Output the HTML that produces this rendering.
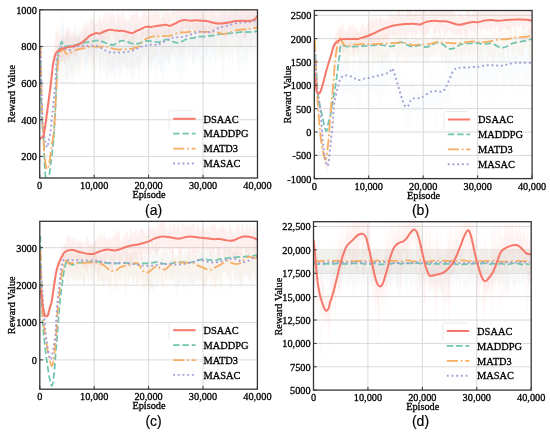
<!DOCTYPE html>
<html><head><meta charset="utf-8"><title>Reward curves</title>
<style>
html,body{margin:0;padding:0;background:#fff;}
body{width:550px;height:433px;overflow:hidden;}
svg{display:block;}
.t{font-family:'Liberation Serif','Times New Roman',serif;font-size:10.3px;fill:#000;stroke:#000;stroke-width:0.3px;}
.lg{font-family:'Liberation Serif','Times New Roman',serif;font-size:10.4px;fill:#000;stroke:#000;stroke-width:0.3px;}
.cap{font-family:'Liberation Sans',Arial,sans-serif;font-size:14px;fill:#000;stroke:#000;stroke-width:0.15px;}
</style></head>
<body>
<svg width="550" height="433" viewBox="0 0 550 433">
<rect width="550" height="433" fill="#fff"/>
<clipPath id="clipa"><rect x="39.7" y="9.8" width="217.8" height="168.2"/></clipPath>
<line x1="94.15" y1="9.8" x2="94.15" y2="178.0" stroke="#D9D9D9" stroke-width="1"/>
<line x1="148.60" y1="9.8" x2="148.60" y2="178.0" stroke="#D9D9D9" stroke-width="1"/>
<line x1="203.05" y1="9.8" x2="203.05" y2="178.0" stroke="#D9D9D9" stroke-width="1"/>
<line x1="39.7" y1="46.45" x2="257.5" y2="46.45" stroke="#D9D9D9" stroke-width="1"/>
<line x1="39.7" y1="83.10" x2="257.5" y2="83.10" stroke="#D9D9D9" stroke-width="1"/>
<line x1="39.7" y1="119.75" x2="257.5" y2="119.75" stroke="#D9D9D9" stroke-width="1"/>
<line x1="39.7" y1="156.40" x2="257.5" y2="156.40" stroke="#D9D9D9" stroke-width="1"/>
<path d="M46.1,106.9 L47.1,98.7 L48.1,97.3 L49.1,80.7 L50.1,73.7 L51.1,73.8 L52.1,62.7 L53.1,51.2 L54.1,49.5 L55.1,37.0 L56.1,28.7 L57.1,33.3 L58.1,31.4 L59.1,27.5 L60.1,43.1 L61.1,39.5 L62.1,37.1 L63.1,34.9 L64.1,38.7 L65.1,36.5 L66.1,29.9 L67.1,27.5 L68.1,36.2 L69.1,25.9 L70.1,28.6 L71.1,34.4 L72.1,32.6 L73.1,30.9 L74.1,39.5 L75.1,24.1 L76.1,31.2 L77.1,38.8 L78.1,35.2 L79.1,34.9 L80.1,27.2 L81.1,36.2 L82.1,29.1 L83.1,23.0 L84.1,29.8 L85.1,23.4 L86.1,21.1 L87.1,25.3 L88.1,30.2 L89.1,21.2 L90.1,18.9 L91.1,17.2 L92.1,20.9 L93.1,17.6 L94.1,22.6 L95.1,23.8 L96.1,17.5 L97.1,24.2 L98.1,22.7 L99.1,14.6 L100.1,13.2 L101.1,25.7 L102.1,14.4 L103.1,21.1 L104.1,7.0 L105.1,23.8 L106.1,9.7 L107.1,13.6 L108.1,23.0 L109.1,10.7 L110.1,12.7 L111.1,16.9 L112.1,10.2 L113.1,17.6 L114.1,11.9 L115.1,20.1 L116.1,24.0 L117.1,15.9 L118.1,5.1 L119.1,20.1 L120.1,13.3 L121.1,20.6 L122.1,10.9 L123.1,11.7 L124.1,15.9 L125.1,19.5 L126.1,22.3 L127.1,18.5 L128.1,18.3 L129.1,23.3 L130.1,13.8 L131.1,15.5 L132.1,14.4 L133.1,14.5 L134.1,9.4 L135.1,16.4 L136.1,13.2 L137.1,7.5 L138.1,12.1 L139.1,20.5 L140.1,15.8 L141.1,21.2 L142.1,15.3 L143.1,13.9 L144.1,9.2 L145.1,14.5 L146.1,2.5 L147.1,20.2 L148.1,15.2 L149.1,6.7 L150.1,9.3 L151.1,6.4 L152.1,16.3 L153.1,8.4 L154.1,15.1 L155.1,7.4 L156.1,7.2 L157.1,8.3 L158.1,6.3 L159.1,17.2 L160.1,6.6 L161.1,17.6 L162.1,19.2 L163.1,8.9 L164.1,13.9 L165.1,12.9 L166.1,4.3 L167.1,7.1 L168.1,13.7 L169.1,5.1 L170.1,16.7 L171.1,12.1 L172.1,12.2 L173.1,5.4 L174.1,12.9 L175.1,4.0 L176.1,2.9 L177.1,-1.2 L178.1,6.5 L179.1,9.7 L180.1,4.0 L181.1,4.8 L182.1,5.5 L183.1,-2.1 L184.1,1.3 L185.1,-0.8 L186.1,2.0 L187.1,4.1 L188.1,5.6 L189.1,4.7 L190.1,11.8 L191.1,9.0 L192.1,4.5 L193.1,0.5 L194.1,9.9 L195.1,2.4 L196.1,0.1 L197.1,5.7 L198.1,3.7 L199.1,0.6 L200.1,6.2 L201.1,9.8 L202.1,8.4 L203.1,12.7 L204.1,12.3 L205.1,12.0 L206.1,0.2 L207.1,11.0 L208.1,8.3 L209.1,3.7 L210.1,5.9 L211.1,2.6 L212.1,11.6 L213.1,5.7 L214.1,4.5 L215.1,15.8 L216.1,-0.2 L217.1,5.9 L218.1,16.2 L219.1,3.4 L220.1,1.8 L221.1,10.1 L222.1,7.8 L223.1,12.0 L224.1,9.2 L225.1,4.0 L226.1,8.7 L227.1,16.0 L228.1,3.9 L229.1,10.3 L230.1,4.2 L231.1,5.1 L232.1,5.6 L233.1,-0.3 L234.1,10.7 L235.1,-2.3 L236.1,5.6 L237.1,1.0 L238.1,3.5 L239.1,7.8 L240.1,9.9 L241.1,10.4 L242.1,6.8 L243.1,10.1 L244.1,2.2 L245.1,-2.5 L246.1,11.9 L247.1,1.5 L248.1,-0.0 L249.1,0.3 L250.1,3.9 L251.1,5.9 L252.1,6.9 L253.1,4.3 L254.1,-0.3 L255.1,12.0 L256.1,2.3 L257.1,-2.2 L257.1,27.9 L256.1,32.4 L255.1,33.2 L254.1,30.0 L253.1,24.7 L252.1,25.5 L251.1,25.0 L250.1,32.8 L249.1,26.3 L248.1,29.2 L247.1,32.0 L246.1,37.9 L245.1,37.2 L244.1,40.4 L243.1,32.9 L242.1,32.2 L241.1,31.0 L240.1,30.9 L239.1,29.5 L238.1,26.8 L237.1,35.6 L236.1,37.0 L235.1,30.5 L234.1,28.7 L233.1,29.0 L232.1,31.0 L231.1,26.7 L230.1,30.8 L229.1,32.7 L228.1,28.1 L227.1,34.9 L226.1,39.6 L225.1,36.8 L224.1,36.9 L223.1,34.5 L222.1,32.1 L221.1,33.1 L220.1,33.5 L219.1,33.9 L218.1,36.4 L217.1,29.7 L216.1,27.4 L215.1,29.0 L214.1,30.5 L213.1,33.4 L212.1,37.7 L211.1,38.3 L210.1,37.2 L209.1,30.8 L208.1,27.0 L207.1,26.6 L206.1,32.9 L205.1,35.6 L204.1,35.8 L203.1,29.1 L202.1,31.3 L201.1,31.2 L200.1,29.3 L199.1,35.8 L198.1,30.1 L197.1,31.8 L196.1,30.5 L195.1,33.6 L194.1,29.9 L193.1,28.7 L192.1,28.3 L191.1,29.7 L190.1,32.8 L189.1,32.5 L188.1,35.8 L187.1,28.5 L186.1,28.4 L185.1,29.0 L184.1,27.4 L183.1,35.6 L182.1,32.2 L181.1,32.7 L180.1,36.5 L179.1,34.3 L178.1,29.3 L177.1,29.3 L176.1,35.1 L175.1,36.1 L174.1,28.2 L173.1,35.1 L172.1,32.2 L171.1,34.0 L170.1,35.0 L169.1,43.9 L168.1,33.7 L167.1,32.6 L166.1,38.1 L165.1,40.2 L164.1,33.1 L163.1,36.7 L162.1,33.2 L161.1,35.0 L160.1,35.5 L159.1,36.8 L158.1,37.7 L157.1,40.3 L156.1,41.9 L155.1,38.8 L154.1,38.4 L153.1,34.8 L152.1,37.5 L151.1,32.6 L150.1,44.4 L149.1,37.0 L148.1,39.1 L147.1,40.9 L146.1,35.5 L145.1,36.2 L144.1,34.7 L143.1,38.6 L142.1,34.7 L141.1,41.0 L140.1,36.8 L139.1,40.4 L138.1,38.2 L137.1,41.0 L136.1,37.5 L135.1,39.6 L134.1,47.1 L133.1,45.5 L132.1,45.1 L131.1,38.9 L130.1,51.3 L129.1,43.6 L128.1,45.8 L127.1,38.7 L126.1,37.8 L125.1,42.2 L124.1,43.3 L123.1,37.9 L122.1,42.9 L121.1,35.8 L120.1,38.5 L119.1,45.0 L118.1,43.5 L117.1,37.5 L116.1,43.6 L115.1,37.5 L114.1,42.7 L113.1,41.2 L112.1,35.2 L111.1,34.4 L110.1,39.9 L109.1,40.3 L108.1,43.7 L107.1,39.8 L106.1,39.8 L105.1,41.0 L104.1,38.0 L103.1,45.5 L102.1,44.4 L101.1,45.2 L100.1,42.5 L99.1,48.1 L98.1,48.1 L97.1,49.9 L96.1,45.3 L95.1,41.2 L94.1,41.8 L93.1,41.9 L92.1,53.8 L91.1,53.6 L90.1,41.8 L89.1,49.8 L88.1,55.3 L87.1,47.0 L86.1,47.2 L85.1,53.3 L84.1,49.0 L83.1,45.8 L82.1,51.0 L81.1,50.8 L80.1,51.3 L79.1,49.9 L78.1,51.8 L77.1,56.0 L76.1,55.5 L75.1,61.3 L74.1,53.2 L73.1,56.4 L72.1,53.8 L71.1,55.7 L70.1,56.4 L69.1,62.1 L68.1,59.7 L67.1,57.3 L66.1,59.4 L65.1,63.9 L64.1,62.6 L63.1,56.8 L62.1,61.2 L61.1,62.0 L60.1,61.4 L59.1,60.5 L58.1,59.3 L57.1,65.0 L56.1,58.6 L55.1,65.5 L54.1,65.9 L53.1,70.2 L52.1,76.6 L51.1,94.3 L50.1,101.6 L49.1,108.0 L48.1,116.7 L47.1,125.9 L46.1,130.6Z" fill="#F6786A" fill-opacity="0.11" stroke="none" clip-path="url(#clipa)"/>
<path d="M53.6,105.3 L54.6,101.8 L55.6,89.9 L56.6,72.0 L57.6,46.5 L58.6,49.1 L59.6,22.6 L60.6,40.1 L61.6,7.1 L62.6,19.8 L63.6,22.7 L64.6,35.4 L65.6,35.5 L66.6,23.3 L67.6,33.7 L68.6,34.4 L69.6,37.5 L70.6,35.2 L71.6,34.9 L72.6,39.7 L73.6,37.5 L74.6,35.1 L75.6,36.3 L76.6,36.5 L77.6,20.4 L78.6,39.1 L79.6,15.5 L80.6,39.6 L81.6,29.4 L82.6,32.6 L83.6,23.7 L84.6,36.6 L85.6,20.6 L86.6,35.4 L87.6,35.7 L88.6,32.9 L89.6,31.3 L90.6,33.6 L91.6,38.1 L92.6,7.9 L93.6,33.8 L94.6,18.9 L95.6,30.4 L96.6,34.3 L97.6,36.6 L98.6,31.1 L99.6,15.4 L100.6,31.1 L101.6,31.0 L102.6,31.3 L103.6,33.7 L104.6,30.1 L105.6,25.0 L106.6,33.9 L107.6,39.2 L108.6,28.0 L109.6,35.3 L110.6,40.2 L111.6,12.1 L112.6,23.8 L113.6,36.0 L114.6,34.0 L115.6,17.3 L116.6,35.9 L117.6,27.2 L118.6,8.6 L119.6,38.0 L120.6,33.2 L121.6,23.8 L122.6,32.4 L123.6,33.2 L124.6,28.7 L125.6,17.5 L126.6,35.2 L127.6,33.7 L128.6,11.0 L129.6,31.5 L130.6,17.0 L131.6,28.9 L132.6,37.4 L133.6,20.7 L134.6,29.3 L135.6,24.7 L136.6,29.5 L137.6,32.9 L138.6,33.2 L139.6,39.4 L140.6,22.9 L141.6,36.4 L142.6,26.4 L143.6,31.1 L144.6,31.9 L145.6,33.8 L146.6,29.6 L147.6,16.2 L148.6,30.0 L149.6,31.2 L150.6,31.5 L151.6,31.8 L152.6,25.5 L153.6,34.7 L154.6,22.4 L155.6,36.4 L156.6,35.0 L157.6,28.5 L158.6,37.8 L159.6,34.8 L160.6,25.6 L161.6,17.0 L162.6,9.1 L163.6,8.4 L164.6,28.2 L165.6,33.6 L166.6,13.0 L167.6,35.7 L168.6,11.0 L169.6,32.8 L170.6,28.0 L171.6,31.0 L172.6,34.3 L173.6,36.4 L174.6,23.6 L175.6,31.0 L176.6,18.8 L177.6,33.2 L178.6,29.1 L179.6,29.1 L180.6,15.1 L181.6,34.6 L182.6,13.9 L183.6,36.0 L184.6,34.9 L185.6,31.7 L186.6,15.5 L187.6,31.8 L188.6,12.4 L189.6,11.6 L190.6,34.2 L191.6,34.4 L192.6,8.0 L193.6,28.0 L194.6,29.8 L195.6,29.0 L196.6,23.1 L197.6,1.2 L198.6,20.5 L199.6,31.8 L200.6,17.5 L201.6,20.3 L202.6,29.2 L203.6,24.4 L204.6,6.0 L205.6,16.1 L206.6,21.4 L207.6,25.1 L208.6,27.2 L209.6,26.0 L210.6,25.7 L211.6,24.3 L212.6,28.5 L213.6,27.9 L214.6,24.6 L215.6,19.4 L216.6,29.2 L217.6,12.9 L218.6,28.5 L219.6,25.8 L220.6,26.7 L221.6,28.2 L222.6,22.7 L223.6,28.9 L224.6,19.4 L225.6,21.5 L226.6,21.7 L227.6,25.2 L228.6,25.2 L229.6,10.9 L230.6,25.1 L231.6,26.1 L232.6,18.6 L233.6,28.1 L234.6,27.7 L235.6,1.4 L236.6,20.4 L237.6,19.0 L238.6,25.4 L239.6,14.7 L240.6,9.6 L241.6,21.6 L242.6,20.1 L243.6,22.5 L244.6,23.5 L245.6,22.6 L246.6,23.2 L247.6,13.3 L248.6,22.2 L249.6,26.8 L250.6,24.4 L251.6,20.8 L252.6,25.5 L253.6,16.2 L254.6,1.1 L255.6,21.2 L256.6,18.1 L256.6,66.7 L255.6,44.0 L254.6,63.8 L253.6,53.1 L252.6,51.1 L251.6,70.1 L250.6,53.6 L249.6,42.7 L248.6,52.6 L247.6,60.3 L246.6,58.7 L245.6,75.7 L244.6,56.5 L243.6,57.7 L242.6,70.7 L241.6,63.8 L240.6,62.2 L239.6,71.9 L238.6,65.6 L237.6,74.2 L236.6,50.2 L235.6,48.4 L234.6,58.8 L233.6,51.2 L232.6,66.8 L231.6,55.9 L230.6,57.7 L229.6,67.5 L228.6,46.7 L227.6,63.2 L226.6,51.9 L225.6,47.5 L224.6,65.8 L223.6,84.1 L222.6,80.2 L221.6,75.9 L220.6,52.2 L219.6,59.5 L218.6,58.7 L217.6,48.2 L216.6,61.0 L215.6,70.3 L214.6,61.4 L213.6,56.4 L212.6,51.1 L211.6,54.6 L210.6,69.2 L209.6,56.5 L208.6,63.1 L207.6,58.1 L206.6,55.3 L205.6,59.7 L204.6,55.2 L203.6,73.6 L202.6,49.4 L201.6,78.1 L200.6,62.4 L199.6,64.5 L198.6,50.8 L197.6,59.9 L196.6,55.9 L195.6,68.4 L194.6,54.8 L193.6,64.1 L192.6,64.7 L191.6,61.3 L190.6,49.6 L189.6,53.4 L188.6,67.8 L187.6,57.8 L186.6,56.1 L185.6,75.4 L184.6,52.4 L183.6,65.2 L182.6,84.8 L181.6,80.1 L180.6,61.9 L179.6,88.5 L178.6,73.9 L177.6,72.8 L176.6,70.8 L175.6,66.8 L174.6,52.2 L173.6,63.7 L172.6,56.2 L171.6,52.8 L170.6,53.2 L169.6,67.3 L168.6,66.3 L167.6,56.9 L166.6,76.9 L165.6,68.8 L164.6,63.7 L163.6,90.7 L162.6,76.6 L161.6,72.3 L160.6,74.1 L159.6,66.8 L158.6,63.3 L157.6,70.4 L156.6,90.5 L155.6,59.9 L154.6,59.4 L153.6,80.4 L152.6,56.6 L151.6,77.8 L150.6,66.6 L149.6,76.8 L148.6,68.0 L147.6,63.7 L146.6,62.1 L145.6,55.0 L144.6,55.0 L143.6,77.6 L142.6,66.2 L141.6,61.3 L140.6,69.9 L139.6,78.0 L138.6,81.5 L137.6,61.4 L136.6,70.8 L135.6,68.0 L134.6,90.1 L133.6,76.4 L132.6,85.7 L131.6,78.6 L130.6,63.0 L129.6,74.2 L128.6,68.0 L127.6,62.2 L126.6,81.4 L125.6,61.5 L124.6,65.7 L123.6,64.4 L122.6,80.5 L121.6,62.2 L120.6,56.2 L119.6,95.2 L118.6,55.9 L117.6,67.7 L116.6,69.2 L115.6,58.6 L114.6,86.3 L113.6,69.7 L112.6,71.5 L111.6,67.1 L110.6,71.9 L109.6,69.5 L108.6,61.7 L107.6,82.7 L106.6,61.9 L105.6,54.5 L104.6,54.0 L103.6,71.7 L102.6,82.6 L101.6,53.7 L100.6,61.4 L99.6,79.7 L98.6,63.2 L97.6,54.3 L96.6,64.1 L95.6,49.6 L94.6,64.2 L93.6,60.7 L92.6,96.2 L91.6,59.5 L90.6,53.4 L89.6,64.8 L88.6,61.1 L87.6,68.3 L86.6,65.0 L85.6,78.1 L84.6,77.9 L83.6,54.9 L82.6,53.6 L81.6,59.6 L80.6,68.4 L79.6,63.8 L78.6,64.6 L77.6,71.7 L76.6,70.6 L75.6,76.8 L74.6,68.6 L73.6,80.9 L72.6,87.1 L71.6,73.0 L70.6,83.4 L69.6,73.2 L68.6,60.2 L67.6,88.0 L66.6,81.3 L65.6,86.8 L64.6,79.6 L63.6,87.4 L62.6,87.8 L61.6,64.2 L60.6,60.3 L59.6,72.6 L58.6,71.4 L57.6,79.1 L56.6,130.7 L55.6,124.1 L54.6,145.0 L53.6,149.1Z" fill="#A8D0DC" fill-opacity="0.09" stroke="none" clip-path="url(#clipa)"/>
<path d="M54.1,121.9 L55.1,104.2 L56.1,87.3 L57.1,62.5 L58.1,41.1 L59.1,46.9 L60.1,47.1 L61.1,29.2 L62.1,34.0 L63.1,40.4 L64.1,38.8 L65.1,44.2 L66.1,31.0 L67.1,25.1 L68.1,26.6 L69.1,45.3 L70.1,48.1 L71.1,38.5 L72.1,37.5 L73.1,43.8 L74.1,22.5 L75.1,45.0 L76.1,44.0 L77.1,33.1 L78.1,38.7 L79.1,37.1 L80.1,36.3 L81.1,43.2 L82.1,41.4 L83.1,40.3 L84.1,38.4 L85.1,31.6 L86.1,21.8 L87.1,39.3 L88.1,37.2 L89.1,38.3 L90.1,41.3 L91.1,40.7 L92.1,40.5 L93.1,37.2 L94.1,35.3 L95.1,39.5 L96.1,41.7 L97.1,36.9 L98.1,37.4 L99.1,39.1 L100.1,26.7 L101.1,23.2 L102.1,26.4 L103.1,40.6 L104.1,38.8 L105.1,30.3 L106.1,33.2 L107.1,42.0 L108.1,24.6 L109.1,29.8 L110.1,42.1 L111.1,33.9 L112.1,39.4 L113.1,44.8 L114.1,40.6 L115.1,45.6 L116.1,26.6 L117.1,43.3 L118.1,41.1 L119.1,42.0 L120.1,45.6 L121.1,39.4 L122.1,42.0 L123.1,36.3 L124.1,35.4 L125.1,29.2 L126.1,29.5 L127.1,34.1 L128.1,34.0 L129.1,40.8 L130.1,40.0 L131.1,39.0 L132.1,32.5 L133.1,34.4 L134.1,36.6 L135.1,22.7 L136.1,28.7 L137.1,37.2 L138.1,39.4 L139.1,39.7 L140.1,36.8 L141.1,32.8 L142.1,32.1 L143.1,28.4 L144.1,35.3 L145.1,33.7 L146.1,26.3 L147.1,30.4 L148.1,30.1 L149.1,22.7 L150.1,26.3 L151.1,24.5 L152.1,26.2 L153.1,29.8 L154.1,10.7 L155.1,31.5 L156.1,12.4 L157.1,29.4 L158.1,20.8 L159.1,22.7 L160.1,27.6 L161.1,24.9 L162.1,25.1 L163.1,26.4 L164.1,18.7 L165.1,17.7 L166.1,19.8 L167.1,28.4 L168.1,28.5 L169.1,17.1 L170.1,25.6 L171.1,24.5 L172.1,29.5 L173.1,22.8 L174.1,28.0 L175.1,26.7 L176.1,26.6 L177.1,15.3 L178.1,29.0 L179.1,28.1 L180.1,15.0 L181.1,26.2 L182.1,27.4 L183.1,9.3 L184.1,21.3 L185.1,23.7 L186.1,17.0 L187.1,21.7 L188.1,24.4 L189.1,22.2 L190.1,22.1 L191.1,27.2 L192.1,8.5 L193.1,23.4 L194.1,14.4 L195.1,6.4 L196.1,20.8 L197.1,27.8 L198.1,20.5 L199.1,24.4 L200.1,12.7 L201.1,23.0 L202.1,28.4 L203.1,25.1 L204.1,25.6 L205.1,25.0 L206.1,24.0 L207.1,24.4 L208.1,27.0 L209.1,23.3 L210.1,22.9 L211.1,21.3 L212.1,17.8 L213.1,5.5 L214.1,28.4 L215.1,22.8 L216.1,19.8 L217.1,22.5 L218.1,22.7 L219.1,27.7 L220.1,23.2 L221.1,20.8 L222.1,27.1 L223.1,28.5 L224.1,24.5 L225.1,25.5 L226.1,25.4 L227.1,11.9 L228.1,15.5 L229.1,27.7 L230.1,25.0 L231.1,27.0 L232.1,24.2 L233.1,22.9 L234.1,13.6 L235.1,26.3 L236.1,9.1 L237.1,24.4 L238.1,17.2 L239.1,19.9 L240.1,16.4 L241.1,20.6 L242.1,21.6 L243.1,19.5 L244.1,23.8 L245.1,23.0 L246.1,11.6 L247.1,5.3 L248.1,4.2 L249.1,18.7 L250.1,7.0 L251.1,19.6 L252.1,16.6 L253.1,14.3 L254.1,23.5 L255.1,14.7 L256.1,3.9 L257.1,20.0 L257.1,46.4 L256.1,41.0 L255.1,65.0 L254.1,41.9 L253.1,48.0 L252.1,41.6 L251.1,49.3 L250.1,38.9 L249.1,67.7 L248.1,53.8 L247.1,46.4 L246.1,69.8 L245.1,40.1 L244.1,53.5 L243.1,51.6 L242.1,41.3 L241.1,48.7 L240.1,50.4 L239.1,44.4 L238.1,62.9 L237.1,52.5 L236.1,55.2 L235.1,51.4 L234.1,47.0 L233.1,54.8 L232.1,60.6 L231.1,47.0 L230.1,46.3 L229.1,55.4 L228.1,46.6 L227.1,56.4 L226.1,56.6 L225.1,57.3 L224.1,49.1 L223.1,57.1 L222.1,55.6 L221.1,56.5 L220.1,60.3 L219.1,51.8 L218.1,56.9 L217.1,49.1 L216.1,67.9 L215.1,53.9 L214.1,41.8 L213.1,48.6 L212.1,44.6 L211.1,43.4 L210.1,53.8 L209.1,41.0 L208.1,46.8 L207.1,57.4 L206.1,50.4 L205.1,40.0 L204.1,39.5 L203.1,42.5 L202.1,51.7 L201.1,48.9 L200.1,51.6 L199.1,52.6 L198.1,51.3 L197.1,44.0 L196.1,40.7 L195.1,54.5 L194.1,51.6 L193.1,57.1 L192.1,57.3 L191.1,42.7 L190.1,56.6 L189.1,65.8 L188.1,42.2 L187.1,49.7 L186.1,48.6 L185.1,55.7 L184.1,68.5 L183.1,56.1 L182.1,52.3 L181.1,51.8 L180.1,49.3 L179.1,54.9 L178.1,60.5 L177.1,42.6 L176.1,58.6 L175.1,54.4 L174.1,55.6 L173.1,54.8 L172.1,50.7 L171.1,55.0 L170.1,55.6 L169.1,53.6 L168.1,58.6 L167.1,61.1 L166.1,52.0 L165.1,56.2 L164.1,54.3 L163.1,59.6 L162.1,59.2 L161.1,52.3 L160.1,50.9 L159.1,44.3 L158.1,49.1 L157.1,55.3 L156.1,60.6 L155.1,53.6 L154.1,57.7 L153.1,55.0 L152.1,73.6 L151.1,59.5 L150.1,63.6 L149.1,66.5 L148.1,48.8 L147.1,48.9 L146.1,65.0 L145.1,75.2 L144.1,54.6 L143.1,62.7 L142.1,58.9 L141.1,64.0 L140.1,72.5 L139.1,70.4 L138.1,60.8 L137.1,67.5 L136.1,58.5 L135.1,56.5 L134.1,66.8 L133.1,68.5 L132.1,78.4 L131.1,68.2 L130.1,57.5 L129.1,56.2 L128.1,71.6 L127.1,80.9 L126.1,62.5 L125.1,72.5 L124.1,59.1 L123.1,64.2 L122.1,71.5 L121.1,74.4 L120.1,67.1 L119.1,69.4 L118.1,60.4 L117.1,67.7 L116.1,60.4 L115.1,58.4 L114.1,68.8 L113.1,63.2 L112.1,78.7 L111.1,80.9 L110.1,74.7 L109.1,72.2 L108.1,65.2 L107.1,67.8 L106.1,62.4 L105.1,83.3 L104.1,67.0 L103.1,57.6 L102.1,67.4 L101.1,69.1 L100.1,87.4 L99.1,68.9 L98.1,61.0 L97.1,56.5 L96.1,72.3 L95.1,78.8 L94.1,57.6 L93.1,64.9 L92.1,69.2 L91.1,65.4 L90.1,67.5 L89.1,71.4 L88.1,60.4 L87.1,61.2 L86.1,60.9 L85.1,55.5 L84.1,67.2 L83.1,65.8 L82.1,66.3 L81.1,74.6 L80.1,70.5 L79.1,70.2 L78.1,66.9 L77.1,79.6 L76.1,67.1 L75.1,67.4 L74.1,86.2 L73.1,71.0 L72.1,73.3 L71.1,66.6 L70.1,93.8 L69.1,78.2 L68.1,79.5 L67.1,72.1 L66.1,87.5 L65.1,69.1 L64.1,68.5 L63.1,59.6 L62.1,81.1 L61.1,85.6 L60.1,75.8 L59.1,78.6 L58.1,85.8 L57.1,91.5 L56.1,118.1 L55.1,131.1 L54.1,147.6Z" fill="#F7AD60" fill-opacity="0.06" stroke="none" clip-path="url(#clipa)"/>
<path d="M55.3,81.7 L56.3,61.0 L57.3,45.3 L58.3,43.9 L59.3,45.8 L60.3,42.7 L61.3,42.7 L62.3,26.6 L63.3,21.1 L64.3,34.0 L65.3,40.5 L66.3,45.4 L67.3,31.5 L68.3,31.0 L69.3,39.6 L70.3,30.9 L71.3,43.8 L72.3,37.6 L73.3,32.5 L74.3,26.3 L75.3,34.8 L76.3,31.0 L77.3,34.0 L78.3,35.1 L79.3,37.0 L80.3,40.2 L81.3,41.4 L82.3,38.1 L83.3,36.2 L84.3,35.0 L85.3,32.2 L86.3,39.2 L87.3,22.1 L88.3,30.1 L89.3,40.5 L90.3,34.4 L91.3,26.9 L92.3,35.7 L93.3,38.8 L94.3,41.0 L95.3,31.8 L96.3,36.3 L97.3,41.1 L98.3,39.6 L99.3,33.5 L100.3,39.2 L101.3,29.7 L102.3,41.4 L103.3,27.1 L104.3,39.9 L105.3,42.9 L106.3,39.6 L107.3,42.5 L108.3,47.7 L109.3,47.8 L110.3,43.5 L111.3,39.8 L112.3,40.1 L113.3,43.4 L114.3,43.1 L115.3,45.9 L116.3,33.7 L117.3,44.9 L118.3,35.5 L119.3,36.6 L120.3,33.1 L121.3,46.2 L122.3,45.5 L123.3,43.5 L124.3,33.6 L125.3,39.3 L126.3,45.5 L127.3,42.5 L128.3,44.8 L129.3,39.0 L130.3,38.6 L131.3,39.9 L132.3,34.6 L133.3,24.1 L134.3,42.1 L135.3,32.5 L136.3,42.5 L137.3,38.2 L138.3,38.2 L139.3,42.9 L140.3,31.5 L141.3,28.6 L142.3,38.3 L143.3,26.3 L144.3,41.0 L145.3,30.5 L146.3,38.5 L147.3,24.4 L148.3,34.7 L149.3,23.1 L150.3,24.0 L151.3,38.2 L152.3,34.3 L153.3,29.5 L154.3,38.3 L155.3,31.6 L156.3,31.6 L157.3,20.6 L158.3,29.5 L159.3,36.4 L160.3,32.9 L161.3,39.3 L162.3,32.1 L163.3,35.4 L164.3,17.6 L165.3,33.1 L166.3,27.9 L167.3,32.1 L168.3,27.6 L169.3,29.1 L170.3,30.3 L171.3,33.3 L172.3,31.0 L173.3,28.1 L174.3,30.3 L175.3,33.7 L176.3,27.8 L177.3,10.4 L178.3,13.4 L179.3,30.5 L180.3,20.1 L181.3,10.2 L182.3,32.1 L183.3,17.1 L184.3,29.0 L185.3,22.0 L186.3,29.1 L187.3,16.0 L188.3,26.4 L189.3,16.7 L190.3,25.3 L191.3,25.8 L192.3,24.9 L193.3,28.7 L194.3,21.4 L195.3,29.1 L196.3,19.0 L197.3,22.1 L198.3,24.4 L199.3,17.8 L200.3,10.4 L201.3,23.6 L202.3,25.2 L203.3,17.0 L204.3,15.5 L205.3,27.6 L206.3,25.3 L207.3,24.9 L208.3,19.5 L209.3,19.0 L210.3,21.5 L211.3,23.0 L212.3,23.2 L213.3,17.3 L214.3,17.6 L215.3,16.0 L216.3,19.3 L217.3,24.7 L218.3,17.5 L219.3,8.8 L220.3,21.3 L221.3,6.1 L222.3,2.2 L223.3,14.8 L224.3,1.8 L225.3,13.5 L226.3,9.5 L227.3,21.7 L228.3,16.2 L229.3,16.5 L230.3,4.6 L231.3,4.7 L232.3,18.6 L233.3,2.9 L234.3,19.4 L235.3,4.0 L236.3,1.6 L237.3,17.5 L238.3,5.6 L239.3,13.0 L240.3,11.2 L241.3,15.1 L242.3,1.4 L243.3,14.3 L244.3,10.5 L245.3,13.3 L246.3,9.2 L247.3,17.8 L248.3,14.5 L249.3,9.9 L250.3,8.3 L251.3,-1.0 L252.3,14.7 L253.3,-0.0 L254.3,10.6 L255.3,6.0 L256.3,8.4 L257.3,12.6 L257.3,30.1 L256.3,54.3 L255.3,31.6 L254.3,43.0 L253.3,33.2 L252.3,42.2 L251.3,51.9 L250.3,50.3 L249.3,43.8 L248.3,33.4 L247.3,35.4 L246.3,48.5 L245.3,37.3 L244.3,48.0 L243.3,31.6 L242.3,47.5 L241.3,47.8 L240.3,45.2 L239.3,56.1 L238.3,44.0 L237.3,57.2 L236.3,37.0 L235.3,35.6 L234.3,43.2 L233.3,45.1 L232.3,37.7 L231.3,35.2 L230.3,43.8 L229.3,41.7 L228.3,43.3 L227.3,33.1 L226.3,47.8 L225.3,50.0 L224.3,43.0 L223.3,37.7 L222.3,52.4 L221.3,49.5 L220.3,43.3 L219.3,40.5 L218.3,37.5 L217.3,35.6 L216.3,48.5 L215.3,48.5 L214.3,45.4 L213.3,56.3 L212.3,55.2 L211.3,41.4 L210.3,52.4 L209.3,50.1 L208.3,42.4 L207.3,53.2 L206.3,57.8 L205.3,64.6 L204.3,41.7 L203.3,50.4 L202.3,50.3 L201.3,43.0 L200.3,49.7 L199.3,56.7 L198.3,47.8 L197.3,57.6 L196.3,58.0 L195.3,51.7 L194.3,61.8 L193.3,64.2 L192.3,51.3 L191.3,45.2 L190.3,56.8 L189.3,53.8 L188.3,50.3 L187.3,47.7 L186.3,43.8 L185.3,52.3 L184.3,47.2 L183.3,54.1 L182.3,59.9 L181.3,52.5 L180.3,61.4 L179.3,53.7 L178.3,63.8 L177.3,44.5 L176.3,53.7 L175.3,46.8 L174.3,48.8 L173.3,56.6 L172.3,54.4 L171.3,56.5 L170.3,57.9 L169.3,65.9 L168.3,64.0 L167.3,56.0 L166.3,61.5 L165.3,62.8 L164.3,54.8 L163.3,58.1 L162.3,63.2 L161.3,76.1 L160.3,65.9 L159.3,64.5 L158.3,66.5 L157.3,53.7 L156.3,58.0 L155.3,81.1 L154.3,56.4 L153.3,58.6 L152.3,60.3 L151.3,67.6 L150.3,53.8 L149.3,57.7 L148.3,66.8 L147.3,70.4 L146.3,52.4 L145.3,54.3 L144.3,56.7 L143.3,57.8 L142.3,55.4 L141.3,67.2 L140.3,62.7 L139.3,66.3 L138.3,66.9 L137.3,73.6 L136.3,62.1 L135.3,68.4 L134.3,72.1 L133.3,60.3 L132.3,68.4 L131.3,68.6 L130.3,82.1 L129.3,68.8 L128.3,67.1 L127.3,69.1 L126.3,68.8 L125.3,70.7 L124.3,68.7 L123.3,61.5 L122.3,64.2 L121.3,79.6 L120.3,71.4 L119.3,65.5 L118.3,73.4 L117.3,77.8 L116.3,66.5 L115.3,80.1 L114.3,80.7 L113.3,61.3 L112.3,82.1 L111.3,67.2 L110.3,65.2 L109.3,62.9 L108.3,83.0 L107.3,80.9 L106.3,73.6 L105.3,72.7 L104.3,67.3 L103.3,67.8 L102.3,58.7 L101.3,63.0 L100.3,65.6 L99.3,71.7 L98.3,53.3 L97.3,55.3 L96.3,74.3 L95.3,53.5 L94.3,63.3 L93.3,65.0 L92.3,64.7 L91.3,56.7 L90.3,64.0 L89.3,57.9 L88.3,55.2 L87.3,65.6 L86.3,62.6 L85.3,65.5 L84.3,65.7 L83.3,56.5 L82.3,55.3 L81.3,65.7 L80.3,58.1 L79.3,80.7 L78.3,79.1 L77.3,53.2 L76.3,57.9 L75.3,67.6 L74.3,55.6 L73.3,62.2 L72.3,70.3 L71.3,73.3 L70.3,70.6 L69.3,66.4 L68.3,61.1 L67.3,86.9 L66.3,61.9 L65.3,64.9 L64.3,67.0 L63.3,61.7 L62.3,59.0 L61.3,65.4 L60.3,75.3 L59.3,70.8 L58.3,82.8 L57.3,72.9 L56.3,82.8 L55.3,102.8Z" fill="#A49ED8" fill-opacity="0.05" stroke="none" clip-path="url(#clipa)"/>
<path d="M40.50,60.00 C40.58,65.00 40.75,80.00 41.00,90.00 C41.25,100.00 41.63,112.83 42.00,120.00 C42.37,127.17 42.90,129.42 43.20,133.00 C43.50,136.58 43.62,137.18 43.80,141.50 C43.98,145.82 44.02,153.12 44.30,158.90 C44.58,164.68 45.05,172.35 45.50,176.20 C45.95,180.05 46.42,182.00 47.00,182.00 C47.58,182.00 48.38,179.10 49.00,176.20 C49.62,173.30 50.13,168.83 50.70,164.60 C51.27,160.37 51.92,155.03 52.40,150.80 C52.88,146.57 53.32,142.67 53.60,139.20 C53.88,135.73 53.90,133.37 54.10,130.00 C54.30,126.63 54.57,123.00 54.80,119.00 C55.03,115.00 55.27,110.83 55.50,106.00 C55.73,101.17 55.95,96.00 56.20,90.00 C56.45,84.00 56.70,75.83 57.00,70.00 C57.30,64.17 57.52,58.80 58.00,55.00 C58.48,51.20 59.28,49.43 59.90,47.20 C60.52,44.97 61.15,41.97 61.70,41.60 C62.25,41.23 62.50,44.22 63.20,45.00 C63.90,45.78 64.68,46.17 65.90,46.30 C67.12,46.43 68.97,46.03 70.50,45.80 C72.03,45.57 73.52,45.28 75.10,44.90 C76.68,44.52 78.27,43.92 80.00,43.50 C81.73,43.08 83.68,42.68 85.50,42.40 C87.32,42.12 89.08,42.12 90.90,41.80 C92.72,41.48 94.58,40.58 96.40,40.50 C98.22,40.42 99.98,40.80 101.80,41.30 C103.62,41.80 105.48,42.90 107.30,43.50 C109.12,44.10 111.07,45.00 112.70,44.90 C114.33,44.80 115.63,43.60 117.10,42.90 C118.57,42.20 120.05,40.97 121.50,40.70 C122.95,40.43 124.35,40.93 125.80,41.30 C127.25,41.67 128.75,42.45 130.20,42.90 C131.65,43.35 132.87,43.97 134.50,44.00 C136.13,44.03 138.17,43.58 140.00,43.10 C141.83,42.62 143.68,41.43 145.50,41.10 C147.32,40.77 148.90,40.92 150.90,41.10 C152.90,41.28 155.68,42.12 157.50,42.20 C159.32,42.28 160.35,42.05 161.80,41.60 C163.25,41.15 164.75,39.68 166.20,39.50 C167.65,39.32 168.87,39.97 170.50,40.50 C172.13,41.03 174.35,42.42 176.00,42.70 C177.65,42.98 178.95,42.65 180.40,42.20 C181.85,41.75 183.25,40.60 184.70,40.00 C186.15,39.40 187.47,38.97 189.10,38.60 C190.73,38.23 193.02,38.12 194.50,37.80 C195.98,37.48 196.50,36.88 198.00,36.70 C199.50,36.52 201.68,36.82 203.50,36.70 C205.32,36.58 207.08,36.23 208.90,36.00 C210.72,35.77 212.58,35.60 214.40,35.30 C216.22,35.00 217.98,34.45 219.80,34.20 C221.62,33.95 223.48,33.98 225.30,33.80 C227.12,33.62 228.88,33.28 230.70,33.10 C232.52,32.92 234.38,32.92 236.20,32.70 C238.02,32.48 239.78,31.92 241.60,31.80 C243.42,31.68 245.28,32.00 247.10,32.00 C248.92,32.00 250.77,31.93 252.50,31.80 C254.23,31.67 256.67,31.30 257.50,31.20" fill="none" stroke="#70C4B0" stroke-width="1.75" stroke-dasharray="6.5 2.8" clip-path="url(#clipa)"/>
<path d="M40.50,47.00 C40.58,50.83 40.78,61.17 41.00,70.00 C41.22,78.83 41.53,91.33 41.80,100.00 C42.07,108.67 42.37,116.42 42.60,122.00 C42.83,127.58 43.00,129.28 43.20,133.50 C43.40,137.72 43.52,143.07 43.80,147.30 C44.08,151.53 44.42,155.23 44.90,158.90 C45.38,162.57 46.02,168.35 46.70,169.30 C47.38,170.25 48.33,167.30 49.00,164.60 C49.67,161.90 50.13,156.95 50.70,153.10 C51.27,149.25 51.83,145.35 52.40,141.50 C52.97,137.65 53.72,133.65 54.10,130.00 C54.48,126.35 54.50,123.25 54.70,119.60 C54.90,115.95 55.10,111.95 55.30,108.10 C55.50,104.25 55.70,100.35 55.90,96.50 C56.10,92.65 56.28,89.08 56.50,85.00 C56.72,80.92 56.93,75.83 57.20,72.00 C57.47,68.17 57.82,64.75 58.10,62.00 C58.38,59.25 58.60,57.05 58.90,55.50 C59.20,53.95 59.43,53.55 59.90,52.70 C60.37,51.85 61.08,50.88 61.70,50.40 C62.32,49.92 62.98,49.42 63.60,49.80 C64.22,50.18 64.78,51.98 65.40,52.70 C66.02,53.42 66.60,53.93 67.30,54.10 C68.00,54.27 68.77,54.08 69.60,53.70 C70.43,53.32 71.23,52.42 72.30,51.80 C73.37,51.18 74.72,50.48 76.00,50.00 C77.28,49.52 78.60,49.22 80.00,48.90 C81.40,48.58 82.95,48.40 84.40,48.10 C85.85,47.80 87.25,47.33 88.70,47.10 C90.15,46.87 91.63,46.77 93.10,46.70 C94.57,46.63 96.05,46.70 97.50,46.70 C98.95,46.70 100.35,46.70 101.80,46.70 C103.25,46.70 104.75,46.47 106.20,46.70 C107.65,46.93 109.05,47.68 110.50,48.10 C111.95,48.52 113.43,48.97 114.90,49.20 C116.37,49.43 117.85,49.50 119.30,49.50 C120.75,49.50 122.15,49.30 123.60,49.20 C125.05,49.10 126.53,49.00 128.00,48.90 C129.47,48.80 130.95,48.90 132.40,48.60 C133.85,48.30 135.43,47.60 136.70,47.10 C137.97,46.60 139.08,46.52 140.00,45.60 C140.92,44.68 141.12,42.80 142.20,41.60 C143.28,40.40 145.23,39.12 146.50,38.40 C147.77,37.68 148.52,37.63 149.80,37.30 C151.08,36.97 152.20,36.58 154.20,36.40 C156.20,36.22 159.62,36.27 161.80,36.20 C163.98,36.13 165.67,36.15 167.30,36.00 C168.93,35.85 170.15,35.72 171.60,35.30 C173.05,34.88 174.53,33.98 176.00,33.50 C177.47,33.02 178.95,32.58 180.40,32.40 C181.85,32.22 183.25,32.50 184.70,32.40 C186.15,32.30 187.47,31.93 189.10,31.80 C190.73,31.67 193.02,31.60 194.50,31.60 C195.98,31.60 196.50,31.77 198.00,31.80 C199.50,31.83 201.68,31.80 203.50,31.80 C205.32,31.80 207.08,31.80 208.90,31.80 C210.72,31.80 212.58,31.58 214.40,31.80 C216.22,32.02 218.17,32.73 219.80,33.10 C221.43,33.47 222.75,34.03 224.20,34.00 C225.65,33.97 227.05,33.35 228.50,32.90 C229.95,32.45 231.43,31.75 232.90,31.30 C234.37,30.85 235.85,30.48 237.30,30.20 C238.75,29.92 239.97,29.78 241.60,29.60 C243.23,29.42 245.28,29.32 247.10,29.10 C248.92,28.88 250.77,28.58 252.50,28.30 C254.23,28.02 256.67,27.55 257.50,27.40" fill="none" stroke="#F7AD60" stroke-width="1.75" stroke-dasharray="11.2 2.8 1.75 2.8" clip-path="url(#clipa)"/>
<path d="M40.50,47.00 C40.58,50.83 40.78,61.17 41.00,70.00 C41.22,78.83 41.53,90.83 41.80,100.00 C42.07,109.17 42.37,120.00 42.60,125.00 C42.83,130.00 42.92,128.02 43.20,130.00 C43.48,131.98 43.92,134.78 44.30,136.90 C44.68,139.02 45.02,140.97 45.50,142.70 C45.98,144.43 46.72,147.30 47.20,147.30 C47.68,147.30 48.02,144.43 48.40,142.70 C48.78,140.97 49.12,139.02 49.50,136.90 C49.88,134.78 50.32,132.88 50.70,130.00 C51.08,127.12 51.42,123.25 51.80,119.60 C52.18,115.95 52.62,111.95 53.00,108.10 C53.38,104.25 53.72,100.35 54.10,96.50 C54.48,92.65 55.00,89.08 55.30,85.00 C55.60,80.92 55.68,76.15 55.90,72.00 C56.12,67.85 56.32,62.85 56.60,60.10 C56.88,57.35 57.28,56.88 57.60,55.50 C57.92,54.12 58.12,53.03 58.50,51.80 C58.88,50.57 59.22,48.87 59.90,48.10 C60.58,47.33 61.60,46.97 62.60,47.20 C63.60,47.43 64.82,48.97 65.90,49.50 C66.98,50.03 68.03,50.63 69.10,50.40 C70.17,50.17 70.98,48.78 72.30,48.10 C73.62,47.42 75.45,46.68 77.00,46.30 C78.55,45.92 80.07,45.88 81.60,45.80 C83.13,45.72 84.65,45.83 86.20,45.80 C87.75,45.77 89.20,45.57 90.90,45.60 C92.60,45.63 94.58,45.53 96.40,46.00 C98.22,46.47 100.17,47.60 101.80,48.40 C103.43,49.20 104.75,50.12 106.20,50.80 C107.65,51.48 109.05,52.22 110.50,52.50 C111.95,52.78 113.43,52.50 114.90,52.50 C116.37,52.50 117.85,52.55 119.30,52.50 C120.75,52.45 122.15,52.35 123.60,52.20 C125.05,52.05 126.53,51.88 128.00,51.60 C129.47,51.32 130.95,50.95 132.40,50.50 C133.85,50.05 135.43,49.47 136.70,48.90 C137.97,48.33 138.72,47.58 140.00,47.10 C141.28,46.62 142.95,46.37 144.40,46.00 C145.85,45.63 147.25,45.17 148.70,44.90 C150.15,44.63 151.63,44.40 153.10,44.40 C154.57,44.40 156.05,45.18 157.50,44.90 C158.95,44.62 159.98,43.60 161.80,42.70 C163.62,41.80 166.58,40.32 168.40,39.50 C170.22,38.68 171.25,38.17 172.70,37.80 C174.15,37.43 175.63,37.42 177.10,37.30 C178.57,37.18 180.05,37.32 181.50,37.10 C182.95,36.88 184.35,36.43 185.80,36.00 C187.25,35.57 188.75,34.92 190.20,34.50 C191.65,34.08 193.20,33.95 194.50,33.50 C195.80,33.05 196.68,32.08 198.00,31.80 C199.32,31.52 200.95,31.70 202.40,31.80 C203.85,31.90 205.25,32.40 206.70,32.40 C208.15,32.40 209.63,32.27 211.10,31.80 C212.57,31.33 214.05,30.32 215.50,29.60 C216.95,28.88 218.35,28.03 219.80,27.50 C221.25,26.97 222.75,26.77 224.20,26.40 C225.65,26.03 227.05,25.70 228.50,25.30 C229.95,24.90 231.43,24.40 232.90,24.00 C234.37,23.60 235.85,23.15 237.30,22.90 C238.75,22.65 240.15,22.62 241.60,22.50 C243.05,22.38 244.53,22.32 246.00,22.20 C247.47,22.08 248.95,22.02 250.40,21.80 C251.85,21.58 253.52,21.13 254.70,20.90 C255.88,20.67 257.03,20.48 257.50,20.40" fill="none" stroke="#A49ED8" stroke-width="1.9" stroke-dasharray="1.9 2.8" clip-path="url(#clipa)"/>
<path d="M39.70,139.50 C39.90,139.27 40.43,138.52 40.90,138.10 C41.37,137.68 42.02,137.52 42.50,137.00 C42.98,136.48 43.20,137.90 43.80,135.00 C44.40,132.10 45.33,125.05 46.10,119.60 C46.87,114.15 47.63,108.07 48.40,102.30 C49.17,96.53 50.13,89.55 50.70,85.00 C51.27,80.45 51.43,78.33 51.80,75.00 C52.17,71.67 52.48,67.78 52.90,65.00 C53.32,62.22 53.83,60.18 54.30,58.30 C54.77,56.42 55.15,54.87 55.70,53.70 C56.25,52.53 56.83,52.00 57.60,51.30 C58.37,50.60 59.23,50.03 60.30,49.50 C61.37,48.97 62.77,48.48 64.00,48.10 C65.23,47.72 66.47,47.48 67.70,47.20 C68.93,46.92 70.17,46.63 71.40,46.40 C72.63,46.17 73.87,46.13 75.10,45.80 C76.33,45.47 77.57,45.02 78.80,44.40 C80.03,43.78 81.27,43.02 82.50,42.10 C83.73,41.18 84.95,39.98 86.20,38.90 C87.45,37.82 88.85,36.38 90.00,35.60 C91.15,34.82 92.03,34.62 93.10,34.20 C94.17,33.78 95.32,33.20 96.40,33.10 C97.48,33.00 98.33,33.87 99.60,33.60 C100.87,33.33 102.35,32.13 104.00,31.50 C105.65,30.87 107.68,29.98 109.50,29.80 C111.32,29.62 113.27,30.22 114.90,30.40 C116.53,30.58 117.85,30.82 119.30,30.90 C120.75,30.98 122.15,30.68 123.60,30.90 C125.05,31.12 126.53,31.83 128.00,32.20 C129.47,32.57 130.95,33.32 132.40,33.10 C133.85,32.88 135.43,31.48 136.70,30.90 C137.97,30.32 138.53,30.27 140.00,29.60 C141.47,28.93 143.68,27.35 145.50,26.90 C147.32,26.45 149.08,27.03 150.90,26.90 C152.72,26.77 154.58,26.37 156.40,26.10 C158.22,25.83 160.17,25.53 161.80,25.30 C163.43,25.07 164.92,24.62 166.20,24.70 C167.48,24.78 168.42,25.80 169.50,25.80 C170.58,25.80 171.62,25.15 172.70,24.70 C173.78,24.25 174.72,23.73 176.00,23.10 C177.28,22.47 178.95,21.42 180.40,20.90 C181.85,20.38 183.07,20.03 184.70,20.00 C186.33,19.97 188.57,20.63 190.20,20.70 C191.83,20.77 193.20,20.45 194.50,20.40 C195.80,20.35 196.50,20.35 198.00,20.40 C199.50,20.45 201.68,20.52 203.50,20.70 C205.32,20.88 207.08,21.13 208.90,21.50 C210.72,21.87 212.58,22.55 214.40,22.90 C216.22,23.25 217.98,23.57 219.80,23.60 C221.62,23.63 223.48,23.37 225.30,23.10 C227.12,22.83 228.88,22.33 230.70,22.00 C232.52,21.67 234.38,21.32 236.20,21.10 C238.02,20.88 239.78,20.73 241.60,20.70 C243.42,20.67 245.28,20.95 247.10,20.90 C248.92,20.85 251.05,20.85 252.50,20.40 C253.95,19.95 254.97,18.93 255.80,18.20 C256.63,17.47 257.22,16.37 257.50,16.00" fill="none" stroke="#F6786A" stroke-width="2.0" clip-path="url(#clipa)"/>
<rect x="39.7" y="9.8" width="217.8" height="168.2" fill="none" stroke="#333333" stroke-width="1.3"/>
<line x1="39.70" y1="178.0" x2="39.70" y2="174.8" stroke="#333333" stroke-width="1"/>
<line x1="94.15" y1="178.0" x2="94.15" y2="174.8" stroke="#333333" stroke-width="1"/>
<line x1="148.60" y1="178.0" x2="148.60" y2="174.8" stroke="#333333" stroke-width="1"/>
<line x1="203.05" y1="178.0" x2="203.05" y2="174.8" stroke="#333333" stroke-width="1"/>
<line x1="257.50" y1="178.0" x2="257.50" y2="174.8" stroke="#333333" stroke-width="1"/>
<line x1="39.7" y1="9.80" x2="42.900000000000006" y2="9.80" stroke="#333333" stroke-width="1"/>
<text x="36.80" y="13.70" text-anchor="end" class="t">1000</text>
<line x1="39.7" y1="46.45" x2="42.900000000000006" y2="46.45" stroke="#333333" stroke-width="1"/>
<text x="36.80" y="50.35" text-anchor="end" class="t">800</text>
<line x1="39.7" y1="83.10" x2="42.900000000000006" y2="83.10" stroke="#333333" stroke-width="1"/>
<text x="36.80" y="87.00" text-anchor="end" class="t">600</text>
<line x1="39.7" y1="119.75" x2="42.900000000000006" y2="119.75" stroke="#333333" stroke-width="1"/>
<text x="36.80" y="123.65" text-anchor="end" class="t">400</text>
<line x1="39.7" y1="156.40" x2="42.900000000000006" y2="156.40" stroke="#333333" stroke-width="1"/>
<text x="36.80" y="160.30" text-anchor="end" class="t">200</text>
<text x="39.70" y="189.20" text-anchor="middle" class="t">0</text>
<text x="94.15" y="189.20" text-anchor="middle" class="t">10,000</text>
<text x="148.60" y="189.20" text-anchor="middle" class="t">20,000</text>
<text x="203.05" y="189.20" text-anchor="middle" class="t">30,000</text>
<text x="257.50" y="189.20" text-anchor="middle" class="t">40,000</text>
<text x="149.00" y="198.00" text-anchor="middle" class="t">Episode</text>
<text transform="translate(14.80,93.90) rotate(-90)" text-anchor="middle" class="t">Reward Value</text>
<text x="153.60" y="214.70" text-anchor="middle" class="cap">(a)</text>
<path d="M169.1,128.8 L169.1,112.8 Q169.1,110.8 171.1,110.8 L193.1,110.8" fill="none" stroke="#E4E4E4" stroke-width="0.8"/>
<line x1="173.1" y1="118.80" x2="195.6" y2="118.80" stroke="#F6786A" stroke-width="2.0"/>
<text x="203.40" y="122.50" class="lg">DSAAC</text>
<line x1="173.1" y1="133.70" x2="195.6" y2="133.70" stroke="#70C4B0" stroke-width="1.75" stroke-dasharray="6.5 2.8"/>
<text x="203.40" y="137.40" class="lg">MADDPG</text>
<line x1="173.1" y1="148.60" x2="195.6" y2="148.60" stroke="#F7AD60" stroke-width="1.75" stroke-dasharray="11.2 2.8 1.75 2.8"/>
<text x="203.40" y="152.30" class="lg">MATD3</text>
<line x1="173.1" y1="163.50" x2="195.6" y2="163.50" stroke="#A49ED8" stroke-width="1.9" stroke-dasharray="1.9 2.8"/>
<text x="203.40" y="167.20" class="lg">MASAC</text>
<clipPath id="clipb"><rect x="314.3" y="10.5" width="217.8" height="168.1"/></clipPath>
<line x1="368.75" y1="10.5" x2="368.75" y2="178.6" stroke="#D9D9D9" stroke-width="1"/>
<line x1="423.20" y1="10.5" x2="423.20" y2="178.6" stroke="#D9D9D9" stroke-width="1"/>
<line x1="477.65" y1="10.5" x2="477.65" y2="178.6" stroke="#D9D9D9" stroke-width="1"/>
<line x1="314.3" y1="15.30" x2="532.1" y2="15.30" stroke="#D9D9D9" stroke-width="1"/>
<line x1="314.3" y1="38.65" x2="532.1" y2="38.65" stroke="#D9D9D9" stroke-width="1"/>
<line x1="314.3" y1="61.99" x2="532.1" y2="61.99" stroke="#D9D9D9" stroke-width="1"/>
<line x1="314.3" y1="85.33" x2="532.1" y2="85.33" stroke="#D9D9D9" stroke-width="1"/>
<line x1="314.3" y1="108.68" x2="532.1" y2="108.68" stroke="#D9D9D9" stroke-width="1"/>
<line x1="314.3" y1="132.03" x2="532.1" y2="132.03" stroke="#D9D9D9" stroke-width="1"/>
<line x1="314.3" y1="155.37" x2="532.1" y2="155.37" stroke="#D9D9D9" stroke-width="1"/>
<path d="M334.0,38.1 L335.0,38.3 L336.0,29.7 L337.0,35.0 L338.0,24.1 L339.0,30.8 L340.0,25.6 L341.0,29.3 L342.0,20.5 L343.0,23.5 L344.0,28.4 L345.0,32.3 L346.0,32.2 L347.0,28.8 L348.0,29.7 L349.0,27.8 L350.0,24.5 L351.0,24.6 L352.0,31.8 L353.0,19.4 L354.0,33.9 L355.0,24.7 L356.0,31.0 L357.0,24.7 L358.0,33.6 L359.0,30.7 L360.0,31.3 L361.0,25.9 L362.0,24.3 L363.0,23.8 L364.0,29.3 L365.0,25.0 L366.0,31.2 L367.0,24.8 L368.0,19.8 L369.0,19.1 L370.0,24.9 L371.0,15.3 L372.0,19.1 L373.0,19.8 L374.0,18.1 L375.0,20.7 L376.0,15.2 L377.0,19.0 L378.0,24.1 L379.0,16.5 L380.0,15.0 L381.0,17.5 L382.0,18.5 L383.0,17.0 L384.0,22.0 L385.0,19.8 L386.0,16.9 L387.0,19.6 L388.0,19.8 L389.0,13.7 L390.0,12.3 L391.0,14.0 L392.0,19.4 L393.0,10.8 L394.0,16.5 L395.0,15.4 L396.0,13.9 L397.0,11.6 L398.0,10.5 L399.0,10.1 L400.0,11.2 L401.0,18.7 L402.0,9.5 L403.0,12.8 L404.0,15.8 L405.0,19.0 L406.0,7.4 L407.0,12.1 L408.0,5.4 L409.0,9.3 L410.0,11.0 L411.0,7.2 L412.0,13.9 L413.0,14.2 L414.0,14.6 L415.0,10.2 L416.0,12.5 L417.0,4.0 L418.0,18.3 L419.0,7.0 L420.0,11.3 L421.0,10.9 L422.0,13.1 L423.0,15.0 L424.0,10.7 L425.0,5.4 L426.0,9.2 L427.0,11.6 L428.0,16.1 L429.0,10.6 L430.0,11.9 L431.0,10.8 L432.0,3.6 L433.0,8.7 L434.0,3.1 L435.0,8.1 L436.0,13.4 L437.0,4.8 L438.0,9.4 L439.0,8.8 L440.0,3.2 L441.0,7.3 L442.0,5.6 L443.0,10.1 L444.0,14.3 L445.0,9.0 L446.0,11.1 L447.0,10.2 L448.0,11.9 L449.0,6.0 L450.0,11.1 L451.0,5.9 L452.0,7.5 L453.0,14.0 L454.0,10.1 L455.0,14.0 L456.0,18.7 L457.0,15.4 L458.0,17.9 L459.0,8.5 L460.0,15.6 L461.0,13.4 L462.0,15.1 L463.0,14.7 L464.0,16.0 L465.0,18.2 L466.0,11.7 L467.0,10.8 L468.0,7.6 L469.0,7.2 L470.0,15.7 L471.0,11.3 L472.0,17.1 L473.0,11.1 L474.0,11.3 L475.0,7.9 L476.0,11.9 L477.0,12.0 L478.0,13.1 L479.0,12.8 L480.0,6.1 L481.0,12.4 L482.0,5.0 L483.0,8.3 L484.0,8.0 L485.0,13.5 L486.0,8.7 L487.0,4.3 L488.0,10.9 L489.0,6.0 L490.0,4.5 L491.0,6.3 L492.0,5.8 L493.0,7.8 L494.0,6.4 L495.0,10.5 L496.0,12.1 L497.0,3.0 L498.0,14.6 L499.0,1.6 L500.0,1.2 L501.0,15.6 L502.0,13.1 L503.0,9.0 L504.0,10.7 L505.0,11.5 L506.0,12.3 L507.0,10.7 L508.0,11.5 L509.0,9.2 L510.0,8.1 L511.0,8.8 L512.0,1.9 L513.0,11.4 L514.0,11.9 L515.0,7.4 L516.0,7.7 L517.0,4.0 L518.0,13.0 L519.0,6.5 L520.0,7.5 L521.0,6.1 L522.0,3.5 L523.0,4.0 L524.0,14.5 L525.0,4.6 L526.0,10.6 L527.0,14.5 L528.0,4.6 L529.0,3.9 L530.0,9.7 L531.0,4.5 L532.0,5.2 L532.0,34.9 L531.0,30.6 L530.0,37.8 L529.0,32.2 L528.0,32.1 L527.0,25.5 L526.0,27.2 L525.0,29.9 L524.0,31.6 L523.0,28.6 L522.0,31.2 L521.0,24.0 L520.0,26.0 L519.0,27.1 L518.0,28.5 L517.0,27.5 L516.0,25.2 L515.0,34.4 L514.0,26.6 L513.0,26.6 L512.0,28.0 L511.0,34.3 L510.0,29.9 L509.0,29.5 L508.0,31.6 L507.0,29.3 L506.0,29.9 L505.0,27.8 L504.0,27.8 L503.0,30.5 L502.0,31.9 L501.0,29.7 L500.0,33.6 L499.0,32.2 L498.0,33.1 L497.0,25.7 L496.0,25.4 L495.0,37.2 L494.0,26.8 L493.0,26.5 L492.0,35.4 L491.0,27.8 L490.0,33.0 L489.0,28.4 L488.0,29.4 L487.0,32.8 L486.0,29.3 L485.0,28.5 L484.0,25.9 L483.0,31.4 L482.0,28.2 L481.0,34.1 L480.0,29.5 L479.0,27.2 L478.0,30.2 L477.0,31.2 L476.0,37.7 L475.0,28.1 L474.0,34.7 L473.0,32.0 L472.0,28.3 L471.0,36.6 L470.0,32.5 L469.0,27.8 L468.0,37.2 L467.0,37.6 L466.0,36.3 L465.0,36.2 L464.0,29.5 L463.0,31.8 L462.0,38.6 L461.0,34.9 L460.0,37.6 L459.0,33.2 L458.0,35.3 L457.0,34.8 L456.0,35.1 L455.0,30.8 L454.0,36.7 L453.0,35.7 L452.0,30.9 L451.0,31.3 L450.0,35.7 L449.0,29.2 L448.0,33.4 L447.0,32.3 L446.0,34.5 L445.0,37.5 L444.0,36.8 L443.0,30.8 L442.0,28.2 L441.0,31.6 L440.0,37.5 L439.0,31.1 L438.0,34.6 L437.0,30.4 L436.0,33.2 L435.0,33.4 L434.0,38.0 L433.0,29.9 L432.0,28.1 L431.0,26.5 L430.0,29.6 L429.0,33.4 L428.0,33.6 L427.0,34.1 L426.0,33.6 L425.0,36.6 L424.0,35.5 L423.0,33.6 L422.0,28.5 L421.0,36.7 L420.0,32.8 L419.0,29.7 L418.0,35.0 L417.0,33.7 L416.0,34.2 L415.0,36.4 L414.0,30.4 L413.0,35.2 L412.0,41.1 L411.0,30.6 L410.0,32.8 L409.0,36.9 L408.0,30.6 L407.0,38.1 L406.0,36.6 L405.0,40.1 L404.0,31.3 L403.0,36.8 L402.0,33.8 L401.0,35.8 L400.0,34.6 L399.0,32.7 L398.0,35.6 L397.0,36.5 L396.0,39.6 L395.0,35.3 L394.0,36.2 L393.0,36.3 L392.0,34.8 L391.0,35.9 L390.0,36.9 L389.0,38.0 L388.0,40.0 L387.0,40.3 L386.0,39.2 L385.0,39.7 L384.0,40.4 L383.0,42.1 L382.0,33.5 L381.0,44.6 L380.0,42.3 L379.0,45.0 L378.0,43.6 L377.0,47.3 L376.0,36.9 L375.0,44.8 L374.0,51.3 L373.0,44.8 L372.0,46.3 L371.0,43.3 L370.0,44.9 L369.0,48.9 L368.0,49.0 L367.0,41.3 L366.0,42.6 L365.0,49.0 L364.0,41.9 L363.0,50.9 L362.0,43.7 L361.0,43.1 L360.0,42.8 L359.0,51.9 L358.0,50.2 L357.0,45.9 L356.0,47.0 L355.0,51.9 L354.0,54.5 L353.0,55.0 L352.0,45.5 L351.0,45.4 L350.0,43.7 L349.0,46.9 L348.0,48.8 L347.0,51.9 L346.0,46.4 L345.0,50.3 L344.0,49.0 L343.0,54.8 L342.0,48.4 L341.0,47.9 L340.0,51.2 L339.0,54.7 L338.0,52.3 L337.0,52.4 L336.0,51.8 L335.0,59.5 L334.0,53.1Z" fill="#F6786A" fill-opacity="0.11" stroke="none" clip-path="url(#clipb)"/>
<path d="M339.4,30.2 L340.4,24.3 L341.4,30.4 L342.4,37.2 L343.4,41.1 L344.4,38.2 L345.4,39.3 L346.4,41.8 L347.4,32.9 L348.4,33.8 L349.4,38.0 L350.4,42.1 L351.4,39.6 L352.4,37.0 L353.4,38.6 L354.4,32.1 L355.4,38.2 L356.4,32.4 L357.4,28.7 L358.4,34.5 L359.4,31.3 L360.4,41.0 L361.4,32.1 L362.4,40.0 L363.4,28.1 L364.4,34.9 L365.4,32.9 L366.4,33.7 L367.4,37.2 L368.4,33.4 L369.4,34.9 L370.4,30.1 L371.4,35.2 L372.4,39.5 L373.4,34.0 L374.4,40.9 L375.4,34.7 L376.4,33.5 L377.4,38.8 L378.4,31.3 L379.4,39.6 L380.4,33.3 L381.4,36.7 L382.4,33.3 L383.4,27.1 L384.4,34.3 L385.4,33.6 L386.4,34.8 L387.4,32.9 L388.4,40.7 L389.4,36.4 L390.4,38.1 L391.4,39.0 L392.4,37.6 L393.4,32.0 L394.4,38.4 L395.4,38.5 L396.4,37.1 L397.4,35.2 L398.4,38.3 L399.4,26.0 L400.4,35.4 L401.4,36.8 L402.4,37.3 L403.4,34.5 L404.4,37.2 L405.4,38.3 L406.4,38.5 L407.4,38.7 L408.4,40.0 L409.4,37.5 L410.4,36.5 L411.4,36.7 L412.4,38.3 L413.4,39.5 L414.4,36.4 L415.4,32.3 L416.4,37.5 L417.4,35.9 L418.4,39.5 L419.4,34.7 L420.4,37.4 L421.4,37.1 L422.4,39.0 L423.4,37.6 L424.4,34.8 L425.4,26.8 L426.4,37.3 L427.4,37.9 L428.4,38.5 L429.4,38.1 L430.4,40.9 L431.4,36.3 L432.4,36.5 L433.4,36.9 L434.4,30.1 L435.4,37.1 L436.4,37.1 L437.4,35.7 L438.4,36.4 L439.4,36.5 L440.4,33.2 L441.4,39.7 L442.4,38.9 L443.4,35.8 L444.4,38.6 L445.4,38.2 L446.4,35.2 L447.4,35.3 L448.4,40.0 L449.4,34.6 L450.4,31.0 L451.4,38.2 L452.4,38.2 L453.4,39.2 L454.4,38.5 L455.4,30.6 L456.4,29.8 L457.4,36.1 L458.4,39.6 L459.4,29.2 L460.4,37.7 L461.4,39.3 L462.4,35.9 L463.4,35.0 L464.4,27.3 L465.4,39.3 L466.4,34.6 L467.4,37.4 L468.4,37.8 L469.4,37.0 L470.4,38.4 L471.4,31.9 L472.4,37.4 L473.4,34.6 L474.4,36.6 L475.4,38.4 L476.4,34.6 L477.4,38.1 L478.4,38.2 L479.4,38.2 L480.4,37.0 L481.4,32.0 L482.4,31.9 L483.4,32.4 L484.4,37.7 L485.4,35.2 L486.4,33.6 L487.4,38.1 L488.4,35.7 L489.4,37.1 L490.4,34.8 L491.4,33.8 L492.4,37.3 L493.4,34.9 L494.4,25.9 L495.4,32.6 L496.4,35.4 L497.4,35.1 L498.4,33.6 L499.4,34.9 L500.4,30.0 L501.4,31.3 L502.4,32.8 L503.4,32.4 L504.4,28.5 L505.4,32.2 L506.4,35.1 L507.4,30.6 L508.4,24.2 L509.4,28.3 L510.4,31.0 L511.4,34.9 L512.4,31.5 L513.4,31.6 L514.4,23.0 L515.4,28.9 L516.4,30.1 L517.4,32.8 L518.4,24.0 L519.4,32.5 L520.4,30.2 L521.4,32.7 L522.4,31.0 L523.4,32.2 L524.4,29.7 L525.4,29.1 L526.4,28.9 L527.4,28.9 L528.4,28.1 L529.4,32.4 L530.4,25.9 L531.4,29.1 L531.4,53.4 L530.4,57.9 L529.4,61.2 L528.4,54.6 L527.4,44.5 L526.4,42.6 L525.4,48.0 L524.4,49.2 L523.4,59.6 L522.4,52.2 L521.4,57.6 L520.4,53.8 L519.4,53.0 L518.4,56.6 L517.4,47.9 L516.4,57.0 L515.4,47.2 L514.4,57.9 L513.4,56.0 L512.4,55.6 L511.4,55.6 L510.4,47.6 L509.4,50.9 L508.4,56.2 L507.4,59.2 L506.4,49.4 L505.4,47.9 L504.4,49.7 L503.4,60.0 L502.4,56.4 L501.4,45.5 L500.4,50.1 L499.4,63.3 L498.4,54.7 L497.4,48.9 L496.4,58.4 L495.4,55.7 L494.4,53.4 L493.4,64.0 L492.4,58.8 L491.4,63.3 L490.4,53.4 L489.4,59.9 L488.4,53.0 L487.4,66.7 L486.4,47.8 L485.4,51.3 L484.4,48.7 L483.4,56.5 L482.4,64.7 L481.4,59.1 L480.4,58.8 L479.4,52.3 L478.4,56.3 L477.4,54.8 L476.4,49.0 L475.4,53.0 L474.4,57.7 L473.4,63.9 L472.4,55.0 L471.4,58.0 L470.4,50.1 L469.4,53.9 L468.4,57.1 L467.4,51.4 L466.4,50.7 L465.4,60.3 L464.4,54.9 L463.4,53.3 L462.4,60.5 L461.4,65.2 L460.4,61.4 L459.4,53.5 L458.4,51.5 L457.4,57.9 L456.4,53.2 L455.4,60.6 L454.4,57.2 L453.4,51.1 L452.4,59.9 L451.4,50.7 L450.4,57.2 L449.4,58.1 L448.4,51.0 L447.4,58.4 L446.4,60.5 L445.4,61.5 L444.4,56.4 L443.4,56.5 L442.4,63.3 L441.4,63.2 L440.4,52.1 L439.4,60.0 L438.4,49.0 L437.4,59.5 L436.4,51.4 L435.4,55.6 L434.4,57.8 L433.4,53.1 L432.4,61.2 L431.4,54.9 L430.4,60.6 L429.4,51.3 L428.4,54.8 L427.4,61.2 L426.4,66.7 L425.4,58.8 L424.4,54.1 L423.4,58.4 L422.4,53.9 L421.4,57.7 L420.4,58.4 L419.4,56.7 L418.4,61.0 L417.4,63.9 L416.4,57.6 L415.4,63.2 L414.4,51.1 L413.4,56.9 L412.4,57.8 L411.4,59.8 L410.4,58.9 L409.4,53.3 L408.4,61.2 L407.4,64.9 L406.4,53.0 L405.4,62.4 L404.4,62.2 L403.4,68.1 L402.4,51.2 L401.4,63.2 L400.4,51.4 L399.4,56.4 L398.4,57.6 L397.4,61.3 L396.4,64.6 L395.4,56.3 L394.4,55.8 L393.4,49.3 L392.4,58.5 L391.4,51.2 L390.4,49.5 L389.4,56.8 L388.4,57.2 L387.4,60.7 L386.4,58.1 L385.4,58.3 L384.4,62.0 L383.4,57.1 L382.4,63.4 L381.4,64.2 L380.4,62.5 L379.4,55.5 L378.4,59.5 L377.4,62.4 L376.4,57.6 L375.4,62.7 L374.4,66.0 L373.4,56.3 L372.4,64.1 L371.4,56.0 L370.4,62.9 L369.4,54.3 L368.4,51.9 L367.4,67.5 L366.4,51.3 L365.4,56.2 L364.4,54.9 L363.4,51.8 L362.4,50.8 L361.4,57.0 L360.4,65.3 L359.4,58.9 L358.4,55.5 L357.4,54.8 L356.4,56.9 L355.4,50.3 L354.4,55.3 L353.4,62.7 L352.4,55.6 L351.4,55.3 L350.4,56.9 L349.4,55.7 L348.4,69.0 L347.4,61.3 L346.4,70.0 L345.4,57.3 L344.4,60.4 L343.4,60.5 L342.4,56.6 L341.4,57.5 L340.4,45.5 L339.4,64.0Z" fill="#F7AD60" fill-opacity="0.07" stroke="none" clip-path="url(#clipb)"/>
<path d="M338.8,55.0 L339.8,47.4 L340.8,34.9 L341.8,38.6 L342.8,31.3 L343.8,35.3 L344.8,36.7 L345.8,38.3 L346.8,34.0 L347.8,34.2 L348.8,38.0 L349.8,41.9 L350.8,37.7 L351.8,41.8 L352.8,33.2 L353.8,36.5 L354.8,31.8 L355.8,43.2 L356.8,39.2 L357.8,38.1 L358.8,42.7 L359.8,37.0 L360.8,41.3 L361.8,39.6 L362.8,40.8 L363.8,39.4 L364.8,36.8 L365.8,38.8 L366.8,33.4 L367.8,41.0 L368.8,37.9 L369.8,39.2 L370.8,38.4 L371.8,38.6 L372.8,33.7 L373.8,41.5 L374.8,36.6 L375.8,35.9 L376.8,36.7 L377.8,37.2 L378.8,35.0 L379.8,37.1 L380.8,40.5 L381.8,40.2 L382.8,38.2 L383.8,38.2 L384.8,36.0 L385.8,42.6 L386.8,38.8 L387.8,38.9 L388.8,40.6 L389.8,41.9 L390.8,42.0 L391.8,39.5 L392.8,40.1 L393.8,37.8 L394.8,41.4 L395.8,39.4 L396.8,39.0 L397.8,31.4 L398.8,39.8 L399.8,34.4 L400.8,35.5 L401.8,36.2 L402.8,36.7 L403.8,36.7 L404.8,29.4 L405.8,31.8 L406.8,32.2 L407.8,40.8 L408.8,37.2 L409.8,42.1 L410.8,42.0 L411.8,39.8 L412.8,42.0 L413.8,38.2 L414.8,31.2 L415.8,42.1 L416.8,38.2 L417.8,38.7 L418.8,42.0 L419.8,41.5 L420.8,37.0 L421.8,38.2 L422.8,40.8 L423.8,41.5 L424.8,33.3 L425.8,40.4 L426.8,40.9 L427.8,39.9 L428.8,41.6 L429.8,38.0 L430.8,42.3 L431.8,30.9 L432.8,40.7 L433.8,35.8 L434.8,28.9 L435.8,37.6 L436.8,35.6 L437.8,38.1 L438.8,38.8 L439.8,26.7 L440.8,36.9 L441.8,36.5 L442.8,38.0 L443.8,37.2 L444.8,39.9 L445.8,41.0 L446.8,41.0 L447.8,43.6 L448.8,36.4 L449.8,44.6 L450.8,38.5 L451.8,36.9 L452.8,45.8 L453.8,43.9 L454.8,43.7 L455.8,43.4 L456.8,42.7 L457.8,35.7 L458.8,37.5 L459.8,40.8 L460.8,37.6 L461.8,36.6 L462.8,37.4 L463.8,38.4 L464.8,30.5 L465.8,37.5 L466.8,31.1 L467.8,38.1 L468.8,38.6 L469.8,32.9 L470.8,37.9 L471.8,40.1 L472.8,33.1 L473.8,39.1 L474.8,33.4 L475.8,39.1 L476.8,40.2 L477.8,36.9 L478.8,28.8 L479.8,31.8 L480.8,38.9 L481.8,39.5 L482.8,37.5 L483.8,37.4 L484.8,37.6 L485.8,35.8 L486.8,39.5 L487.8,34.6 L488.8,36.9 L489.8,37.1 L490.8,39.1 L491.8,37.8 L492.8,38.4 L493.8,39.2 L494.8,39.5 L495.8,38.9 L496.8,38.1 L497.8,43.4 L498.8,40.0 L499.8,42.0 L500.8,34.3 L501.8,44.7 L502.8,44.2 L503.8,42.2 L504.8,39.7 L505.8,41.2 L506.8,43.4 L507.8,39.9 L508.8,40.1 L509.8,30.9 L510.8,37.7 L511.8,29.1 L512.8,36.7 L513.8,38.7 L514.8,38.0 L515.8,37.3 L516.8,38.8 L517.8,37.3 L518.8,36.5 L519.8,38.4 L520.8,34.9 L521.8,36.4 L522.8,27.3 L523.8,31.1 L524.8,36.3 L525.8,37.6 L526.8,32.6 L527.8,34.3 L528.8,32.5 L529.8,32.3 L530.8,27.3 L531.8,32.3 L531.8,60.3 L530.8,45.6 L529.8,59.3 L528.8,53.1 L527.8,65.5 L526.8,53.0 L525.8,58.7 L524.8,47.9 L523.8,56.9 L522.8,59.4 L521.8,66.8 L520.8,58.5 L519.8,54.4 L518.8,51.9 L517.8,53.1 L516.8,63.5 L515.8,60.4 L514.8,66.8 L513.8,53.1 L512.8,50.0 L511.8,58.4 L510.8,55.5 L509.8,66.5 L508.8,57.4 L507.8,55.0 L506.8,52.6 L505.8,56.2 L504.8,63.6 L503.8,59.0 L502.8,63.9 L501.8,67.4 L500.8,63.2 L499.8,56.3 L498.8,62.7 L497.8,61.7 L496.8,64.9 L495.8,58.0 L494.8,60.1 L493.8,62.9 L492.8,62.9 L491.8,52.9 L490.8,57.8 L489.8,56.0 L488.8,52.3 L487.8,63.4 L486.8,57.8 L485.8,63.7 L484.8,49.7 L483.8,53.6 L482.8,68.1 L481.8,49.9 L480.8,58.3 L479.8,62.3 L478.8,59.6 L477.8,59.9 L476.8,60.0 L475.8,53.0 L474.8,58.6 L473.8,50.5 L472.8,65.1 L471.8,61.2 L470.8,49.1 L469.8,60.5 L468.8,61.2 L467.8,61.9 L466.8,54.6 L465.8,53.0 L464.8,57.6 L463.8,54.9 L462.8,53.3 L461.8,60.5 L460.8,53.6 L459.8,56.5 L458.8,55.6 L457.8,62.8 L456.8,67.7 L455.8,58.0 L454.8,55.1 L453.8,59.2 L452.8,63.5 L451.8,63.2 L450.8,62.5 L449.8,68.4 L448.8,70.0 L447.8,64.4 L446.8,69.5 L445.8,62.7 L444.8,63.3 L443.8,72.6 L442.8,51.8 L441.8,63.5 L440.8,61.6 L439.8,49.7 L438.8,56.1 L437.8,63.1 L436.8,48.5 L435.8,52.4 L434.8,56.2 L433.8,64.3 L432.8,52.4 L431.8,53.4 L430.8,63.8 L429.8,64.3 L428.8,60.2 L427.8,66.2 L426.8,59.7 L425.8,57.9 L424.8,66.0 L423.8,62.5 L422.8,70.6 L421.8,52.3 L420.8,62.2 L419.8,58.2 L418.8,58.8 L417.8,53.1 L416.8,62.7 L415.8,62.4 L414.8,59.0 L413.8,59.6 L412.8,58.0 L411.8,68.5 L410.8,51.9 L409.8,67.5 L408.8,51.5 L407.8,58.6 L406.8,65.9 L405.8,60.9 L404.8,51.7 L403.8,50.0 L402.8,63.1 L401.8,54.2 L400.8,56.8 L399.8,61.9 L398.8,55.1 L397.8,62.8 L396.8,61.3 L395.8,60.3 L394.8,52.9 L393.8,52.0 L392.8,53.3 L391.8,64.5 L390.8,55.0 L389.8,63.0 L388.8,57.4 L387.8,62.5 L386.8,54.0 L385.8,63.3 L384.8,64.1 L383.8,68.7 L382.8,64.3 L381.8,63.1 L380.8,68.7 L379.8,54.2 L378.8,59.2 L377.8,64.9 L376.8,60.8 L375.8,54.0 L374.8,58.5 L373.8,62.6 L372.8,59.8 L371.8,51.9 L370.8,56.4 L369.8,51.3 L368.8,60.5 L367.8,61.4 L366.8,62.8 L365.8,59.8 L364.8,61.9 L363.8,64.0 L362.8,64.1 L361.8,66.5 L360.8,60.8 L359.8,63.4 L358.8,60.9 L357.8,64.1 L356.8,63.0 L355.8,55.2 L354.8,68.5 L353.8,60.4 L352.8,72.0 L351.8,64.6 L350.8,55.0 L349.8,64.4 L348.8,53.3 L347.8,59.7 L346.8,70.0 L345.8,63.1 L344.8,67.7 L343.8,55.9 L342.8,51.3 L341.8,63.5 L340.8,61.4 L339.8,70.6 L338.8,73.2Z" fill="#A8D0DC" fill-opacity="0.06" stroke="none" clip-path="url(#clipb)"/>
<path d="M339.6,55.1 L340.6,67.3 L341.6,58.1 L342.6,65.8 L343.6,66.4 L344.6,57.0 L345.6,56.3 L346.6,71.5 L347.6,59.5 L348.6,45.7 L349.6,58.1 L350.6,71.5 L351.6,69.1 L352.6,64.1 L353.6,70.8 L354.6,69.9 L355.6,51.0 L356.6,71.5 L357.6,73.6 L358.6,69.0 L359.6,50.9 L360.6,66.6 L361.6,73.2 L362.6,57.9 L363.6,68.5 L364.6,48.1 L365.6,62.0 L366.6,71.5 L367.6,68.1 L368.6,66.5 L369.6,68.1 L370.6,72.1 L371.6,59.8 L372.6,46.2 L373.6,46.5 L374.6,51.4 L375.6,70.8 L376.6,68.3 L377.6,63.7 L378.6,57.4 L379.6,64.4 L380.6,62.7 L381.6,45.5 L382.6,63.1 L383.6,55.2 L384.6,64.0 L385.6,61.1 L386.6,53.1 L387.6,69.2 L388.6,48.5 L389.6,66.2 L390.6,60.4 L391.6,60.9 L392.6,64.8 L393.6,65.2 L394.6,62.3 L395.6,67.2 L396.6,75.3 L397.6,48.2 L398.6,71.1 L399.6,55.5 L400.6,88.0 L401.6,82.5 L402.6,92.1 L403.6,72.2 L404.6,77.0 L405.6,102.4 L406.6,84.0 L407.6,97.2 L408.6,81.6 L409.6,95.5 L410.6,79.9 L411.6,89.6 L412.6,69.4 L413.6,85.9 L414.6,94.2 L415.6,89.2 L416.6,92.0 L417.6,86.2 L418.6,90.9 L419.6,90.6 L420.6,71.7 L421.6,86.7 L422.6,72.6 L423.6,86.5 L424.6,85.2 L425.6,70.5 L426.6,89.2 L427.6,84.1 L428.6,66.1 L429.6,71.9 L430.6,64.0 L431.6,68.6 L432.6,80.7 L433.6,84.4 L434.6,59.2 L435.6,85.5 L436.6,86.7 L437.6,79.9 L438.6,69.2 L439.6,73.7 L440.6,67.5 L441.6,84.8 L442.6,78.1 L443.6,66.7 L444.6,79.7 L445.6,77.4 L446.6,47.4 L447.6,79.7 L448.6,51.9 L449.6,70.8 L450.6,42.1 L451.6,57.3 L452.6,59.1 L453.6,67.6 L454.6,66.0 L455.6,59.8 L456.6,45.1 L457.6,40.2 L458.6,59.4 L459.6,55.6 L460.6,54.9 L461.6,42.4 L462.6,56.7 L463.6,52.4 L464.6,54.2 L465.6,60.7 L466.6,60.3 L467.6,61.4 L468.6,46.9 L469.6,49.0 L470.6,63.9 L471.6,48.4 L472.6,57.3 L473.6,61.1 L474.6,61.6 L475.6,63.2 L476.6,51.8 L477.6,59.0 L478.6,58.6 L479.6,51.1 L480.6,38.9 L481.6,54.3 L482.6,54.7 L483.6,54.3 L484.6,37.3 L485.6,53.8 L486.6,55.6 L487.6,57.7 L488.6,41.2 L489.6,49.6 L490.6,57.0 L491.6,58.5 L492.6,51.3 L493.6,49.4 L494.6,46.0 L495.6,55.6 L496.6,59.8 L497.6,62.1 L498.6,34.5 L499.6,55.2 L500.6,53.2 L501.6,46.7 L502.6,44.6 L503.6,32.9 L504.6,49.4 L505.6,55.6 L506.6,56.5 L507.6,53.7 L508.6,44.2 L509.6,53.5 L510.6,60.2 L511.6,56.7 L512.6,52.1 L513.6,31.9 L514.6,48.0 L515.6,56.8 L516.6,55.6 L517.6,46.0 L518.6,55.9 L519.6,46.7 L520.6,55.0 L521.6,56.2 L522.6,35.0 L523.6,56.9 L524.6,52.3 L525.6,54.9 L526.6,46.5 L527.6,54.7 L528.6,58.0 L529.6,40.5 L530.6,53.5 L531.6,50.8 L531.6,71.6 L530.6,95.1 L529.6,78.5 L528.6,72.5 L527.6,97.6 L526.6,80.2 L525.6,82.8 L524.6,78.2 L523.6,101.0 L522.6,70.6 L521.6,71.8 L520.6,73.7 L519.6,79.8 L518.6,97.5 L517.6,74.9 L516.6,86.3 L515.6,74.3 L514.6,72.9 L513.6,89.7 L512.6,94.0 L511.6,85.0 L510.6,76.0 L509.6,79.7 L508.6,79.4 L507.6,83.1 L506.6,82.8 L505.6,80.9 L504.6,94.1 L503.6,100.9 L502.6,82.0 L501.6,79.8 L500.6,77.2 L499.6,72.2 L498.6,77.5 L497.6,84.7 L496.6,81.3 L495.6,91.6 L494.6,100.9 L493.6,99.2 L492.6,83.2 L491.6,78.2 L490.6,98.1 L489.6,109.3 L488.6,81.9 L487.6,106.6 L486.6,87.5 L485.6,77.0 L484.6,82.4 L483.6,86.7 L482.6,78.2 L481.6,81.2 L480.6,83.2 L479.6,85.9 L478.6,76.4 L477.6,74.7 L476.6,79.6 L475.6,78.9 L474.6,74.3 L473.6,78.8 L472.6,82.7 L471.6,100.2 L470.6,99.2 L469.6,84.5 L468.6,82.9 L467.6,84.2 L466.6,76.4 L465.6,77.1 L464.6,86.0 L463.6,84.7 L462.6,80.2 L461.6,77.1 L460.6,89.1 L459.6,88.1 L458.6,81.9 L457.6,78.5 L456.6,79.3 L455.6,90.8 L454.6,95.5 L453.6,80.1 L452.6,84.8 L451.6,88.0 L450.6,91.5 L449.6,112.3 L448.6,93.0 L447.6,113.0 L446.6,102.5 L445.6,97.9 L444.6,98.6 L443.6,106.2 L442.6,115.7 L441.6,111.6 L440.6,126.7 L439.6,109.0 L438.6,116.0 L437.6,105.2 L436.6,123.9 L435.6,129.2 L434.6,105.3 L433.6,119.7 L432.6,106.1 L431.6,98.2 L430.6,124.9 L429.6,106.0 L428.6,131.6 L427.6,104.4 L426.6,121.6 L425.6,105.3 L424.6,104.6 L423.6,133.2 L422.6,126.3 L421.6,118.3 L420.6,109.7 L419.6,119.4 L418.6,126.5 L417.6,118.5 L416.6,134.3 L415.6,112.1 L414.6,104.9 L413.6,114.5 L412.6,128.5 L411.6,107.3 L410.6,129.2 L409.6,131.5 L408.6,121.0 L407.6,117.3 L406.6,132.3 L405.6,124.5 L404.6,121.1 L403.6,115.4 L402.6,116.2 L401.6,105.7 L400.6,113.2 L399.6,106.1 L398.6,104.8 L397.6,105.3 L396.6,93.9 L395.6,98.8 L394.6,82.9 L393.6,85.3 L392.6,82.7 L391.6,79.2 L390.6,82.4 L389.6,86.7 L388.6,100.2 L387.6,83.0 L386.6,91.5 L385.6,90.9 L384.6,91.0 L383.6,92.9 L382.6,94.5 L381.6,94.5 L380.6,104.3 L379.6,114.8 L378.6,100.0 L377.6,109.0 L376.6,89.5 L375.6,90.9 L374.6,91.3 L373.6,92.2 L372.6,93.2 L371.6,95.2 L370.6,88.7 L369.6,117.9 L368.6,92.1 L367.6,119.5 L366.6,89.5 L365.6,90.6 L364.6,89.4 L363.6,89.4 L362.6,86.8 L361.6,94.9 L360.6,101.8 L359.6,108.5 L358.6,119.0 L357.6,96.3 L356.6,116.4 L355.6,93.0 L354.6,93.5 L353.6,105.2 L352.6,86.7 L351.6,97.6 L350.6,90.4 L349.6,119.8 L348.6,97.0 L347.6,92.2 L346.6,89.9 L345.6,93.9 L344.6,93.1 L343.6,92.4 L342.6,98.3 L341.6,102.2 L340.6,103.9 L339.6,92.9Z" fill="#c8d0e8" fill-opacity="0.07" stroke="none" clip-path="url(#clipb)"/>
<path d="M314.8,30.3 L315.3,39.4 L315.8,57.5 L316.3,64.3 L316.8,71.7 L317.3,76.1 L317.8,95.3 L318.3,102.3 L318.8,103.2 L319.3,107.1 L319.8,115.4 L320.3,123.6 L320.8,123.0 L321.3,130.5 L321.8,137.5 L322.3,129.2 L322.8,135.2 L323.3,138.7 L323.8,138.8 L324.3,144.4 L324.8,149.3 L325.3,152.1 L325.8,150.0 L326.3,138.1 L326.8,141.2 L327.3,140.9 L327.8,133.0 L328.3,130.9 L328.8,122.7 L329.3,111.5 L329.8,111.5 L330.3,109.3 L330.8,99.7 L331.3,97.8 L331.8,86.3 L332.3,84.4 L332.8,77.7 L333.3,74.0 L333.8,71.3 L334.3,57.8 L334.8,46.8 L335.3,51.2 L335.8,45.5 L336.3,35.4 L336.8,40.5 L337.3,40.6 L337.3,55.4 L336.8,59.0 L336.3,67.7 L335.8,71.1 L335.3,71.2 L334.8,72.2 L334.3,82.5 L333.8,89.5 L333.3,99.9 L332.8,95.9 L332.3,110.9 L331.8,108.5 L331.3,110.6 L330.8,115.2 L330.3,123.9 L329.8,129.0 L329.3,145.1 L328.8,148.9 L328.3,158.8 L327.8,151.7 L327.3,157.2 L326.8,169.0 L326.3,163.1 L325.8,169.2 L325.3,169.8 L324.8,163.4 L324.3,160.7 L323.8,168.5 L323.3,156.7 L322.8,164.3 L322.3,160.2 L321.8,158.8 L321.3,148.9 L320.8,155.7 L320.3,144.5 L319.8,142.4 L319.3,130.8 L318.8,122.1 L318.3,123.9 L317.8,112.2 L317.3,110.4 L316.8,98.1 L316.3,82.5 L315.8,70.0 L315.3,58.1 L314.8,53.8Z" fill="#F7AD60" fill-opacity="0.08" stroke="none" clip-path="url(#clipb)"/>
<path d="M314.8,43.1 L315.3,46.6 L315.8,61.4 L316.3,66.6 L316.8,76.3 L317.3,81.5 L317.8,78.5 L318.3,89.4 L318.8,91.8 L319.3,97.7 L319.8,97.6 L320.3,105.9 L320.8,108.5 L321.3,113.3 L321.8,124.6 L322.3,126.5 L322.8,129.2 L323.3,140.4 L323.8,143.0 L324.3,144.8 L324.8,147.8 L325.3,148.0 L325.8,155.3 L326.3,151.7 L326.8,153.7 L327.3,159.5 L327.8,154.3 L328.3,157.1 L328.8,151.3 L329.3,145.6 L329.8,139.5 L330.3,138.9 L330.8,130.4 L331.3,128.5 L331.8,123.2 L332.3,115.7 L332.8,110.7 L333.3,110.2 L333.8,97.7 L334.3,96.3 L334.8,87.9 L335.3,88.7 L335.8,91.4 L335.8,109.1 L335.3,108.1 L334.8,114.7 L334.3,108.2 L333.8,120.5 L333.3,120.7 L332.8,130.8 L332.3,139.1 L331.8,137.6 L331.3,151.0 L330.8,147.5 L330.3,156.7 L329.8,161.2 L329.3,161.4 L328.8,163.5 L328.3,169.5 L327.8,173.1 L327.3,176.0 L326.8,172.7 L326.3,175.7 L325.8,165.0 L325.3,169.9 L324.8,165.4 L324.3,163.6 L323.8,163.7 L323.3,152.6 L322.8,151.3 L322.3,143.1 L321.8,138.8 L321.3,135.3 L320.8,122.6 L320.3,117.9 L319.8,120.0 L319.3,110.3 L318.8,107.1 L318.3,107.5 L317.8,103.0 L317.3,101.6 L316.8,86.9 L316.3,86.9 L315.8,71.0 L315.3,65.6 L314.8,54.9Z" fill="#F6786A" fill-opacity="0.06" stroke="none" clip-path="url(#clipb)"/>
<path d="M314.80,45.00 C315.08,50.00 315.95,66.50 316.50,75.00 C317.05,83.50 317.18,89.33 318.10,96.00 C319.02,102.67 320.67,109.17 322.00,115.00 C323.33,120.83 325.02,129.83 326.10,131.00 C327.18,132.17 327.73,124.72 328.50,122.00 C329.27,119.28 329.98,118.23 330.70,114.70 C331.42,111.17 332.12,104.97 332.80,100.80 C333.48,96.63 334.12,93.87 334.80,89.70 C335.48,85.53 336.23,80.75 336.90,75.80 C337.57,70.85 338.33,63.47 338.80,60.00 C339.27,56.53 339.50,56.98 339.70,55.00 C339.90,53.02 339.67,49.83 340.00,48.10 C340.33,46.37 341.03,44.98 341.70,44.60 C342.37,44.22 342.85,45.45 344.00,45.80 C345.15,46.15 345.90,46.60 348.60,46.70 C351.30,46.80 356.63,46.58 360.20,46.40 C363.77,46.22 366.30,45.82 370.00,45.60 C373.70,45.38 378.65,45.00 382.40,45.10 C386.15,45.20 389.48,46.70 392.50,46.20 C395.52,45.70 398.25,42.38 400.50,42.10 C402.75,41.82 403.98,43.75 406.00,44.50 C408.02,45.25 410.27,46.48 412.60,46.60 C414.93,46.72 417.80,45.10 420.00,45.20 C422.20,45.30 423.88,47.20 425.80,47.20 C427.72,47.20 429.58,46.02 431.50,45.20 C433.42,44.38 435.37,42.40 437.30,42.30 C439.23,42.20 441.18,43.53 443.10,44.60 C445.02,45.67 446.88,48.12 448.80,48.70 C450.72,49.28 452.67,48.78 454.60,48.10 C456.53,47.42 458.08,45.37 460.40,44.60 C462.72,43.83 466.00,43.78 468.50,43.50 C471.00,43.22 473.82,42.93 475.40,42.90 C476.98,42.87 476.42,43.12 478.00,43.30 C479.58,43.48 482.58,44.00 484.90,44.00 C487.22,44.00 489.82,42.92 491.90,43.30 C493.98,43.68 495.67,45.57 497.40,46.30 C499.13,47.03 500.68,47.70 502.30,47.70 C503.92,47.70 505.37,47.03 507.10,46.30 C508.83,45.57 510.62,44.03 512.70,43.30 C514.78,42.57 517.30,42.37 519.60,41.90 C521.90,41.43 524.42,40.98 526.50,40.50 C528.58,40.02 531.17,39.25 532.10,39.00" fill="none" stroke="#70C4B0" stroke-width="1.75" stroke-dasharray="6.5 2.8" clip-path="url(#clipb)"/>
<path d="M314.80,40.00 C315.08,46.67 315.95,68.67 316.50,80.00 C317.05,91.33 317.35,98.00 318.10,108.00 C318.85,118.00 319.80,131.45 321.00,140.00 C322.20,148.55 324.13,158.47 325.30,159.30 C326.47,160.13 327.10,153.12 328.00,145.00 C328.90,136.88 330.02,118.65 330.70,110.60 C331.38,102.55 331.65,101.33 332.10,96.70 C332.55,92.07 332.95,88.37 333.40,82.80 C333.85,77.23 334.47,67.43 334.80,63.30 C335.13,59.17 335.12,60.15 335.40,58.00 C335.68,55.85 336.12,52.63 336.50,50.40 C336.88,48.17 337.22,46.33 337.70,44.60 C338.18,42.87 338.97,41.05 339.40,40.00 C339.83,38.95 339.92,38.10 340.30,38.30 C340.68,38.50 341.08,40.15 341.70,41.20 C342.32,42.25 343.03,43.83 344.00,44.60 C344.97,45.37 345.77,45.80 347.50,45.80 C349.23,45.80 351.65,44.88 354.40,44.60 C357.15,44.32 361.00,44.18 364.00,44.10 C367.00,44.02 369.40,44.18 372.40,44.10 C375.40,44.02 378.65,43.77 382.00,43.60 C385.35,43.43 389.08,43.28 392.50,43.10 C395.92,42.92 399.15,42.17 402.50,42.50 C405.85,42.83 409.68,44.78 412.60,45.10 C415.52,45.42 417.80,44.52 420.00,44.40 C422.20,44.28 423.88,44.55 425.80,44.40 C427.72,44.25 429.58,43.88 431.50,43.50 C433.42,43.12 435.37,42.25 437.30,42.10 C439.23,41.95 441.18,42.47 443.10,42.60 C445.02,42.73 446.88,42.78 448.80,42.90 C450.72,43.02 452.67,43.30 454.60,43.30 C456.53,43.30 458.47,43.10 460.40,42.90 C462.33,42.70 464.28,42.35 466.20,42.10 C468.12,41.85 469.93,41.43 471.90,41.40 C473.87,41.37 475.83,41.77 478.00,41.90 C480.17,42.03 482.58,42.38 484.90,42.20 C487.22,42.02 489.58,41.27 491.90,40.80 C494.22,40.33 496.50,39.63 498.80,39.40 C501.10,39.17 503.38,39.63 505.70,39.40 C508.02,39.17 510.38,38.40 512.70,38.00 C515.02,37.60 517.30,37.23 519.60,37.00 C521.90,36.77 524.42,36.77 526.50,36.60 C528.58,36.43 531.17,36.10 532.10,36.00" fill="none" stroke="#F7AD60" stroke-width="1.75" stroke-dasharray="11.2 2.8 1.75 2.8" clip-path="url(#clipb)"/>
<path d="M314.80,50.00 C315.17,55.83 316.12,75.28 317.00,85.00 C317.88,94.72 319.12,98.75 320.10,108.30 C321.08,117.85 322.17,134.48 322.90,142.30 C323.63,150.12 323.70,151.30 324.50,155.20 C325.30,159.10 326.70,167.40 327.70,165.70 C328.70,164.00 329.60,153.02 330.50,145.00 C331.40,136.98 332.52,124.32 333.10,117.60 C333.68,110.88 333.53,108.38 334.00,104.70 C334.47,101.02 335.28,98.27 335.90,95.50 C336.52,92.73 337.08,90.57 337.70,88.10 C338.32,85.63 338.82,82.63 339.60,80.70 C340.38,78.77 341.48,77.37 342.40,76.50 C343.32,75.63 344.17,75.63 345.10,75.50 C346.03,75.37 346.78,75.48 348.00,75.70 C349.22,75.92 351.07,76.25 352.40,76.80 C353.73,77.35 354.80,78.47 356.00,79.00 C357.20,79.53 358.27,80.07 359.60,80.00 C360.93,79.93 362.53,78.93 364.00,78.60 C365.47,78.27 366.95,78.30 368.40,78.00 C369.85,77.70 371.25,77.17 372.70,76.80 C374.15,76.43 375.63,76.12 377.10,75.80 C378.57,75.48 380.05,75.27 381.50,74.90 C382.95,74.53 384.40,74.13 385.80,73.60 C387.20,73.07 388.88,72.57 389.90,71.70 C390.92,70.83 391.20,68.27 391.90,68.40 C392.60,68.53 393.53,71.10 394.10,72.50 C394.67,73.90 394.87,75.35 395.30,76.80 C395.73,78.25 396.22,79.68 396.70,81.20 C397.18,82.72 397.77,84.40 398.20,85.90 C398.63,87.40 398.87,88.75 399.30,90.20 C399.73,91.65 400.33,93.13 400.80,94.60 C401.27,96.07 401.63,97.60 402.10,99.00 C402.57,100.40 402.97,101.67 403.60,103.00 C404.23,104.33 404.98,106.70 405.90,107.00 C406.82,107.30 408.28,105.90 409.10,104.80 C409.92,103.70 410.07,101.47 410.80,100.40 C411.53,99.33 412.33,98.73 413.50,98.40 C414.67,98.07 416.38,98.60 417.80,98.40 C419.22,98.20 419.58,98.38 422.00,97.20 C424.42,96.02 428.85,92.28 432.30,91.30 C435.75,90.32 440.10,92.68 442.70,91.30 C445.30,89.92 446.18,86.32 447.90,83.00 C449.62,79.68 451.28,73.90 453.00,71.40 C454.72,68.90 456.03,68.65 458.20,68.00 C460.37,67.35 463.42,67.67 466.00,67.50 C468.58,67.33 471.70,67.12 473.70,67.00 C475.70,66.88 476.13,67.07 478.00,66.80 C479.87,66.53 482.58,65.67 484.90,65.40 C487.22,65.13 489.58,65.15 491.90,65.20 C494.22,65.25 496.73,65.67 498.80,65.70 C500.87,65.73 502.68,65.67 504.30,65.40 C505.92,65.13 506.88,64.50 508.50,64.10 C510.12,63.70 512.15,63.23 514.00,63.00 C515.85,62.77 516.58,62.75 519.60,62.70 C522.62,62.65 530.02,62.70 532.10,62.70" fill="none" stroke="#A49ED8" stroke-width="1.9" stroke-dasharray="1.9 2.8" clip-path="url(#clipb)"/>
<path d="M314.30,69.00 C314.42,70.67 314.72,75.75 315.00,79.00 C315.28,82.25 315.58,86.20 316.00,88.50 C316.42,90.80 317.02,91.93 317.50,92.80 C317.98,93.67 318.48,93.73 318.90,93.70 C319.32,93.67 319.62,93.28 320.00,92.60 C320.38,91.92 320.60,91.43 321.20,89.60 C321.80,87.77 322.82,84.48 323.60,81.60 C324.38,78.72 325.13,75.20 325.90,72.30 C326.67,69.40 327.33,67.08 328.20,64.20 C329.07,61.32 330.37,57.45 331.10,55.00 C331.83,52.55 332.12,51.08 332.60,49.50 C333.08,47.92 333.30,46.78 334.00,45.50 C334.70,44.22 335.87,42.72 336.80,41.80 C337.73,40.88 338.73,40.42 339.60,40.00 C340.47,39.58 340.88,39.48 342.00,39.30 C343.12,39.12 344.62,38.93 346.30,38.90 C347.98,38.87 350.15,39.10 352.10,39.10 C354.05,39.10 356.02,39.23 358.00,38.90 C359.98,38.57 362.00,37.75 364.00,37.10 C366.00,36.45 367.93,35.83 370.00,35.00 C372.07,34.17 374.40,33.05 376.40,32.10 C378.40,31.15 379.98,30.13 382.00,29.30 C384.02,28.47 386.50,27.72 388.50,27.10 C390.50,26.48 392.00,26.03 394.00,25.60 C396.00,25.17 398.50,24.77 400.50,24.50 C402.50,24.23 403.98,24.13 406.00,24.00 C408.02,23.87 410.27,23.63 412.60,23.70 C414.93,23.77 417.80,24.67 420.00,24.40 C422.20,24.13 423.88,22.67 425.80,22.10 C427.72,21.53 429.97,21.23 431.50,21.00 C433.03,20.77 433.65,20.65 435.00,20.70 C436.35,20.75 437.87,21.20 439.60,21.30 C441.33,21.40 443.47,21.07 445.40,21.30 C447.33,21.53 448.90,22.12 451.20,22.70 C453.50,23.28 456.70,24.70 459.20,24.80 C461.70,24.90 463.88,23.75 466.20,23.30 C468.52,22.85 471.13,22.28 473.10,22.10 C475.07,21.92 476.03,22.48 478.00,22.20 C479.97,21.92 482.58,20.77 484.90,20.40 C487.22,20.03 489.58,19.93 491.90,20.00 C494.22,20.07 496.50,20.80 498.80,20.80 C501.10,20.80 503.38,20.18 505.70,20.00 C508.02,19.82 510.38,19.80 512.70,19.70 C515.02,19.60 517.30,19.40 519.60,19.40 C521.90,19.40 524.42,19.50 526.50,19.70 C528.58,19.90 531.17,20.45 532.10,20.60" fill="none" stroke="#F6786A" stroke-width="2.0" clip-path="url(#clipb)"/>
<rect x="314.3" y="10.5" width="217.8" height="168.1" fill="none" stroke="#333333" stroke-width="1.3"/>
<line x1="314.30" y1="178.6" x2="314.30" y2="175.4" stroke="#333333" stroke-width="1"/>
<line x1="368.75" y1="178.6" x2="368.75" y2="175.4" stroke="#333333" stroke-width="1"/>
<line x1="423.20" y1="178.6" x2="423.20" y2="175.4" stroke="#333333" stroke-width="1"/>
<line x1="477.65" y1="178.6" x2="477.65" y2="175.4" stroke="#333333" stroke-width="1"/>
<line x1="532.10" y1="178.6" x2="532.10" y2="175.4" stroke="#333333" stroke-width="1"/>
<line x1="314.3" y1="15.30" x2="317.5" y2="15.30" stroke="#333333" stroke-width="1"/>
<text x="311.40" y="19.20" text-anchor="end" class="t">2500</text>
<line x1="314.3" y1="38.65" x2="317.5" y2="38.65" stroke="#333333" stroke-width="1"/>
<text x="311.40" y="42.55" text-anchor="end" class="t">2000</text>
<line x1="314.3" y1="61.99" x2="317.5" y2="61.99" stroke="#333333" stroke-width="1"/>
<text x="311.40" y="65.89" text-anchor="end" class="t">1500</text>
<line x1="314.3" y1="85.33" x2="317.5" y2="85.33" stroke="#333333" stroke-width="1"/>
<text x="311.40" y="89.23" text-anchor="end" class="t">1000</text>
<line x1="314.3" y1="108.68" x2="317.5" y2="108.68" stroke="#333333" stroke-width="1"/>
<text x="311.40" y="112.58" text-anchor="end" class="t">500</text>
<line x1="314.3" y1="132.03" x2="317.5" y2="132.03" stroke="#333333" stroke-width="1"/>
<text x="311.40" y="135.93" text-anchor="end" class="t">0</text>
<line x1="314.3" y1="155.37" x2="317.5" y2="155.37" stroke="#333333" stroke-width="1"/>
<text x="311.40" y="159.27" text-anchor="end" class="t">-500</text>
<line x1="314.3" y1="178.72" x2="317.5" y2="178.72" stroke="#333333" stroke-width="1"/>
<text x="311.40" y="182.62" text-anchor="end" class="t">-1000</text>
<text x="314.30" y="189.80" text-anchor="middle" class="t">0</text>
<text x="368.75" y="189.80" text-anchor="middle" class="t">10,000</text>
<text x="423.20" y="189.80" text-anchor="middle" class="t">20,000</text>
<text x="477.65" y="189.80" text-anchor="middle" class="t">30,000</text>
<text x="532.10" y="189.80" text-anchor="middle" class="t">40,000</text>
<text x="423.60" y="198.80" text-anchor="middle" class="t">Episode</text>
<text transform="translate(291.30,94.55) rotate(-90)" text-anchor="middle" class="t">Reward Value</text>
<text x="420.50" y="214.80" text-anchor="middle" class="cap">(b)</text>
<path d="M443.8,129.5 L443.8,113.5 Q443.8,111.5 445.8,111.5 L467.8,111.5" fill="none" stroke="#E4E4E4" stroke-width="0.8"/>
<line x1="447.8" y1="119.50" x2="470.3" y2="119.50" stroke="#F6786A" stroke-width="2.0"/>
<text x="478.10" y="123.20" class="lg">DSAAC</text>
<line x1="447.8" y1="134.40" x2="470.3" y2="134.40" stroke="#70C4B0" stroke-width="1.75" stroke-dasharray="6.5 2.8"/>
<text x="478.10" y="138.10" class="lg">MADDPG</text>
<line x1="447.8" y1="149.30" x2="470.3" y2="149.30" stroke="#F7AD60" stroke-width="1.75" stroke-dasharray="11.2 2.8 1.75 2.8"/>
<text x="478.10" y="153.00" class="lg">MATD3</text>
<line x1="447.8" y1="164.20" x2="470.3" y2="164.20" stroke="#A49ED8" stroke-width="1.9" stroke-dasharray="1.9 2.8"/>
<text x="478.10" y="167.90" class="lg">MASAC</text>
<clipPath id="clipc"><rect x="39.8" y="221.3" width="217.59999999999997" height="167.89999999999998"/></clipPath>
<line x1="94.20" y1="221.3" x2="94.20" y2="389.2" stroke="#D9D9D9" stroke-width="1"/>
<line x1="148.60" y1="221.3" x2="148.60" y2="389.2" stroke="#D9D9D9" stroke-width="1"/>
<line x1="203.00" y1="221.3" x2="203.00" y2="389.2" stroke="#D9D9D9" stroke-width="1"/>
<line x1="39.8" y1="247.70" x2="257.4" y2="247.70" stroke="#D9D9D9" stroke-width="1"/>
<line x1="39.8" y1="285.10" x2="257.4" y2="285.10" stroke="#D9D9D9" stroke-width="1"/>
<line x1="39.8" y1="322.50" x2="257.4" y2="322.50" stroke="#D9D9D9" stroke-width="1"/>
<line x1="39.8" y1="359.90" x2="257.4" y2="359.90" stroke="#D9D9D9" stroke-width="1"/>
<path d="M59.1,246.8 L60.1,255.0 L61.1,246.7 L62.1,244.4 L63.1,249.8 L64.1,244.7 L65.1,244.8 L66.1,240.6 L67.1,235.8 L68.1,235.5 L69.1,236.3 L70.1,235.6 L71.1,241.5 L72.1,236.1 L73.1,239.1 L74.1,237.4 L75.1,245.7 L76.1,237.0 L77.1,242.9 L78.1,240.6 L79.1,239.5 L80.1,244.7 L81.1,241.9 L82.1,245.8 L83.1,239.9 L84.1,248.4 L85.1,241.0 L86.1,240.7 L87.1,235.3 L88.1,238.5 L89.1,242.3 L90.1,246.3 L91.1,241.2 L92.1,245.0 L93.1,244.9 L94.1,243.2 L95.1,238.9 L96.1,241.4 L97.1,238.0 L98.1,234.6 L99.1,244.8 L100.1,235.0 L101.1,231.7 L102.1,238.0 L103.1,237.5 L104.1,234.4 L105.1,235.4 L106.1,239.1 L107.1,240.6 L108.1,238.5 L109.1,236.2 L110.1,241.0 L111.1,238.1 L112.1,237.1 L113.1,239.3 L114.1,232.1 L115.1,239.2 L116.1,228.9 L117.1,234.1 L118.1,229.8 L119.1,231.4 L120.1,241.3 L121.1,239.2 L122.1,242.2 L123.1,235.8 L124.1,237.2 L125.1,233.3 L126.1,232.4 L127.1,228.4 L128.1,240.3 L129.1,234.1 L130.1,234.6 L131.1,224.4 L132.1,235.6 L133.1,234.6 L134.1,231.1 L135.1,230.9 L136.1,227.1 L137.1,236.2 L138.1,233.1 L139.1,232.9 L140.1,229.2 L141.1,229.6 L142.1,230.2 L143.1,226.6 L144.1,235.6 L145.1,229.6 L146.1,232.9 L147.1,237.1 L148.1,231.4 L149.1,225.1 L150.1,227.8 L151.1,228.4 L152.1,225.7 L153.1,229.3 L154.1,227.4 L155.1,228.2 L156.1,227.2 L157.1,232.2 L158.1,220.6 L159.1,224.5 L160.1,223.1 L161.1,223.0 L162.1,217.9 L163.1,222.4 L164.1,216.6 L165.1,223.5 L166.1,230.4 L167.1,225.5 L168.1,228.5 L169.1,227.3 L170.1,222.1 L171.1,224.6 L172.1,232.1 L173.1,219.2 L174.1,225.2 L175.1,223.6 L176.1,227.9 L177.1,225.4 L178.1,224.2 L179.1,218.0 L180.1,232.3 L181.1,227.2 L182.1,215.5 L183.1,221.7 L184.1,226.3 L185.1,222.7 L186.1,226.4 L187.1,228.3 L188.1,222.0 L189.1,226.5 L190.1,223.8 L191.1,226.5 L192.1,224.3 L193.1,224.0 L194.1,218.3 L195.1,230.9 L196.1,227.8 L197.1,222.7 L198.1,225.4 L199.1,225.0 L200.1,231.4 L201.1,226.7 L202.1,225.8 L203.1,226.5 L204.1,229.6 L205.1,227.1 L206.1,233.5 L207.1,225.5 L208.1,226.3 L209.1,233.4 L210.1,225.8 L211.1,225.0 L212.1,225.8 L213.1,217.8 L214.1,223.6 L215.1,226.3 L216.1,225.0 L217.1,233.1 L218.1,227.1 L219.1,228.9 L220.1,227.5 L221.1,227.9 L222.1,221.4 L223.1,228.1 L224.1,225.0 L225.1,232.1 L226.1,225.4 L227.1,231.8 L228.1,234.5 L229.1,226.2 L230.1,220.9 L231.1,229.7 L232.1,226.4 L233.1,233.1 L234.1,232.2 L235.1,233.8 L236.1,222.3 L237.1,232.1 L238.1,219.5 L239.1,223.8 L240.1,232.9 L241.1,230.8 L242.1,220.6 L243.1,220.6 L244.1,231.2 L245.1,229.5 L246.1,227.5 L247.1,220.0 L248.1,230.8 L249.1,226.9 L250.1,219.2 L251.1,226.7 L252.1,228.5 L253.1,229.3 L254.1,221.2 L255.1,228.6 L256.1,231.0 L257.1,222.6 L257.1,246.3 L256.1,250.1 L255.1,252.7 L254.1,254.4 L253.1,248.6 L252.1,252.9 L251.1,246.3 L250.1,255.2 L249.1,258.5 L248.1,252.7 L247.1,251.8 L246.1,255.3 L245.1,248.5 L244.1,253.4 L243.1,245.9 L242.1,251.9 L241.1,260.1 L240.1,253.2 L239.1,258.7 L238.1,252.4 L237.1,258.9 L236.1,255.1 L235.1,256.4 L234.1,258.3 L233.1,258.2 L232.1,258.2 L231.1,246.3 L230.1,264.8 L229.1,254.9 L228.1,265.3 L227.1,247.6 L226.1,251.2 L225.1,263.3 L224.1,257.3 L223.1,251.9 L222.1,245.3 L221.1,254.2 L220.1,262.6 L219.1,253.2 L218.1,263.2 L217.1,250.5 L216.1,249.7 L215.1,246.3 L214.1,255.0 L213.1,247.9 L212.1,251.8 L211.1,264.0 L210.1,254.7 L209.1,249.2 L208.1,248.6 L207.1,255.4 L206.1,249.0 L205.1,250.5 L204.1,244.5 L203.1,250.8 L202.1,247.1 L201.1,252.0 L200.1,244.4 L199.1,250.4 L198.1,251.0 L197.1,252.7 L196.1,252.6 L195.1,258.8 L194.1,250.4 L193.1,256.8 L192.1,251.2 L191.1,248.1 L190.1,251.2 L189.1,257.6 L188.1,261.9 L187.1,245.2 L186.1,246.7 L185.1,248.9 L184.1,249.8 L183.1,249.2 L182.1,249.8 L181.1,250.7 L180.1,256.6 L179.1,253.0 L178.1,248.5 L177.1,247.6 L176.1,250.6 L175.1,245.4 L174.1,248.9 L173.1,262.4 L172.1,255.8 L171.1,249.2 L170.1,257.4 L169.1,250.6 L168.1,249.9 L167.1,250.0 L166.1,243.9 L165.1,248.2 L164.1,250.0 L163.1,243.5 L162.1,259.7 L161.1,244.5 L160.1,254.7 L159.1,247.9 L158.1,255.2 L157.1,251.4 L156.1,253.7 L155.1,252.7 L154.1,251.4 L153.1,250.6 L152.1,251.4 L151.1,253.5 L150.1,257.0 L149.1,253.5 L148.1,259.3 L147.1,251.8 L146.1,258.2 L145.1,255.1 L144.1,252.6 L143.1,253.9 L142.1,260.6 L141.1,260.5 L140.1,256.5 L139.1,253.4 L138.1,256.9 L137.1,262.5 L136.1,257.5 L135.1,254.1 L134.1,263.1 L133.1,256.0 L132.1,261.9 L131.1,268.3 L130.1,263.9 L129.1,263.6 L128.1,256.3 L127.1,271.5 L126.1,261.8 L125.1,263.8 L124.1,254.1 L123.1,256.0 L122.1,258.9 L121.1,262.8 L120.1,258.9 L119.1,265.2 L118.1,263.0 L117.1,258.8 L116.1,258.7 L115.1,267.6 L114.1,259.5 L113.1,274.4 L112.1,269.5 L111.1,266.9 L110.1,271.4 L109.1,265.3 L108.1,258.4 L107.1,258.7 L106.1,265.1 L105.1,260.3 L104.1,270.4 L103.1,261.5 L102.1,269.2 L101.1,265.7 L100.1,267.9 L99.1,272.6 L98.1,277.6 L97.1,260.0 L96.1,262.2 L95.1,268.6 L94.1,263.9 L93.1,271.0 L92.1,261.7 L91.1,268.4 L90.1,264.4 L89.1,264.7 L88.1,264.2 L87.1,272.4 L86.1,268.9 L85.1,269.7 L84.1,264.6 L83.1,269.5 L82.1,267.3 L81.1,258.7 L80.1,263.2 L79.1,259.8 L78.1,260.3 L77.1,273.5 L76.1,266.6 L75.1,259.7 L74.1,258.2 L73.1,263.4 L72.1,257.6 L71.1,272.2 L70.1,261.5 L69.1,266.1 L68.1,266.4 L67.1,257.9 L66.1,265.4 L65.1,264.7 L64.1,270.8 L63.1,271.9 L62.1,262.8 L61.1,270.1 L60.1,277.4 L59.1,272.6Z" fill="#F6786A" fill-opacity="0.11" stroke="none" clip-path="url(#clipc)"/>
<path d="M63.2,251.6 L64.2,254.3 L65.2,247.5 L66.2,248.3 L67.2,253.8 L68.2,244.2 L69.2,254.8 L70.2,252.3 L71.2,246.1 L72.2,248.2 L73.2,254.9 L74.2,250.8 L75.2,254.4 L76.2,256.1 L77.2,251.6 L78.2,251.0 L79.2,253.4 L80.2,240.1 L81.2,237.9 L82.2,255.2 L83.2,249.4 L84.2,249.8 L85.2,251.2 L86.2,252.4 L87.2,252.2 L88.2,249.6 L89.2,249.9 L90.2,241.9 L91.2,248.1 L92.2,248.8 L93.2,243.2 L94.2,256.6 L95.2,238.6 L96.2,251.6 L97.2,250.5 L98.2,249.1 L99.2,244.2 L100.2,256.5 L101.2,252.0 L102.2,257.8 L103.2,254.7 L104.2,242.0 L105.2,248.3 L106.2,250.4 L107.2,250.6 L108.2,251.1 L109.2,255.2 L110.2,248.9 L111.2,251.0 L112.2,251.8 L113.2,253.4 L114.2,252.6 L115.2,249.3 L116.2,240.7 L117.2,257.4 L118.2,257.1 L119.2,237.5 L120.2,252.8 L121.2,256.6 L122.2,243.3 L123.2,251.8 L124.2,253.4 L125.2,249.1 L126.2,239.7 L127.2,250.5 L128.2,252.3 L129.2,255.8 L130.2,251.6 L131.2,255.7 L132.2,253.2 L133.2,253.9 L134.2,243.7 L135.2,255.0 L136.2,247.2 L137.2,256.1 L138.2,256.1 L139.2,260.6 L140.2,240.0 L141.2,251.5 L142.2,257.9 L143.2,256.7 L144.2,257.1 L145.2,249.6 L146.2,259.2 L147.2,259.1 L148.2,254.0 L149.2,253.4 L150.2,260.3 L151.2,259.5 L152.2,240.0 L153.2,257.0 L154.2,253.6 L155.2,240.4 L156.2,246.8 L157.2,244.8 L158.2,251.9 L159.2,255.1 L160.2,258.7 L161.2,251.6 L162.2,258.2 L163.2,251.9 L164.2,241.9 L165.2,250.5 L166.2,249.9 L167.2,249.4 L168.2,251.0 L169.2,257.5 L170.2,258.2 L171.2,257.2 L172.2,251.1 L173.2,249.7 L174.2,258.5 L175.2,253.5 L176.2,255.0 L177.2,257.4 L178.2,253.2 L179.2,245.8 L180.2,256.3 L181.2,249.6 L182.2,248.4 L183.2,255.9 L184.2,251.2 L185.2,252.8 L186.2,244.2 L187.2,250.5 L188.2,259.1 L189.2,252.7 L190.2,247.4 L191.2,251.4 L192.2,250.1 L193.2,251.7 L194.2,250.6 L195.2,255.5 L196.2,254.7 L197.2,251.4 L198.2,245.1 L199.2,250.0 L200.2,249.4 L201.2,250.6 L202.2,246.7 L203.2,250.0 L204.2,249.2 L205.2,247.9 L206.2,255.9 L207.2,253.6 L208.2,247.3 L209.2,249.9 L210.2,252.2 L211.2,250.2 L212.2,255.4 L213.2,243.9 L214.2,249.6 L215.2,251.9 L216.2,256.6 L217.2,250.6 L218.2,245.4 L219.2,249.8 L220.2,256.1 L221.2,254.0 L222.2,251.1 L223.2,249.2 L224.2,249.1 L225.2,243.8 L226.2,247.8 L227.2,248.9 L228.2,249.6 L229.2,242.1 L230.2,249.3 L231.2,246.3 L232.2,252.3 L233.2,252.7 L234.2,253.4 L235.2,249.3 L236.2,247.3 L237.2,243.5 L238.2,254.1 L239.2,251.1 L240.2,251.9 L241.2,252.5 L242.2,240.2 L243.2,253.5 L244.2,254.7 L245.2,246.6 L246.2,249.9 L247.2,247.0 L248.2,251.2 L249.2,249.8 L250.2,248.3 L251.2,253.7 L252.2,245.6 L253.2,248.8 L254.2,252.8 L255.2,240.6 L256.2,239.7 L257.2,245.0 L257.2,270.4 L256.2,280.2 L255.2,280.9 L254.2,279.0 L253.2,267.5 L252.2,284.0 L251.2,284.8 L250.2,279.1 L249.2,278.3 L248.2,280.6 L247.2,276.2 L246.2,277.0 L245.2,278.1 L244.2,272.2 L243.2,280.9 L242.2,286.6 L241.2,288.9 L240.2,280.4 L239.2,280.4 L238.2,280.8 L237.2,270.1 L236.2,286.9 L235.2,276.8 L234.2,285.1 L233.2,267.1 L232.2,271.6 L231.2,291.7 L230.2,288.4 L229.2,279.5 L228.2,274.6 L227.2,274.0 L226.2,283.4 L225.2,270.4 L224.2,271.6 L223.2,272.3 L222.2,277.7 L221.2,294.5 L220.2,276.9 L219.2,284.0 L218.2,271.8 L217.2,283.2 L216.2,279.2 L215.2,291.0 L214.2,274.2 L213.2,279.8 L212.2,278.2 L211.2,289.5 L210.2,272.0 L209.2,277.4 L208.2,276.8 L207.2,280.3 L206.2,283.6 L205.2,285.7 L204.2,295.3 L203.2,285.2 L202.2,283.5 L201.2,282.4 L200.2,277.0 L199.2,287.9 L198.2,267.9 L197.2,281.2 L196.2,279.7 L195.2,286.4 L194.2,280.6 L193.2,286.7 L192.2,283.1 L191.2,284.2 L190.2,282.5 L189.2,287.4 L188.2,279.8 L187.2,271.4 L186.2,298.8 L185.2,272.4 L184.2,288.7 L183.2,287.6 L182.2,275.2 L181.2,282.7 L180.2,283.4 L179.2,285.1 L178.2,286.8 L177.2,288.5 L176.2,295.0 L175.2,285.7 L174.2,280.3 L173.2,277.7 L172.2,282.3 L171.2,277.9 L170.2,278.9 L169.2,285.0 L168.2,271.6 L167.2,278.6 L166.2,281.6 L165.2,277.4 L164.2,274.4 L163.2,289.0 L162.2,280.4 L161.2,286.8 L160.2,272.9 L159.2,285.5 L158.2,281.6 L157.2,285.1 L156.2,288.1 L155.2,274.4 L154.2,290.6 L153.2,286.7 L152.2,293.0 L151.2,285.0 L150.2,291.9 L149.2,283.7 L148.2,287.9 L147.2,285.6 L146.2,284.6 L145.2,293.6 L144.2,274.7 L143.2,289.4 L142.2,278.6 L141.2,279.3 L140.2,283.8 L139.2,274.9 L138.2,283.2 L137.2,283.9 L136.2,285.1 L135.2,274.3 L134.2,283.5 L133.2,281.7 L132.2,281.9 L131.2,276.0 L130.2,278.1 L129.2,276.6 L128.2,284.4 L127.2,275.8 L126.2,295.4 L125.2,292.8 L124.2,271.4 L123.2,282.9 L122.2,270.6 L121.2,278.7 L120.2,279.8 L119.2,281.9 L118.2,272.0 L117.2,280.6 L116.2,294.3 L115.2,282.5 L114.2,277.1 L113.2,271.8 L112.2,271.3 L111.2,282.9 L110.2,285.2 L109.2,285.5 L108.2,281.5 L107.2,281.5 L106.2,282.5 L105.2,280.4 L104.2,283.9 L103.2,289.2 L102.2,279.0 L101.2,281.7 L100.2,277.2 L99.2,284.2 L98.2,282.4 L97.2,280.2 L96.2,271.7 L95.2,273.7 L94.2,272.1 L93.2,286.9 L92.2,281.6 L91.2,278.7 L90.2,275.0 L89.2,280.7 L88.2,282.5 L87.2,276.1 L86.2,275.3 L85.2,281.0 L84.2,287.5 L83.2,282.2 L82.2,281.3 L81.2,274.5 L80.2,283.7 L79.2,277.3 L78.2,289.6 L77.2,277.8 L76.2,286.4 L75.2,271.0 L74.2,286.8 L73.2,282.1 L72.2,275.1 L71.2,280.3 L70.2,271.7 L69.2,283.5 L68.2,279.2 L67.2,286.4 L66.2,278.9 L65.2,268.4 L64.2,281.9 L63.2,279.1Z" fill="#D6CCC0" fill-opacity="0.17" stroke="none" clip-path="url(#clipc)"/>
<path d="M62.8,266.0 L63.8,250.4 L64.8,257.5 L65.8,243.7 L66.8,256.8 L67.8,258.3 L68.8,254.3 L69.8,258.5 L70.8,249.5 L71.8,260.7 L72.8,260.1 L73.8,255.9 L74.8,251.2 L75.8,253.3 L76.8,244.7 L77.8,256.2 L78.8,248.0 L79.8,256.0 L80.8,246.2 L81.8,259.3 L82.8,260.0 L83.8,257.5 L84.8,255.3 L85.8,249.7 L86.8,247.0 L87.8,259.4 L88.8,256.9 L89.8,253.7 L90.8,244.9 L91.8,255.3 L92.8,243.9 L93.8,253.5 L94.8,252.5 L95.8,248.6 L96.8,260.3 L97.8,256.7 L98.8,260.6 L99.8,256.8 L100.8,259.7 L101.8,259.2 L102.8,261.5 L103.8,260.6 L104.8,246.9 L105.8,261.6 L106.8,263.4 L107.8,258.1 L108.8,264.0 L109.8,265.3 L110.8,267.9 L111.8,261.3 L112.8,269.0 L113.8,268.7 L114.8,268.0 L115.8,264.3 L116.8,265.1 L117.8,265.3 L118.8,262.7 L119.8,251.5 L120.8,264.3 L121.8,258.0 L122.8,258.7 L123.8,261.6 L124.8,260.8 L125.8,261.4 L126.8,258.1 L127.8,253.2 L128.8,257.3 L129.8,252.7 L130.8,255.0 L131.8,250.3 L132.8,260.5 L133.8,246.7 L134.8,253.7 L135.8,249.2 L136.8,259.7 L137.8,255.0 L138.8,249.3 L139.8,262.1 L140.8,258.2 L141.8,257.1 L142.8,264.4 L143.8,254.6 L144.8,267.9 L145.8,267.2 L146.8,266.0 L147.8,270.0 L148.8,265.1 L149.8,266.1 L150.8,265.2 L151.8,266.8 L152.8,265.6 L153.8,262.5 L154.8,265.3 L155.8,263.7 L156.8,261.6 L157.8,261.5 L158.8,263.8 L159.8,256.9 L160.8,266.0 L161.8,252.5 L162.8,250.6 L163.8,263.9 L164.8,256.0 L165.8,262.1 L166.8,260.3 L167.8,261.9 L168.8,264.0 L169.8,260.8 L170.8,260.3 L171.8,252.1 L172.8,258.8 L173.8,259.2 L174.8,259.6 L175.8,258.3 L176.8,259.3 L177.8,253.1 L178.8,256.1 L179.8,243.1 L180.8,256.3 L181.8,259.0 L182.8,259.5 L183.8,258.0 L184.8,258.9 L185.8,259.1 L186.8,254.6 L187.8,260.7 L188.8,256.4 L189.8,258.4 L190.8,246.3 L191.8,259.3 L192.8,257.3 L193.8,255.9 L194.8,261.1 L195.8,259.3 L196.8,247.9 L197.8,260.5 L198.8,262.3 L199.8,258.9 L200.8,263.3 L201.8,251.3 L202.8,260.3 L203.8,262.4 L204.8,264.1 L205.8,256.9 L206.8,256.1 L207.8,267.5 L208.8,263.8 L209.8,263.8 L210.8,265.3 L211.8,259.9 L212.8,261.6 L213.8,256.2 L214.8,265.3 L215.8,261.5 L216.8,259.5 L217.8,249.9 L218.8,260.7 L219.8,258.9 L220.8,254.2 L221.8,262.1 L222.8,258.9 L223.8,259.1 L224.8,256.3 L225.8,249.2 L226.8,256.0 L227.8,256.2 L228.8,257.9 L229.8,253.1 L230.8,246.9 L231.8,255.6 L232.8,258.2 L233.8,251.2 L234.8,248.4 L235.8,252.6 L236.8,249.3 L237.8,258.5 L238.8,258.6 L239.8,244.0 L240.8,255.3 L241.8,249.9 L242.8,254.9 L243.8,257.1 L244.8,251.1 L245.8,253.8 L246.8,254.3 L247.8,244.4 L248.8,252.7 L249.8,253.9 L250.8,253.7 L251.8,253.2 L252.8,244.1 L253.8,240.4 L254.8,250.2 L255.8,242.0 L256.8,254.4 L256.8,266.6 L255.8,264.4 L254.8,272.8 L253.8,269.4 L252.8,273.0 L251.8,272.7 L250.8,277.3 L249.8,272.9 L248.8,270.5 L247.8,269.1 L246.8,270.2 L245.8,273.7 L244.8,275.6 L243.8,287.6 L242.8,272.2 L241.8,281.5 L240.8,281.1 L239.8,290.2 L238.8,281.7 L237.8,288.0 L236.8,271.0 L235.8,280.7 L234.8,274.2 L233.8,282.0 L232.8,275.1 L231.8,270.5 L230.8,267.7 L229.8,272.4 L228.8,275.8 L227.8,275.7 L226.8,281.7 L225.8,268.4 L224.8,276.1 L223.8,271.6 L222.8,287.3 L221.8,269.7 L220.8,280.5 L219.8,281.1 L218.8,283.0 L217.8,274.9 L216.8,290.7 L215.8,287.7 L214.8,290.4 L213.8,285.1 L212.8,294.1 L211.8,275.0 L210.8,283.7 L209.8,278.4 L208.8,278.5 L207.8,281.1 L206.8,287.6 L205.8,285.3 L204.8,287.7 L203.8,282.7 L202.8,282.6 L201.8,282.5 L200.8,280.9 L199.8,275.6 L198.8,280.5 L197.8,288.1 L196.8,276.8 L195.8,281.7 L194.8,271.5 L193.8,275.5 L192.8,272.8 L191.8,275.3 L190.8,274.8 L189.8,271.1 L188.8,283.0 L187.8,277.5 L186.8,285.6 L185.8,273.1 L184.8,274.5 L183.8,269.5 L182.8,273.4 L181.8,285.4 L180.8,274.0 L179.8,274.5 L178.8,276.2 L177.8,284.7 L176.8,274.1 L175.8,271.8 L174.8,273.3 L173.8,278.0 L172.8,286.5 L171.8,281.9 L170.8,277.6 L169.8,281.0 L168.8,275.1 L167.8,284.9 L166.8,280.4 L165.8,277.4 L164.8,285.0 L163.8,275.3 L162.8,298.4 L161.8,283.9 L160.8,282.1 L159.8,279.2 L158.8,278.9 L157.8,272.5 L156.8,282.2 L155.8,273.1 L154.8,279.4 L153.8,277.2 L152.8,274.3 L151.8,288.8 L150.8,286.0 L149.8,290.0 L148.8,291.5 L147.8,285.0 L146.8,284.9 L145.8,289.9 L144.8,294.5 L143.8,296.6 L142.8,291.5 L141.8,285.7 L140.8,280.8 L139.8,284.0 L138.8,274.7 L137.8,279.9 L136.8,287.6 L135.8,273.7 L134.8,278.5 L133.8,277.7 L132.8,286.2 L131.8,283.9 L130.8,272.8 L129.8,275.4 L128.8,290.4 L127.8,274.4 L126.8,274.3 L125.8,276.8 L124.8,287.9 L123.8,283.8 L122.8,275.8 L121.8,278.2 L120.8,292.3 L119.8,279.3 L118.8,291.9 L117.8,286.4 L116.8,282.0 L115.8,285.1 L114.8,283.0 L113.8,295.1 L112.8,285.8 L111.8,292.9 L110.8,291.1 L109.8,292.9 L108.8,288.3 L107.8,283.3 L106.8,283.1 L105.8,276.3 L104.8,280.7 L103.8,282.1 L102.8,287.1 L101.8,282.3 L100.8,281.6 L99.8,281.0 L98.8,269.6 L97.8,287.5 L96.8,272.8 L95.8,277.9 L94.8,271.1 L93.8,270.1 L92.8,270.8 L91.8,286.5 L90.8,268.3 L89.8,274.4 L88.8,269.8 L87.8,280.7 L86.8,271.9 L85.8,269.4 L84.8,287.4 L83.8,287.4 L82.8,281.1 L81.8,275.1 L80.8,281.7 L79.8,272.2 L78.8,273.3 L77.8,276.0 L76.8,276.4 L75.8,283.2 L74.8,277.3 L73.8,279.2 L72.8,283.4 L71.8,278.1 L70.8,277.5 L69.8,273.2 L68.8,287.2 L67.8,287.3 L66.8,278.1 L65.8,275.4 L64.8,274.4 L63.8,279.5 L62.8,280.3Z" fill="#F7AD60" fill-opacity="0.05" stroke="none" clip-path="url(#clipc)"/>
<path d="M39.8,283.7 L40.3,282.3 L40.8,284.8 L41.3,283.2 L41.8,291.6 L42.3,293.3 L42.8,295.2 L43.3,305.8 L43.8,305.2 L44.3,306.7 L44.8,310.8 L45.3,308.9 L45.8,306.6 L46.3,308.7 L46.8,311.4 L47.3,309.3 L47.8,310.7 L48.3,305.9 L48.8,306.1 L49.3,304.2 L49.8,300.5 L50.3,301.2 L50.8,296.9 L51.3,296.5 L51.8,293.8 L52.3,291.0 L52.8,290.4 L53.3,280.3 L53.8,280.5 L54.3,275.8 L54.8,276.5 L55.3,269.9 L55.8,265.7 L56.3,263.2 L56.8,261.2 L57.3,260.3 L57.8,262.1 L58.3,260.3 L58.8,256.8 L58.8,271.6 L58.3,275.4 L57.8,270.4 L57.3,275.8 L56.8,280.2 L56.3,275.1 L55.8,281.0 L55.3,286.9 L54.8,288.5 L54.3,291.9 L53.8,295.8 L53.3,297.1 L52.8,297.9 L52.3,300.5 L51.8,306.9 L51.3,310.0 L50.8,311.1 L50.3,315.9 L49.8,317.4 L49.3,313.6 L48.8,315.0 L48.3,322.6 L47.8,321.6 L47.3,320.7 L46.8,325.9 L46.3,325.0 L45.8,323.2 L45.3,323.6 L44.8,321.3 L44.3,320.5 L43.8,316.5 L43.3,319.0 L42.8,313.1 L42.3,305.6 L41.8,305.6 L41.3,303.0 L40.8,296.8 L40.3,299.3 L39.8,298.4Z" fill="#F6786A" fill-opacity="0.08" stroke="none" clip-path="url(#clipc)"/>
<path d="M40.30,236.00 C40.45,243.33 40.82,266.00 41.20,280.00 C41.58,294.00 42.05,309.67 42.60,320.00 C43.15,330.33 43.77,335.00 44.50,342.00 C45.23,349.00 46.17,356.00 47.00,362.00 C47.83,368.00 48.68,374.03 49.50,378.00 C50.32,381.97 51.15,386.30 51.90,385.80 C52.65,385.30 53.35,380.63 54.00,375.00 C54.65,369.37 55.25,358.67 55.80,352.00 C56.35,345.33 56.82,341.00 57.30,335.00 C57.78,329.00 58.25,321.63 58.70,316.00 C59.15,310.37 59.57,305.52 60.00,301.20 C60.43,296.88 60.83,293.80 61.30,290.10 C61.77,286.40 62.30,282.38 62.80,279.00 C63.30,275.62 63.83,272.27 64.30,269.80 C64.77,267.33 65.18,265.58 65.60,264.20 C66.02,262.82 66.33,261.97 66.80,261.50 C67.27,261.03 67.82,261.07 68.40,261.40 C68.98,261.73 69.63,262.90 70.30,263.50 C70.97,264.10 71.62,265.00 72.40,265.00 C73.18,265.00 74.03,263.87 75.00,263.50 C75.97,263.13 76.03,263.05 78.20,262.80 C80.37,262.55 84.63,262.15 88.00,262.00 C91.37,261.85 95.77,261.82 98.40,261.90 C101.03,261.98 101.45,262.23 103.80,262.50 C106.15,262.77 109.77,263.37 112.50,263.50 C115.23,263.63 117.65,263.38 120.20,263.30 C122.75,263.22 125.43,262.97 127.80,263.00 C130.17,263.03 132.37,263.42 134.40,263.50 C136.43,263.58 137.98,263.53 140.00,263.50 C142.02,263.47 144.68,263.38 146.50,263.30 C148.32,263.22 149.25,263.18 150.90,263.00 C152.55,262.82 154.58,262.15 156.40,262.20 C158.22,262.25 159.80,262.98 161.80,263.30 C163.80,263.62 166.22,264.20 168.40,264.10 C170.58,264.00 172.37,263.02 174.90,262.70 C177.43,262.38 181.05,262.23 183.60,262.20 C186.15,262.17 188.02,262.73 190.20,262.50 C192.38,262.27 194.48,261.37 196.70,260.80 C198.92,260.23 201.47,259.25 203.50,259.10 C205.53,258.95 207.08,259.67 208.90,259.90 C210.72,260.13 212.58,260.63 214.40,260.50 C216.22,260.37 217.98,259.47 219.80,259.10 C221.62,258.73 223.48,258.57 225.30,258.30 C227.12,258.03 228.88,257.68 230.70,257.50 C232.52,257.32 234.38,257.30 236.20,257.20 C238.02,257.10 239.78,257.03 241.60,256.90 C243.42,256.77 245.28,256.58 247.10,256.40 C248.92,256.22 250.78,256.02 252.50,255.80 C254.22,255.58 256.58,255.22 257.40,255.10" fill="none" stroke="#70C4B0" stroke-width="1.75" stroke-dasharray="6.5 2.8" clip-path="url(#clipc)"/>
<path d="M40.30,250.00 C40.50,256.67 41.12,279.50 41.50,290.00 C41.88,300.50 42.10,306.33 42.60,313.00 C43.10,319.67 43.60,323.50 44.50,330.00 C45.40,336.50 46.77,345.97 48.00,352.00 C49.23,358.03 50.82,366.20 51.90,366.20 C52.98,366.20 53.73,358.03 54.50,352.00 C55.27,345.97 56.03,336.00 56.50,330.00 C56.97,324.00 57.02,320.48 57.30,316.00 C57.58,311.52 57.83,307.10 58.20,303.10 C58.57,299.10 59.03,296.02 59.50,292.00 C59.97,287.98 60.45,283.00 61.00,279.00 C61.55,275.00 62.18,270.77 62.80,268.00 C63.42,265.23 64.08,263.60 64.70,262.40 C65.32,261.20 65.73,260.53 66.50,260.80 C67.27,261.07 68.38,263.60 69.30,264.00 C70.22,264.40 70.73,263.37 72.00,263.20 C73.27,263.03 75.23,263.03 76.90,263.00 C78.57,262.97 80.23,263.08 82.00,263.00 C83.77,262.92 85.68,262.55 87.50,262.50 C89.32,262.45 91.08,262.62 92.90,262.70 C94.72,262.78 96.58,262.58 98.40,263.00 C100.22,263.42 102.17,264.20 103.80,265.20 C105.43,266.20 106.92,268.00 108.20,269.00 C109.48,270.00 110.23,270.93 111.50,271.20 C112.77,271.47 114.35,271.23 115.80,270.60 C117.25,269.97 118.57,268.22 120.20,267.40 C121.83,266.58 123.78,266.17 125.60,265.70 C127.42,265.23 129.28,265.05 131.10,264.60 C132.92,264.15 135.05,262.82 136.50,263.00 C137.95,263.18 138.85,264.52 139.80,265.70 C140.75,266.88 141.17,268.92 142.20,270.10 C143.23,271.28 144.73,272.62 146.00,272.80 C147.27,272.98 148.43,272.10 149.80,271.20 C151.17,270.30 152.92,268.17 154.20,267.40 C155.48,266.63 156.42,266.42 157.50,266.60 C158.58,266.78 159.43,268.02 160.70,268.50 C161.97,268.98 163.63,269.97 165.10,269.50 C166.57,269.03 168.05,266.78 169.50,265.70 C170.95,264.62 172.72,263.58 173.80,263.00 C174.88,262.42 174.72,262.25 176.00,262.20 C177.28,262.15 179.68,262.62 181.50,262.70 C183.32,262.78 185.27,262.65 186.90,262.70 C188.53,262.75 190.03,262.87 191.30,263.00 C192.57,263.13 193.38,263.07 194.50,263.50 C195.62,263.93 196.68,264.97 198.00,265.60 C199.32,266.23 200.95,266.70 202.40,267.30 C203.85,267.90 205.35,268.80 206.70,269.20 C208.05,269.60 209.22,269.93 210.50,269.70 C211.78,269.47 212.85,268.57 214.40,267.80 C215.95,267.03 218.17,266.00 219.80,265.10 C221.43,264.20 222.92,263.13 224.20,262.40 C225.48,261.67 226.42,260.70 227.50,260.70 C228.58,260.70 229.43,261.85 230.70,262.40 C231.97,262.95 233.63,263.82 235.10,264.00 C236.57,264.18 238.23,264.05 239.50,263.50 C240.77,262.95 241.62,261.62 242.70,260.70 C243.78,259.78 244.72,258.63 246.00,258.00 C247.28,257.37 248.95,256.90 250.40,256.90 C251.85,256.90 253.53,257.90 254.70,258.00 C255.87,258.10 256.95,257.58 257.40,257.50" fill="none" stroke="#F7AD60" stroke-width="1.75" stroke-dasharray="11.2 2.8 1.75 2.8" clip-path="url(#clipc)"/>
<path d="M40.30,262.00 C40.43,263.53 40.62,264.47 41.10,271.20 C41.58,277.93 42.50,292.60 43.20,302.40 C43.90,312.20 44.50,322.07 45.30,330.00 C46.10,337.93 47.10,345.12 48.00,350.00 C48.90,354.88 49.87,359.30 50.70,359.30 C51.53,359.30 52.23,353.85 53.00,350.00 C53.77,346.15 54.75,341.25 55.30,336.20 C55.85,331.15 55.97,325.22 56.30,319.70 C56.63,314.18 56.90,307.72 57.30,303.10 C57.70,298.48 58.33,295.40 58.70,292.00 C59.07,288.60 59.18,285.78 59.50,282.70 C59.82,279.62 60.20,276.58 60.60,273.50 C61.00,270.42 61.47,266.37 61.90,264.20 C62.33,262.03 62.68,261.23 63.20,260.50 C63.72,259.77 64.20,259.88 65.00,259.80 C65.80,259.72 66.43,259.93 68.00,260.00 C69.57,260.07 72.07,260.15 74.40,260.20 C76.73,260.25 78.00,260.20 82.00,260.30 C86.00,260.40 94.77,260.43 98.40,260.80 C102.03,261.17 101.08,262.13 103.80,262.50 C106.52,262.87 111.07,262.92 114.70,263.00 C118.33,263.08 122.50,262.82 125.60,263.00 C128.70,263.18 130.90,263.73 133.30,264.10 C135.70,264.47 138.15,264.93 140.00,265.20 C141.85,265.47 142.95,265.62 144.40,265.70 C145.85,265.78 147.25,265.73 148.70,265.70 C150.15,265.67 151.63,265.63 153.10,265.50 C154.57,265.37 156.05,265.18 157.50,264.90 C158.95,264.62 160.35,263.93 161.80,263.80 C163.25,263.67 164.75,264.05 166.20,264.10 C167.65,264.15 168.87,264.02 170.50,264.10 C172.13,264.18 174.35,264.55 176.00,264.60 C177.65,264.65 178.95,264.53 180.40,264.40 C181.85,264.27 183.25,264.03 184.70,263.80 C186.15,263.57 187.63,263.32 189.10,263.00 C190.57,262.68 192.02,262.37 193.50,261.90 C194.98,261.43 196.52,260.43 198.00,260.20 C199.48,259.97 200.95,260.27 202.40,260.50 C203.85,260.73 205.25,261.28 206.70,261.60 C208.15,261.92 209.63,262.27 211.10,262.40 C212.57,262.53 214.05,262.53 215.50,262.40 C216.95,262.27 218.35,261.92 219.80,261.60 C221.25,261.28 222.75,260.87 224.20,260.50 C225.65,260.13 227.05,259.68 228.50,259.40 C229.95,259.12 231.43,258.77 232.90,258.80 C234.37,258.83 235.85,259.10 237.30,259.60 C238.75,260.10 240.15,261.43 241.60,261.80 C243.05,262.17 244.53,262.17 246.00,261.80 C247.47,261.43 248.95,260.42 250.40,259.60 C251.85,258.78 253.53,257.50 254.70,256.90 C255.87,256.30 256.95,256.15 257.40,256.00" fill="none" stroke="#A49ED8" stroke-width="1.9" stroke-dasharray="1.9 2.8" clip-path="url(#clipc)"/>
<path d="M39.80,291.00 C40.02,291.17 40.53,289.07 41.10,292.00 C41.67,294.93 42.57,304.68 43.20,308.60 C43.83,312.52 44.38,314.23 44.90,315.50 C45.42,316.77 45.78,316.28 46.30,316.20 C46.82,316.12 47.47,316.20 48.00,315.00 C48.53,313.80 48.88,311.30 49.50,309.00 C50.12,306.70 50.87,305.58 51.70,301.20 C52.53,296.82 53.73,287.63 54.50,282.70 C55.27,277.77 55.53,274.98 56.30,271.60 C57.07,268.22 58.17,264.87 59.10,262.40 C60.03,259.93 61.08,258.38 61.90,256.80 C62.72,255.22 62.95,253.97 64.00,252.90 C65.05,251.83 66.63,250.88 68.20,250.40 C69.77,249.92 71.97,249.87 73.40,250.00 C74.83,250.13 75.37,250.77 76.80,251.20 C78.23,251.63 80.05,252.15 82.00,252.60 C83.95,253.05 86.50,253.72 88.50,253.90 C90.50,254.08 92.17,254.10 94.00,253.70 C95.83,253.30 97.32,252.18 99.50,251.50 C101.68,250.82 104.57,249.77 107.10,249.60 C109.63,249.43 112.52,250.58 114.70,250.50 C116.88,250.42 118.38,249.68 120.20,249.10 C122.02,248.52 123.78,247.60 125.60,247.00 C127.42,246.40 129.03,245.93 131.10,245.50 C133.17,245.07 135.93,244.82 138.00,244.40 C140.07,243.98 141.68,243.50 143.50,243.00 C145.32,242.50 147.27,242.03 148.90,241.40 C150.53,240.77 151.85,239.85 153.30,239.20 C154.75,238.55 155.97,237.95 157.60,237.50 C159.23,237.05 161.28,236.58 163.10,236.50 C164.92,236.42 166.68,236.73 168.50,237.00 C170.32,237.27 172.17,237.83 174.00,238.10 C175.83,238.37 177.68,238.75 179.50,238.60 C181.32,238.45 183.08,237.55 184.90,237.20 C186.72,236.85 188.22,236.45 190.40,236.50 C192.58,236.55 195.82,237.27 198.00,237.50 C200.18,237.73 201.68,237.72 203.50,237.90 C205.32,238.08 207.08,238.38 208.90,238.60 C210.72,238.82 212.58,239.13 214.40,239.20 C216.22,239.27 217.98,238.85 219.80,239.00 C221.62,239.15 223.67,239.80 225.30,240.10 C226.93,240.40 228.15,240.77 229.60,240.80 C231.05,240.83 232.53,240.75 234.00,240.30 C235.47,239.85 236.77,238.73 238.40,238.10 C240.03,237.47 241.98,236.72 243.80,236.50 C245.62,236.28 247.67,236.57 249.30,236.80 C250.93,237.03 252.25,237.43 253.60,237.90 C254.95,238.37 256.77,239.32 257.40,239.60" fill="none" stroke="#F6786A" stroke-width="2.0" clip-path="url(#clipc)"/>
<rect x="39.8" y="221.3" width="217.59999999999997" height="167.89999999999998" fill="none" stroke="#333333" stroke-width="1.3"/>
<line x1="39.80" y1="389.2" x2="39.80" y2="386.0" stroke="#333333" stroke-width="1"/>
<line x1="94.20" y1="389.2" x2="94.20" y2="386.0" stroke="#333333" stroke-width="1"/>
<line x1="148.60" y1="389.2" x2="148.60" y2="386.0" stroke="#333333" stroke-width="1"/>
<line x1="203.00" y1="389.2" x2="203.00" y2="386.0" stroke="#333333" stroke-width="1"/>
<line x1="257.40" y1="389.2" x2="257.40" y2="386.0" stroke="#333333" stroke-width="1"/>
<line x1="39.8" y1="247.70" x2="43.0" y2="247.70" stroke="#333333" stroke-width="1"/>
<text x="36.90" y="251.60" text-anchor="end" class="t">3000</text>
<line x1="39.8" y1="285.10" x2="43.0" y2="285.10" stroke="#333333" stroke-width="1"/>
<text x="36.90" y="289.00" text-anchor="end" class="t">2000</text>
<line x1="39.8" y1="322.50" x2="43.0" y2="322.50" stroke="#333333" stroke-width="1"/>
<text x="36.90" y="326.40" text-anchor="end" class="t">1000</text>
<line x1="39.8" y1="359.90" x2="43.0" y2="359.90" stroke="#333333" stroke-width="1"/>
<text x="36.90" y="363.80" text-anchor="end" class="t">0</text>
<text x="39.80" y="400.40" text-anchor="middle" class="t">0</text>
<text x="94.20" y="400.40" text-anchor="middle" class="t">10,000</text>
<text x="148.60" y="400.40" text-anchor="middle" class="t">20,000</text>
<text x="203.00" y="400.40" text-anchor="middle" class="t">30,000</text>
<text x="257.40" y="400.40" text-anchor="middle" class="t">40,000</text>
<text x="149.00" y="409.20" text-anchor="middle" class="t">Episode</text>
<text transform="translate(14.80,305.25) rotate(-90)" text-anchor="middle" class="t">Reward Value</text>
<text x="153.60" y="426.10" text-anchor="middle" class="cap">(c)</text>
<path d="M169.1,340.2 L169.1,324.2 Q169.1,322.2 171.1,322.2 L193.1,322.2" fill="none" stroke="#E4E4E4" stroke-width="0.8"/>
<line x1="173.1" y1="330.20" x2="195.6" y2="330.20" stroke="#F6786A" stroke-width="2.0"/>
<text x="203.40" y="333.90" class="lg">DSAAC</text>
<line x1="173.1" y1="345.10" x2="195.6" y2="345.10" stroke="#70C4B0" stroke-width="1.75" stroke-dasharray="6.5 2.8"/>
<text x="203.40" y="348.80" class="lg">MADDPG</text>
<line x1="173.1" y1="360.00" x2="195.6" y2="360.00" stroke="#F7AD60" stroke-width="1.75" stroke-dasharray="11.2 2.8 1.75 2.8"/>
<text x="203.40" y="363.70" class="lg">MATD3</text>
<line x1="173.1" y1="374.90" x2="195.6" y2="374.90" stroke="#A49ED8" stroke-width="1.9" stroke-dasharray="1.9 2.8"/>
<text x="203.40" y="378.60" class="lg">MASAC</text>
<clipPath id="clipd"><rect x="313.5" y="221.7" width="217.70000000000005" height="168.40000000000003"/></clipPath>
<line x1="367.93" y1="221.7" x2="367.93" y2="390.1" stroke="#D9D9D9" stroke-width="1"/>
<line x1="422.35" y1="221.7" x2="422.35" y2="390.1" stroke="#D9D9D9" stroke-width="1"/>
<line x1="476.78" y1="221.7" x2="476.78" y2="390.1" stroke="#D9D9D9" stroke-width="1"/>
<line x1="313.5" y1="226.50" x2="531.2" y2="226.50" stroke="#D9D9D9" stroke-width="1"/>
<line x1="313.5" y1="249.88" x2="531.2" y2="249.88" stroke="#D9D9D9" stroke-width="1"/>
<line x1="313.5" y1="273.26" x2="531.2" y2="273.26" stroke="#D9D9D9" stroke-width="1"/>
<line x1="313.5" y1="296.65" x2="531.2" y2="296.65" stroke="#D9D9D9" stroke-width="1"/>
<line x1="313.5" y1="320.03" x2="531.2" y2="320.03" stroke="#D9D9D9" stroke-width="1"/>
<line x1="313.5" y1="343.41" x2="531.2" y2="343.41" stroke="#D9D9D9" stroke-width="1"/>
<line x1="313.5" y1="366.80" x2="531.2" y2="366.80" stroke="#D9D9D9" stroke-width="1"/>
<rect x="313.5" y="249.88" width="217.70000000000005" height="23.38" fill="#F1F1EE"/>
<path d="M314.0,270.5 L315.0,270.4 L316.0,252.7 L317.0,270.5 L318.0,258.6 L319.0,268.1 L320.0,271.4 L321.0,256.7 L322.0,252.9 L323.0,272.1 L324.0,264.3 L325.0,270.6 L326.0,260.7 L327.0,271.2 L328.0,271.2 L329.0,269.9 L330.0,261.5 L331.0,270.4 L332.0,270.4 L333.0,270.4 L334.0,270.4 L335.0,269.4 L336.0,270.7 L337.0,266.7 L338.0,264.8 L339.0,261.5 L340.0,266.8 L341.0,271.2 L342.0,257.9 L343.0,267.6 L344.0,272.0 L345.0,261.5 L346.0,270.6 L347.0,267.9 L348.0,262.7 L349.0,266.8 L350.0,268.2 L351.0,268.7 L352.0,269.4 L353.0,270.1 L354.0,269.8 L355.0,253.8 L356.0,262.3 L357.0,266.2 L358.0,258.8 L359.0,270.6 L360.0,269.7 L361.0,269.4 L362.0,270.1 L363.0,256.5 L364.0,270.5 L365.0,269.4 L366.0,262.5 L367.0,266.9 L368.0,268.8 L369.0,268.6 L370.0,268.5 L371.0,270.4 L372.0,260.1 L373.0,264.7 L374.0,270.5 L375.0,256.5 L376.0,269.7 L377.0,264.5 L378.0,261.9 L379.0,270.6 L380.0,271.0 L381.0,270.8 L382.0,264.7 L383.0,269.6 L384.0,256.0 L385.0,255.6 L386.0,262.0 L387.0,270.7 L388.0,270.5 L389.0,270.6 L390.0,269.5 L391.0,259.9 L392.0,258.0 L393.0,271.1 L394.0,269.9 L395.0,270.7 L396.0,258.1 L397.0,271.2 L398.0,265.4 L399.0,271.3 L400.0,256.3 L401.0,271.3 L402.0,259.2 L403.0,261.2 L404.0,256.9 L405.0,269.7 L406.0,257.2 L407.0,266.6 L408.0,270.5 L409.0,268.5 L410.0,265.3 L411.0,260.6 L412.0,271.5 L413.0,269.8 L414.0,253.5 L415.0,271.7 L416.0,258.9 L417.0,271.5 L418.0,271.7 L419.0,271.8 L420.0,265.0 L421.0,263.1 L422.0,256.4 L423.0,269.1 L424.0,255.6 L425.0,261.8 L426.0,271.1 L427.0,270.8 L428.0,268.7 L429.0,270.7 L430.0,266.4 L431.0,270.8 L432.0,264.1 L433.0,258.2 L434.0,264.5 L435.0,266.6 L436.0,262.5 L437.0,266.5 L438.0,258.7 L439.0,270.6 L440.0,264.1 L441.0,271.2 L442.0,261.8 L443.0,272.0 L444.0,264.2 L445.0,265.1 L446.0,268.7 L447.0,268.2 L448.0,270.0 L449.0,261.0 L450.0,255.7 L451.0,268.5 L452.0,271.4 L453.0,271.6 L454.0,269.9 L455.0,268.5 L456.0,270.9 L457.0,271.1 L458.0,269.7 L459.0,269.2 L460.0,262.8 L461.0,269.1 L462.0,265.8 L463.0,270.0 L464.0,265.4 L465.0,270.0 L466.0,263.7 L467.0,261.9 L468.0,271.4 L469.0,260.8 L470.0,270.7 L471.0,258.6 L472.0,270.7 L473.0,260.5 L474.0,269.1 L475.0,270.4 L476.0,270.6 L477.0,266.2 L478.0,257.3 L479.0,271.3 L480.0,265.9 L481.0,262.8 L482.0,267.1 L483.0,264.3 L484.0,269.1 L485.0,270.2 L486.0,268.5 L487.0,270.3 L488.0,261.9 L489.0,271.7 L490.0,271.0 L491.0,268.4 L492.0,270.1 L493.0,265.4 L494.0,261.6 L495.0,270.4 L496.0,271.4 L497.0,268.8 L498.0,270.2 L499.0,254.1 L500.0,268.9 L501.0,270.2 L502.0,269.1 L503.0,271.0 L504.0,271.1 L505.0,258.9 L506.0,270.6 L507.0,255.5 L508.0,271.2 L509.0,269.1 L510.0,270.9 L511.0,270.8 L512.0,262.3 L513.0,269.6 L514.0,255.8 L515.0,263.9 L516.0,270.6 L517.0,271.7 L518.0,258.1 L519.0,271.0 L520.0,270.9 L521.0,253.8 L522.0,264.6 L523.0,271.0 L524.0,270.3 L525.0,270.6 L526.0,263.2 L527.0,270.7 L528.0,271.5 L529.0,270.9 L530.0,270.7 L530.0,283.3 L529.0,282.4 L528.0,281.6 L527.0,278.7 L526.0,278.8 L525.0,278.6 L524.0,297.5 L523.0,283.7 L522.0,279.8 L521.0,282.6 L520.0,283.2 L519.0,284.7 L518.0,282.6 L517.0,281.1 L516.0,287.8 L515.0,283.5 L514.0,295.4 L513.0,284.0 L512.0,283.0 L511.0,280.0 L510.0,283.4 L509.0,293.3 L508.0,281.5 L507.0,290.3 L506.0,289.3 L505.0,282.5 L504.0,282.8 L503.0,281.8 L502.0,283.3 L501.0,283.0 L500.0,279.9 L499.0,289.3 L498.0,277.2 L497.0,278.0 L496.0,283.5 L495.0,283.8 L494.0,280.5 L493.0,285.8 L492.0,283.1 L491.0,281.8 L490.0,282.1 L489.0,283.8 L488.0,291.3 L487.0,282.8 L486.0,277.8 L485.0,297.7 L484.0,278.4 L483.0,281.5 L482.0,279.2 L481.0,284.9 L480.0,284.0 L479.0,279.8 L478.0,281.3 L477.0,291.2 L476.0,280.4 L475.0,283.6 L474.0,285.4 L473.0,276.6 L472.0,289.9 L471.0,277.0 L470.0,277.6 L469.0,282.5 L468.0,294.1 L467.0,288.3 L466.0,286.1 L465.0,292.0 L464.0,286.2 L463.0,288.3 L462.0,279.4 L461.0,278.1 L460.0,292.5 L459.0,282.9 L458.0,280.6 L457.0,280.3 L456.0,278.4 L455.0,282.7 L454.0,283.6 L453.0,291.4 L452.0,277.5 L451.0,284.4 L450.0,284.7 L449.0,288.4 L448.0,289.7 L447.0,282.3 L446.0,282.6 L445.0,291.2 L444.0,280.1 L443.0,293.6 L442.0,292.7 L441.0,290.2 L440.0,293.1 L439.0,277.3 L438.0,287.3 L437.0,282.7 L436.0,282.3 L435.0,292.8 L434.0,296.2 L433.0,282.5 L432.0,276.9 L431.0,292.7 L430.0,283.4 L429.0,283.2 L428.0,281.2 L427.0,276.7 L426.0,289.4 L425.0,278.5 L424.0,282.4 L423.0,283.1 L422.0,285.3 L421.0,288.5 L420.0,286.1 L419.0,278.8 L418.0,294.7 L417.0,291.5 L416.0,291.7 L415.0,282.7 L414.0,284.8 L413.0,287.1 L412.0,278.7 L411.0,295.7 L410.0,282.0 L409.0,279.4 L408.0,279.0 L407.0,291.2 L406.0,288.3 L405.0,285.1 L404.0,279.5 L403.0,277.3 L402.0,291.7 L401.0,282.1 L400.0,287.4 L399.0,298.4 L398.0,283.4 L397.0,289.4 L396.0,283.2 L395.0,278.0 L394.0,278.3 L393.0,283.0 L392.0,279.4 L391.0,282.1 L390.0,287.5 L389.0,283.9 L388.0,283.6 L387.0,281.9 L386.0,285.7 L385.0,282.9 L384.0,279.9 L383.0,277.8 L382.0,278.3 L381.0,280.9 L380.0,277.4 L379.0,284.2 L378.0,290.8 L377.0,284.0 L376.0,283.5 L375.0,288.4 L374.0,281.2 L373.0,281.6 L372.0,282.7 L371.0,284.1 L370.0,287.0 L369.0,277.9 L368.0,296.2 L367.0,281.7 L366.0,288.4 L365.0,278.1 L364.0,298.7 L363.0,277.0 L362.0,299.6 L361.0,283.4 L360.0,282.6 L359.0,280.5 L358.0,277.9 L357.0,288.7 L356.0,281.8 L355.0,290.5 L354.0,278.2 L353.0,299.8 L352.0,283.7 L351.0,280.0 L350.0,282.5 L349.0,287.3 L348.0,284.9 L347.0,293.1 L346.0,277.6 L345.0,281.0 L344.0,289.4 L343.0,282.0 L342.0,281.7 L341.0,295.3 L340.0,279.8 L339.0,295.4 L338.0,281.0 L337.0,279.7 L336.0,276.8 L335.0,285.6 L334.0,287.5 L333.0,281.8 L332.0,289.4 L331.0,296.6 L330.0,279.6 L329.0,279.4 L328.0,282.7 L327.0,283.8 L326.0,281.4 L325.0,277.0 L324.0,280.4 L323.0,292.3 L322.0,294.9 L321.0,282.0 L320.0,281.1 L319.0,279.6 L318.0,282.1 L317.0,278.3 L316.0,278.6 L315.0,288.2 L314.0,281.6Z" fill="#C8D4DC" fill-opacity="0.14" stroke="none" clip-path="url(#clipd)"/>
<path d="M313.5,218.4 L314.5,239.4 L315.5,237.7 L316.5,264.2 L317.5,249.8 L318.5,262.8 L319.5,284.8 L320.5,278.4 L321.5,258.8 L322.5,280.8 L323.5,285.9 L324.5,277.9 L325.5,296.0 L326.5,297.4 L327.5,284.8 L328.5,294.5 L329.5,294.2 L330.5,295.4 L331.5,277.7 L332.5,278.3 L333.5,283.3 L334.5,277.5 L335.5,259.3 L336.5,270.4 L337.5,268.2 L338.5,254.2 L339.5,252.2 L340.5,229.2 L341.5,249.0 L342.5,242.5 L343.5,209.6 L344.5,243.7 L345.5,242.0 L346.5,216.0 L347.5,235.7 L348.5,231.4 L349.5,218.7 L350.5,222.5 L351.5,228.9 L352.5,220.6 L353.5,204.1 L354.5,198.3 L355.5,222.5 L356.5,225.0 L357.5,218.6 L358.5,213.2 L359.5,218.2 L360.5,191.3 L361.5,188.7 L362.5,195.5 L363.5,197.6 L364.5,226.3 L365.5,213.5 L366.5,232.0 L367.5,227.7 L368.5,238.9 L369.5,216.3 L370.5,229.4 L371.5,250.8 L372.5,252.7 L373.5,251.3 L374.5,260.5 L375.5,259.7 L376.5,240.3 L377.5,259.0 L378.5,236.5 L379.5,275.2 L380.5,241.5 L381.5,265.1 L382.5,262.5 L383.5,262.0 L384.5,263.5 L385.5,241.5 L386.5,260.4 L387.5,235.2 L388.5,250.3 L389.5,230.9 L390.5,221.4 L391.5,229.6 L392.5,211.2 L393.5,236.5 L394.5,229.5 L395.5,233.9 L396.5,233.3 L397.5,236.0 L398.5,211.4 L399.5,233.1 L400.5,208.5 L401.5,191.5 L402.5,215.8 L403.5,233.0 L404.5,221.4 L405.5,231.3 L406.5,225.2 L407.5,189.5 L408.5,222.0 L409.5,185.8 L410.5,196.1 L411.5,177.8 L412.5,186.7 L413.5,218.3 L414.5,219.5 L415.5,217.4 L416.5,212.8 L417.5,222.8 L418.5,223.8 L419.5,209.1 L420.5,192.6 L421.5,211.8 L422.5,242.3 L423.5,244.4 L424.5,234.0 L425.5,257.0 L426.5,227.9 L427.5,227.4 L428.5,262.6 L429.5,224.5 L430.5,235.7 L431.5,251.3 L432.5,264.7 L433.5,265.8 L434.5,263.2 L435.5,236.3 L436.5,227.0 L437.5,234.4 L438.5,242.0 L439.5,263.8 L440.5,244.4 L441.5,221.4 L442.5,266.2 L443.5,257.0 L444.5,246.7 L445.5,257.0 L446.5,260.9 L447.5,232.5 L448.5,244.7 L449.5,208.1 L450.5,222.5 L451.5,226.9 L452.5,247.9 L453.5,247.1 L454.5,231.1 L455.5,242.2 L456.5,227.0 L457.5,242.5 L458.5,203.7 L459.5,236.0 L460.5,235.2 L461.5,228.7 L462.5,229.6 L463.5,222.3 L464.5,225.9 L465.5,190.2 L466.5,216.5 L467.5,215.3 L468.5,217.5 L469.5,220.2 L470.5,190.7 L471.5,231.8 L472.5,220.6 L473.5,232.9 L474.5,244.9 L475.5,242.9 L476.5,236.1 L477.5,257.5 L478.5,255.3 L479.5,256.1 L480.5,262.6 L481.5,224.5 L482.5,261.0 L483.5,268.6 L484.5,226.1 L485.5,273.8 L486.5,268.0 L487.5,241.5 L488.5,272.9 L489.5,270.6 L490.5,267.8 L491.5,225.3 L492.5,233.4 L493.5,259.8 L494.5,221.4 L495.5,253.1 L496.5,248.4 L497.5,255.1 L498.5,212.1 L499.5,196.7 L500.5,245.2 L501.5,244.0 L502.5,235.2 L503.5,237.1 L504.5,236.4 L505.5,205.5 L506.5,233.8 L507.5,231.8 L508.5,215.6 L509.5,238.8 L510.5,237.5 L511.5,226.5 L512.5,211.7 L513.5,231.8 L514.5,239.3 L515.5,226.0 L516.5,234.2 L517.5,230.7 L518.5,229.5 L519.5,211.3 L520.5,232.4 L521.5,235.3 L522.5,231.5 L523.5,237.7 L524.5,216.0 L525.5,235.9 L526.5,241.7 L527.5,226.0 L528.5,245.4 L529.5,236.4 L530.5,231.9 L530.5,282.5 L529.5,274.4 L528.5,294.9 L527.5,271.8 L526.5,269.2 L525.5,258.5 L524.5,270.2 L523.5,274.1 L522.5,282.9 L521.5,265.2 L520.5,271.3 L519.5,260.2 L518.5,265.6 L517.5,261.6 L516.5,254.7 L515.5,299.4 L514.5,259.3 L513.5,260.4 L512.5,256.3 L511.5,267.4 L510.5,257.8 L509.5,267.4 L508.5,253.0 L507.5,257.3 L506.5,263.3 L505.5,264.4 L504.5,267.4 L503.5,300.7 L502.5,257.4 L501.5,259.3 L500.5,289.5 L499.5,270.6 L498.5,269.1 L497.5,288.5 L496.5,280.3 L495.5,293.6 L494.5,283.1 L493.5,287.4 L492.5,303.2 L491.5,287.8 L490.5,283.5 L489.5,297.1 L488.5,287.9 L487.5,292.4 L486.5,293.7 L485.5,297.0 L484.5,328.6 L483.5,306.7 L482.5,283.7 L481.5,282.0 L480.5,282.5 L479.5,306.3 L478.5,275.9 L477.5,288.8 L476.5,276.0 L475.5,267.1 L474.5,272.5 L473.5,261.9 L472.5,279.7 L471.5,283.2 L470.5,245.1 L469.5,252.6 L468.5,244.2 L467.5,250.7 L466.5,249.2 L465.5,249.4 L464.5,248.9 L463.5,247.2 L462.5,254.3 L461.5,262.2 L460.5,258.1 L459.5,266.7 L458.5,260.0 L457.5,266.0 L456.5,267.9 L455.5,271.8 L454.5,268.9 L453.5,272.8 L452.5,275.3 L451.5,275.0 L450.5,291.7 L449.5,317.8 L448.5,291.0 L447.5,307.1 L446.5,290.6 L445.5,279.9 L444.5,307.0 L443.5,277.5 L442.5,294.5 L441.5,290.0 L440.5,285.4 L439.5,287.6 L438.5,285.2 L437.5,308.3 L436.5,329.1 L435.5,289.4 L434.5,283.3 L433.5,286.6 L432.5,289.3 L431.5,289.2 L430.5,292.4 L429.5,280.3 L428.5,287.5 L427.5,278.4 L426.5,275.3 L425.5,307.5 L424.5,305.5 L423.5,296.3 L422.5,275.9 L421.5,277.9 L420.5,261.5 L419.5,289.0 L418.5,256.0 L417.5,244.0 L416.5,278.4 L415.5,240.1 L414.5,245.3 L413.5,246.9 L412.5,239.1 L411.5,283.6 L410.5,258.6 L409.5,244.5 L408.5,252.9 L407.5,268.3 L406.5,260.9 L405.5,262.5 L404.5,247.8 L403.5,256.5 L402.5,250.4 L401.5,286.2 L400.5,291.9 L399.5,261.3 L398.5,292.6 L397.5,251.4 L396.5,254.6 L395.5,282.5 L394.5,263.2 L393.5,267.7 L392.5,262.2 L391.5,267.5 L390.5,293.9 L389.5,276.3 L388.5,276.2 L387.5,299.0 L386.5,288.7 L385.5,285.0 L384.5,307.5 L383.5,287.4 L382.5,317.4 L381.5,295.6 L380.5,297.0 L379.5,291.8 L378.5,314.5 L377.5,305.4 L376.5,292.0 L375.5,312.5 L374.5,289.7 L373.5,299.3 L372.5,289.0 L371.5,284.5 L370.5,288.7 L369.5,262.2 L368.5,261.8 L367.5,249.6 L366.5,258.0 L365.5,255.6 L364.5,269.2 L363.5,276.8 L362.5,287.4 L361.5,239.3 L360.5,247.1 L359.5,285.8 L358.5,246.7 L357.5,284.6 L356.5,267.6 L355.5,245.9 L354.5,253.1 L353.5,291.0 L352.5,262.3 L351.5,285.1 L350.5,250.5 L349.5,288.4 L348.5,256.7 L347.5,252.5 L346.5,256.6 L345.5,266.0 L344.5,273.3 L343.5,265.3 L342.5,282.1 L341.5,282.8 L340.5,300.8 L339.5,287.9 L338.5,287.4 L337.5,290.8 L336.5,285.1 L335.5,328.5 L334.5,294.3 L333.5,307.9 L332.5,310.9 L331.5,316.9 L330.5,321.8 L329.5,356.1 L328.5,319.6 L327.5,324.1 L326.5,320.8 L325.5,317.5 L324.5,318.2 L323.5,317.3 L322.5,310.2 L321.5,312.3 L320.5,316.0 L319.5,298.7 L318.5,305.7 L317.5,292.6 L316.5,287.3 L315.5,290.5 L314.5,273.5 L313.5,289.3Z" fill="#F6786A" fill-opacity="0.05" stroke="none" clip-path="url(#clipd)"/>
<path d="M313.5,227.9 L314.5,223.4 L315.5,255.9 L316.5,262.2 L317.5,227.1 L318.5,277.5 L319.5,286.9 L320.5,287.1 L321.5,296.1 L322.5,286.7 L323.5,295.3 L324.5,301.6 L325.5,294.8 L326.5,295.9 L327.5,301.0 L328.5,297.9 L329.5,263.5 L330.5,297.3 L331.5,278.9 L332.5,230.8 L333.5,284.7 L334.5,228.2 L335.5,279.3 L336.5,274.9 L337.5,214.3 L338.5,263.0 L339.5,221.2 L340.5,250.9 L341.5,214.9 L342.5,252.3 L343.5,250.6 L344.5,235.6 L345.5,235.7 L346.5,214.2 L347.5,211.5 L348.5,215.7 L349.5,233.0 L350.5,234.3 L351.5,233.9 L352.5,209.5 L353.5,188.6 L354.5,178.1 L355.5,221.2 L356.5,206.4 L357.5,232.4 L358.5,189.4 L359.5,214.8 L360.5,225.7 L361.5,230.7 L362.5,209.0 L363.5,199.8 L364.5,230.9 L365.5,227.0 L366.5,175.9 L367.5,232.5 L368.5,175.6 L369.5,184.3 L370.5,248.9 L371.5,253.0 L372.5,257.7 L373.5,257.5 L374.5,257.6 L375.5,257.6 L376.5,272.6 L377.5,279.1 L378.5,277.4 L379.5,254.7 L380.5,277.4 L381.5,243.5 L382.5,272.5 L383.5,273.6 L384.5,275.2 L385.5,203.4 L386.5,236.4 L387.5,230.2 L388.5,258.2 L389.5,229.8 L390.5,254.2 L391.5,250.0 L392.5,249.0 L393.5,240.7 L394.5,239.2 L395.5,180.6 L396.5,207.8 L397.5,238.0 L398.5,187.4 L399.5,231.7 L400.5,236.9 L401.5,232.5 L402.5,225.0 L403.5,234.1 L404.5,196.3 L405.5,207.5 L406.5,178.8 L407.5,216.4 L408.5,185.7 L409.5,216.8 L410.5,172.0 L411.5,196.6 L412.5,227.2 L413.5,186.5 L414.5,209.7 L415.5,198.2 L416.5,227.5 L417.5,224.5 L418.5,181.4 L419.5,234.5 L420.5,211.3 L421.5,245.3 L422.5,237.4 L423.5,253.7 L424.5,251.7 L425.5,200.8 L426.5,265.6 L427.5,268.4 L428.5,267.4 L429.5,207.4 L430.5,270.0 L431.5,267.3 L432.5,216.0 L433.5,249.9 L434.5,256.8 L435.5,268.6 L436.5,267.8 L437.5,265.4 L438.5,227.9 L439.5,261.5 L440.5,265.1 L441.5,260.3 L442.5,259.5 L443.5,265.1 L444.5,257.5 L445.5,245.7 L446.5,249.9 L447.5,254.5 L448.5,229.3 L449.5,259.4 L450.5,241.5 L451.5,257.6 L452.5,218.5 L453.5,252.0 L454.5,254.4 L455.5,190.2 L456.5,251.1 L457.5,220.2 L458.5,243.3 L459.5,242.6 L460.5,197.9 L461.5,207.9 L462.5,235.6 L463.5,209.0 L464.5,217.0 L465.5,165.9 L466.5,229.1 L467.5,211.0 L468.5,225.0 L469.5,222.7 L470.5,227.9 L471.5,230.8 L472.5,195.7 L473.5,243.7 L474.5,236.7 L475.5,219.8 L476.5,207.5 L477.5,260.5 L478.5,260.6 L479.5,267.1 L480.5,267.8 L481.5,258.3 L482.5,271.8 L483.5,272.6 L484.5,254.6 L485.5,212.2 L486.5,272.6 L487.5,259.8 L488.5,268.3 L489.5,272.9 L490.5,264.5 L491.5,258.2 L492.5,259.7 L493.5,214.2 L494.5,219.4 L495.5,254.0 L496.5,207.4 L497.5,253.6 L498.5,241.3 L499.5,247.6 L500.5,221.4 L501.5,247.5 L502.5,222.5 L503.5,246.2 L504.5,222.3 L505.5,244.1 L506.5,190.7 L507.5,215.3 L508.5,217.6 L509.5,227.4 L510.5,180.6 L511.5,189.0 L512.5,170.2 L513.5,240.6 L514.5,237.6 L515.5,186.9 L516.5,175.2 L517.5,231.9 L518.5,240.9 L519.5,239.4 L520.5,219.2 L521.5,241.0 L522.5,216.1 L523.5,240.5 L524.5,223.8 L525.5,235.7 L526.5,245.3 L527.5,221.5 L528.5,247.4 L529.5,238.5 L530.5,220.7 L530.5,270.9 L529.5,264.5 L528.5,289.5 L527.5,312.7 L526.5,323.7 L525.5,266.6 L524.5,261.8 L523.5,261.6 L522.5,259.3 L521.5,259.4 L520.5,251.7 L519.5,252.3 L518.5,303.0 L517.5,251.8 L516.5,253.9 L515.5,251.6 L514.5,252.3 L513.5,260.4 L512.5,287.2 L511.5,253.4 L510.5,253.7 L509.5,297.9 L508.5,278.0 L507.5,305.4 L506.5,299.5 L505.5,286.7 L504.5,298.8 L503.5,271.0 L502.5,303.3 L501.5,310.5 L500.5,263.8 L499.5,309.4 L498.5,313.2 L497.5,268.4 L496.5,271.6 L495.5,276.8 L494.5,284.0 L493.5,279.8 L492.5,324.3 L491.5,287.6 L490.5,346.3 L489.5,300.7 L488.5,286.4 L487.5,292.2 L486.5,307.7 L485.5,287.5 L484.5,288.7 L483.5,349.8 L482.5,305.2 L481.5,282.4 L480.5,278.8 L479.5,276.8 L478.5,306.9 L477.5,278.3 L476.5,310.8 L475.5,261.6 L474.5,254.8 L473.5,251.7 L472.5,248.2 L471.5,241.3 L470.5,285.6 L469.5,262.9 L468.5,282.1 L467.5,237.6 L466.5,236.7 L465.5,269.5 L464.5,257.3 L463.5,273.1 L462.5,273.3 L461.5,277.8 L460.5,250.0 L459.5,253.3 L458.5,289.7 L457.5,262.7 L456.5,304.5 L455.5,262.3 L454.5,274.7 L453.5,271.5 L452.5,276.2 L451.5,272.7 L450.5,274.7 L449.5,331.1 L448.5,323.7 L447.5,277.9 L446.5,295.5 L445.5,308.7 L444.5,328.5 L443.5,299.6 L442.5,315.8 L441.5,283.7 L440.5,287.0 L439.5,283.4 L438.5,296.2 L437.5,280.8 L436.5,291.9 L435.5,348.4 L434.5,280.3 L433.5,290.2 L432.5,287.9 L431.5,280.7 L430.5,284.8 L429.5,291.7 L428.5,296.6 L427.5,278.4 L426.5,274.9 L425.5,272.3 L424.5,306.3 L423.5,301.1 L422.5,262.3 L421.5,280.2 L420.5,300.3 L419.5,303.7 L418.5,293.0 L417.5,304.3 L416.5,256.7 L415.5,238.5 L414.5,235.1 L413.5,233.1 L412.5,236.4 L411.5,238.5 L410.5,243.4 L409.5,241.9 L408.5,256.2 L407.5,242.1 L406.5,284.1 L405.5,248.1 L404.5,249.6 L403.5,257.5 L402.5,244.2 L401.5,257.9 L400.5,314.6 L399.5,253.7 L398.5,280.9 L397.5,305.8 L396.5,282.8 L395.5,253.8 L394.5,250.9 L393.5,310.0 L392.5,260.4 L391.5,262.2 L390.5,287.9 L389.5,263.3 L388.5,271.3 L387.5,272.8 L386.5,342.3 L385.5,287.3 L384.5,286.2 L383.5,296.3 L382.5,298.1 L381.5,287.7 L380.5,309.2 L379.5,326.7 L378.5,350.5 L377.5,345.1 L376.5,301.1 L375.5,285.5 L374.5,343.6 L373.5,277.0 L372.5,287.1 L371.5,268.6 L370.5,269.3 L369.5,254.6 L368.5,270.7 L367.5,261.2 L366.5,277.3 L365.5,240.0 L364.5,240.6 L363.5,282.6 L362.5,273.1 L361.5,236.9 L360.5,243.3 L359.5,241.0 L358.5,242.7 L357.5,270.1 L356.5,294.8 L355.5,254.5 L354.5,259.7 L353.5,263.4 L352.5,252.7 L351.5,247.2 L350.5,248.0 L349.5,267.1 L348.5,253.0 L347.5,250.5 L346.5,257.7 L345.5,269.6 L344.5,270.7 L343.5,263.4 L342.5,262.9 L341.5,268.0 L340.5,267.7 L339.5,319.3 L338.5,274.7 L337.5,280.9 L336.5,282.9 L335.5,315.9 L334.5,290.9 L333.5,295.1 L332.5,301.9 L331.5,306.0 L330.5,304.1 L329.5,348.8 L328.5,321.8 L327.5,324.7 L326.5,313.0 L325.5,322.9 L324.5,323.2 L323.5,332.9 L322.5,307.3 L321.5,348.1 L320.5,362.3 L319.5,330.6 L318.5,294.3 L317.5,308.4 L316.5,338.6 L315.5,264.6 L314.5,269.6 L313.5,250.9Z" fill="#F6786A" fill-opacity="0.04" stroke="none" clip-path="url(#clipd)"/>
<path d="M313.50,263.74 C314.17,263.76 316.17,263.78 317.50,263.87 C318.83,263.97 320.17,264.33 321.50,264.31 C322.83,264.29 324.17,263.84 325.50,263.76 C326.83,263.68 328.17,263.79 329.50,263.81 C330.83,263.83 332.17,263.97 333.50,263.90 C334.83,263.84 336.17,263.44 337.50,263.42 C338.83,263.41 340.17,263.73 341.50,263.81 C342.83,263.90 344.17,263.90 345.50,263.96 C346.83,264.01 348.17,264.26 349.50,264.15 C350.83,264.04 352.17,263.41 353.50,263.31 C354.83,263.22 356.17,263.56 357.50,263.56 C358.83,263.56 360.17,263.21 361.50,263.31 C362.83,263.41 364.17,264.05 365.50,264.17 C366.83,264.29 368.17,264.19 369.50,264.03 C370.83,263.88 372.17,263.19 373.50,263.25 C374.83,263.31 376.17,264.19 377.50,264.38 C378.83,264.56 380.17,264.42 381.50,264.36 C382.83,264.29 384.17,264.05 385.50,263.98 C386.83,263.91 388.17,264.04 389.50,263.94 C390.83,263.84 392.17,263.51 393.50,263.39 C394.83,263.27 396.17,263.14 397.50,263.22 C398.83,263.29 400.17,263.83 401.50,263.83 C402.83,263.84 404.17,263.34 405.50,263.27 C406.83,263.20 408.17,263.39 409.50,263.43 C410.83,263.46 412.17,263.52 413.50,263.49 C414.83,263.46 416.17,263.19 417.50,263.24 C418.83,263.28 420.17,263.67 421.50,263.76 C422.83,263.84 424.17,263.65 425.50,263.73 C426.83,263.80 428.17,264.20 429.50,264.21 C430.83,264.23 432.17,263.86 433.50,263.82 C434.83,263.78 436.17,263.97 437.50,263.97 C438.83,263.96 440.17,263.80 441.50,263.80 C442.83,263.80 444.17,264.00 445.50,263.99 C446.83,263.99 448.17,263.83 449.50,263.75 C450.83,263.67 452.17,263.43 453.50,263.53 C454.83,263.64 456.17,264.25 457.50,264.40 C458.83,264.54 460.17,264.43 461.50,264.39 C462.83,264.36 464.17,264.27 465.50,264.21 C466.83,264.15 468.17,264.15 469.50,264.05 C470.83,263.94 472.17,263.67 473.50,263.58 C474.83,263.48 476.17,263.48 477.50,263.48 C478.83,263.47 480.17,263.58 481.50,263.55 C482.83,263.51 484.17,263.19 485.50,263.28 C486.83,263.38 488.17,264.05 489.50,264.12 C490.83,264.19 492.17,263.66 493.50,263.68 C494.83,263.70 496.17,264.22 497.50,264.22 C498.83,264.21 500.17,263.64 501.50,263.66 C502.83,263.69 504.17,264.26 505.50,264.35 C506.83,264.44 508.17,264.41 509.50,264.22 C510.83,264.03 512.17,263.33 513.50,263.20 C514.83,263.07 516.17,263.27 517.50,263.45 C518.83,263.63 520.17,264.24 521.50,264.29 C522.83,264.34 524.17,263.75 525.50,263.76 C526.83,263.78 528.83,264.27 529.50,264.38" fill="none" stroke="#70C4B0" stroke-width="1.75" stroke-dasharray="6.5 2.8" clip-path="url(#clipd)"/>
<path d="M313.50,260.97 C314.17,261.01 316.17,261.15 317.50,261.19 C318.83,261.23 320.17,261.30 321.50,261.20 C322.83,261.10 324.17,260.70 325.50,260.57 C326.83,260.44 328.17,260.37 329.50,260.41 C330.83,260.46 332.17,260.80 333.50,260.85 C334.83,260.90 336.17,260.64 337.50,260.73 C338.83,260.82 340.17,261.29 341.50,261.37 C342.83,261.46 344.17,261.27 345.50,261.23 C346.83,261.19 348.17,261.15 349.50,261.12 C350.83,261.10 352.17,261.06 353.50,261.07 C354.83,261.08 356.17,261.28 357.50,261.19 C358.83,261.11 360.17,260.62 361.50,260.57 C362.83,260.53 364.17,260.92 365.50,260.93 C366.83,260.93 368.17,260.50 369.50,260.59 C370.83,260.69 372.17,261.51 373.50,261.49 C374.83,261.47 376.17,260.49 377.50,260.47 C378.83,260.45 380.17,261.38 381.50,261.38 C382.83,261.39 384.17,260.52 385.50,260.49 C386.83,260.46 388.17,261.17 389.50,261.22 C390.83,261.28 392.17,260.86 393.50,260.80 C394.83,260.75 396.17,260.78 397.50,260.89 C398.83,260.99 400.17,261.49 401.50,261.41 C402.83,261.33 404.17,260.58 405.50,260.42 C406.83,260.27 408.17,260.29 409.50,260.47 C410.83,260.65 412.17,261.41 413.50,261.50 C414.83,261.59 416.17,261.18 417.50,261.01 C418.83,260.85 420.17,260.41 421.50,260.51 C422.83,260.60 424.17,261.41 425.50,261.58 C426.83,261.76 428.17,261.71 429.50,261.54 C430.83,261.36 432.17,260.64 433.50,260.54 C434.83,260.43 436.17,260.90 437.50,260.91 C438.83,260.91 440.17,260.58 441.50,260.56 C442.83,260.54 444.17,260.68 445.50,260.78 C446.83,260.87 448.17,261.18 449.50,261.15 C450.83,261.12 452.17,260.58 453.50,260.60 C454.83,260.61 456.17,261.26 457.50,261.24 C458.83,261.21 460.17,260.57 461.50,260.46 C462.83,260.36 464.17,260.45 465.50,260.61 C466.83,260.76 468.17,261.33 469.50,261.38 C470.83,261.42 472.17,260.96 473.50,260.88 C474.83,260.80 476.17,260.86 477.50,260.90 C478.83,260.94 480.17,261.10 481.50,261.12 C482.83,261.13 484.17,261.01 485.50,260.97 C486.83,260.93 488.17,260.95 489.50,260.86 C490.83,260.77 492.17,260.37 493.50,260.44 C494.83,260.50 496.17,261.08 497.50,261.27 C498.83,261.46 500.17,261.51 501.50,261.56 C502.83,261.61 504.17,261.63 505.50,261.57 C506.83,261.51 508.17,261.32 509.50,261.20 C510.83,261.07 512.17,260.89 513.50,260.83 C514.83,260.77 516.17,260.77 517.50,260.84 C518.83,260.90 520.17,261.17 521.50,261.23 C522.83,261.29 524.17,261.32 525.50,261.21 C526.83,261.09 528.83,260.65 529.50,260.54" fill="none" stroke="#F7AD60" stroke-width="1.75" stroke-dasharray="11.2 2.8 1.75 2.8" clip-path="url(#clipd)"/>
<path d="M313.50,262.21 C314.17,262.30 316.17,262.64 317.50,262.72 C318.83,262.81 320.17,262.69 321.50,262.72 C322.83,262.75 324.17,263.02 325.50,262.92 C326.83,262.82 328.17,262.25 329.50,262.12 C330.83,262.00 332.17,262.18 333.50,262.18 C334.83,262.17 336.17,262.08 337.50,262.08 C338.83,262.08 340.17,262.05 341.50,262.17 C342.83,262.29 344.17,262.80 345.50,262.78 C346.83,262.76 348.17,262.10 349.50,262.06 C350.83,262.02 352.17,262.52 353.50,262.54 C354.83,262.55 356.17,262.20 357.50,262.16 C358.83,262.11 360.17,262.21 361.50,262.25 C362.83,262.30 364.17,262.31 365.50,262.42 C366.83,262.53 368.17,262.87 369.50,262.91 C370.83,262.94 372.17,262.79 373.50,262.63 C374.83,262.47 376.17,261.98 377.50,261.92 C378.83,261.85 380.17,262.20 381.50,262.23 C382.83,262.26 384.17,261.96 385.50,262.08 C386.83,262.20 388.17,262.81 389.50,262.95 C390.83,263.08 392.17,262.88 393.50,262.87 C394.83,262.86 396.17,262.86 397.50,262.87 C398.83,262.87 400.17,262.90 401.50,262.89 C402.83,262.88 404.17,262.77 405.50,262.79 C406.83,262.82 408.17,263.03 409.50,263.04 C410.83,263.05 412.17,262.99 413.50,262.85 C414.83,262.71 416.17,262.20 417.50,262.21 C418.83,262.22 420.17,262.87 421.50,262.92 C422.83,262.97 424.17,262.50 425.50,262.48 C426.83,262.47 428.17,262.79 429.50,262.81 C430.83,262.82 432.17,262.64 433.50,262.58 C434.83,262.51 436.17,262.46 437.50,262.42 C438.83,262.38 440.17,262.34 441.50,262.34 C442.83,262.34 444.17,262.43 445.50,262.42 C446.83,262.41 448.17,262.34 449.50,262.28 C450.83,262.21 452.17,261.94 453.50,262.04 C454.83,262.14 456.17,262.75 457.50,262.88 C458.83,263.02 460.17,262.82 461.50,262.86 C462.83,262.89 464.17,263.10 465.50,263.08 C466.83,263.06 468.17,262.82 469.50,262.73 C470.83,262.64 472.17,262.55 473.50,262.57 C474.83,262.58 476.17,262.88 477.50,262.80 C478.83,262.71 480.17,262.08 481.50,262.06 C482.83,262.05 484.17,262.65 485.50,262.71 C486.83,262.77 488.17,262.53 489.50,262.43 C490.83,262.33 492.17,262.16 493.50,262.11 C494.83,262.06 496.17,262.07 497.50,262.14 C498.83,262.21 500.17,262.52 501.50,262.53 C502.83,262.54 504.17,262.22 505.50,262.20 C506.83,262.19 508.17,262.38 509.50,262.45 C510.83,262.52 512.17,262.64 513.50,262.63 C514.83,262.61 516.17,262.47 517.50,262.37 C518.83,262.28 520.17,262.04 521.50,262.06 C522.83,262.08 524.17,262.47 525.50,262.49 C526.83,262.51 528.83,262.23 529.50,262.18" fill="none" stroke="#A49ED8" stroke-width="1.9" stroke-dasharray="1.9 2.8" clip-path="url(#clipd)"/>
<path d="M313.50,240.00 C313.60,240.50 313.73,239.22 314.10,243.00 C314.47,246.78 315.13,256.40 315.70,262.70 C316.27,269.00 316.82,275.52 317.50,280.80 C318.18,286.08 318.85,290.25 319.80,294.40 C320.75,298.55 322.15,302.98 323.20,305.70 C324.25,308.42 325.17,310.32 326.10,310.70 C327.03,311.08 328.15,309.40 328.80,308.00 C329.45,306.60 329.55,303.88 330.00,302.30 C330.45,300.72 330.93,300.20 331.50,298.50 C332.07,296.80 332.52,295.42 333.40,292.10 C334.28,288.78 335.68,283.12 336.80,278.60 C337.92,274.08 338.98,269.15 340.10,265.00 C341.22,260.85 342.37,256.90 343.50,253.70 C344.63,250.50 345.38,248.07 346.90,245.80 C348.42,243.53 350.90,241.80 352.60,240.10 C354.30,238.40 355.83,236.62 357.10,235.60 C358.37,234.58 359.12,234.22 360.20,234.00 C361.28,233.78 362.58,233.60 363.60,234.30 C364.62,235.00 365.40,235.75 366.30,238.20 C367.20,240.65 368.10,245.10 369.00,249.00 C369.90,252.90 370.80,257.38 371.70,261.60 C372.60,265.82 373.50,270.68 374.40,274.30 C375.30,277.92 376.20,281.27 377.10,283.30 C378.00,285.33 378.90,286.35 379.80,286.50 C380.70,286.65 381.60,285.93 382.50,284.20 C383.40,282.47 384.30,278.97 385.20,276.10 C386.10,273.23 387.00,270.32 387.90,267.00 C388.80,263.68 389.55,259.50 390.60,256.20 C391.65,252.90 393.00,249.30 394.20,247.20 C395.40,245.10 396.75,244.43 397.80,243.60 C398.85,242.77 399.60,242.55 400.50,242.20 C401.40,241.85 402.15,242.17 403.20,241.50 C404.25,240.83 405.60,239.65 406.80,238.20 C408.00,236.75 409.20,234.23 410.40,232.80 C411.60,231.37 412.95,229.75 414.00,229.60 C415.05,229.45 415.80,230.17 416.70,231.90 C417.60,233.63 418.50,236.70 419.40,240.00 C420.30,243.30 421.20,247.80 422.10,251.70 C423.00,255.60 423.90,260.08 424.80,263.40 C425.70,266.72 426.63,269.55 427.50,271.60 C428.37,273.65 428.65,275.17 430.00,275.70 C431.35,276.23 433.43,275.27 435.60,274.80 C437.77,274.33 440.83,273.98 443.00,272.90 C445.17,271.82 446.75,270.30 448.60,268.30 C450.45,266.30 452.25,264.30 454.10,260.90 C455.95,257.50 458.00,252.07 459.70,247.90 C461.40,243.73 463.07,238.73 464.30,235.90 C465.53,233.07 466.27,231.67 467.10,230.90 C467.93,230.13 468.53,230.00 469.30,231.30 C470.07,232.60 470.83,235.32 471.70,238.70 C472.57,242.08 473.42,246.98 474.50,251.60 C475.58,256.22 476.95,262.07 478.20,266.40 C479.45,270.73 480.85,275.12 482.00,277.60 C483.15,280.08 484.03,281.15 485.10,281.30 C486.17,281.45 487.07,280.05 488.40,278.50 C489.73,276.95 491.70,274.63 493.10,272.00 C494.50,269.37 495.57,265.93 496.80,262.70 C498.03,259.47 499.27,254.90 500.50,252.60 C501.73,250.30 502.65,249.98 504.20,248.90 C505.75,247.82 507.95,246.73 509.80,246.10 C511.65,245.47 513.77,245.10 515.30,245.10 C516.83,245.10 517.75,245.32 519.00,246.10 C520.25,246.88 521.55,248.57 522.80,249.80 C524.05,251.03 525.10,252.73 526.50,253.50 C527.90,254.27 530.42,254.25 531.20,254.40" fill="none" stroke="#F6786A" stroke-width="2.0" clip-path="url(#clipd)"/>
<rect x="313.5" y="221.7" width="217.70000000000005" height="168.40000000000003" fill="none" stroke="#333333" stroke-width="1.3"/>
<line x1="313.50" y1="390.1" x2="313.50" y2="386.90000000000003" stroke="#333333" stroke-width="1"/>
<line x1="367.93" y1="390.1" x2="367.93" y2="386.90000000000003" stroke="#333333" stroke-width="1"/>
<line x1="422.35" y1="390.1" x2="422.35" y2="386.90000000000003" stroke="#333333" stroke-width="1"/>
<line x1="476.78" y1="390.1" x2="476.78" y2="386.90000000000003" stroke="#333333" stroke-width="1"/>
<line x1="531.20" y1="390.1" x2="531.20" y2="386.90000000000003" stroke="#333333" stroke-width="1"/>
<line x1="313.5" y1="226.50" x2="316.7" y2="226.50" stroke="#333333" stroke-width="1"/>
<text x="310.60" y="230.40" text-anchor="end" class="t">22,500</text>
<line x1="313.5" y1="249.88" x2="316.7" y2="249.88" stroke="#333333" stroke-width="1"/>
<text x="310.60" y="253.78" text-anchor="end" class="t">20,000</text>
<line x1="313.5" y1="273.26" x2="316.7" y2="273.26" stroke="#333333" stroke-width="1"/>
<text x="310.60" y="277.16" text-anchor="end" class="t">17,500</text>
<line x1="313.5" y1="296.65" x2="316.7" y2="296.65" stroke="#333333" stroke-width="1"/>
<text x="310.60" y="300.55" text-anchor="end" class="t">15,000</text>
<line x1="313.5" y1="320.03" x2="316.7" y2="320.03" stroke="#333333" stroke-width="1"/>
<text x="310.60" y="323.93" text-anchor="end" class="t">12,500</text>
<line x1="313.5" y1="343.41" x2="316.7" y2="343.41" stroke="#333333" stroke-width="1"/>
<text x="310.60" y="347.31" text-anchor="end" class="t">10,000</text>
<line x1="313.5" y1="366.80" x2="316.7" y2="366.80" stroke="#333333" stroke-width="1"/>
<text x="310.60" y="370.69" text-anchor="end" class="t">7500</text>
<line x1="313.5" y1="390.18" x2="316.7" y2="390.18" stroke="#333333" stroke-width="1"/>
<text x="310.60" y="394.08" text-anchor="end" class="t">5000</text>
<text x="313.50" y="401.30" text-anchor="middle" class="t">0</text>
<text x="367.93" y="401.30" text-anchor="middle" class="t">10,000</text>
<text x="422.35" y="401.30" text-anchor="middle" class="t">20,000</text>
<text x="476.78" y="401.30" text-anchor="middle" class="t">30,000</text>
<text x="531.20" y="401.30" text-anchor="middle" class="t">40,000</text>
<text x="422.75" y="409.70" text-anchor="middle" class="t">Episode</text>
<text transform="translate(282.00,306.60) rotate(-90)" text-anchor="middle" class="t">Reward Value</text>
<text x="420.50" y="426.00" text-anchor="middle" class="cap">(d)</text>
<path d="M442.8,341.0 L442.8,325.0 Q442.8,323.0 444.8,323.0 L466.8,323.0" fill="none" stroke="#E4E4E4" stroke-width="0.8"/>
<line x1="446.8" y1="331.00" x2="469.3" y2="331.00" stroke="#F6786A" stroke-width="2.0"/>
<text x="477.10" y="334.70" class="lg">DSAAC</text>
<line x1="446.8" y1="345.90" x2="469.3" y2="345.90" stroke="#70C4B0" stroke-width="1.75" stroke-dasharray="6.5 2.8"/>
<text x="477.10" y="349.60" class="lg">MADDPG</text>
<line x1="446.8" y1="360.80" x2="469.3" y2="360.80" stroke="#F7AD60" stroke-width="1.75" stroke-dasharray="11.2 2.8 1.75 2.8"/>
<text x="477.10" y="364.50" class="lg">MATD3</text>
<line x1="446.8" y1="375.70" x2="469.3" y2="375.70" stroke="#A49ED8" stroke-width="1.9" stroke-dasharray="1.9 2.8"/>
<text x="477.10" y="379.40" class="lg">MASAC</text>
</svg>
</body></html>
